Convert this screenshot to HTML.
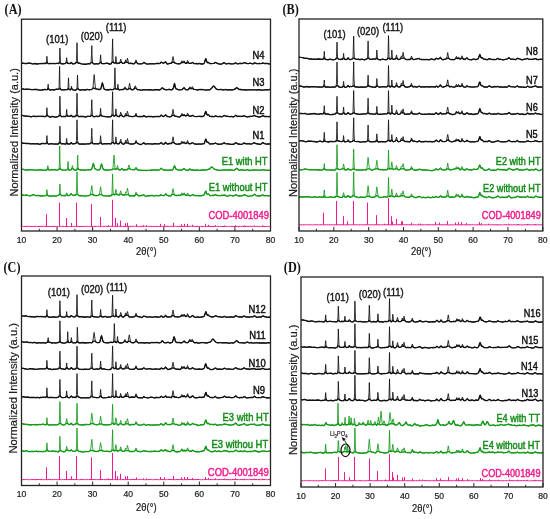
<!DOCTYPE html>
<html><head><meta charset="utf-8"><style>
html,body{margin:0;padding:0;background:#fff;}
svg{display:block;}
</style></head><body>
<svg width="550" height="519" viewBox="0 0 550 519" font-family="'Liberation Sans', Arial, sans-serif">
<rect width="550" height="519" fill="#fff"/>
<polyline fill="none" stroke="#111111" stroke-width="1.35" stroke-linejoin="round" points="21.5,63 25.5,63.6 26,63.4 27,63.5 28,63.2 29,63.3 29.5,63.1 31.5,63.5 32,63.8 33.5,63.8 35,63.5 37,64 39.5,63.6 40,63.7 41,63.5 41.5,63.6 44.5,63.3 45.5,63.5 46,63.4 46.5,62.4 47,62.5 48,63.6 48.5,63.7 50,63.4 52,63.6 53,63.4 55.5,63.6 57,63.3 58,63.4 58.5,63.6 59,63.4 59.5,62.6 60.5,62.9 61,63.6 62,63.9 63,63.6 63.5,63.9 65.5,63.4 66.5,62.1 66.7,62.1 67,62.2 67.5,63.3 68,63.4 70,63.5 70.5,63.4 71,62.8 71.5,62.6 72.5,63.8 74,63.9 75.5,63.2 76.5,62.1 77,62.4 77.5,62.3 78,63 78.5,63.2 79.5,63.2 81.5,63.9 83.5,64.2 86.5,64.2 87.5,63.8 89,63.7 90,63.9 91.5,62.3 91.8,62.3 92,62.3 92.5,62.7 93,63.5 94,64 95.5,63.9 96.5,63.7 97,63.9 98.5,63.8 99.5,63.3 100.6,62.1 101,62.2 101.5,63.3 102.5,63.7 104.5,63.6 107,63.1 109.5,64 110.5,64 111,63.8 112,62.4 113,61.9 114,62.9 115,63.2 115.5,62.6 116.5,62.9 117,63.5 119,63.1 119.5,63.2 120,62.3 121,62.2 121.5,62.2 122,62.9 122.5,63.3 124,63.4 124.5,63.1 125,62.2 125.7,62.3 126,62.1 128,62.5 129,63.4 129.5,63.6 130.5,63.2 131.5,63.5 132,63.3 133,63.9 134.5,63.6 135.5,62.1 136.5,62.1 137.5,63.5 139,63.9 140.5,63.9 142.5,63.6 143.9,62.4 145.5,63.5 147.5,64.1 149,63.9 150,63.6 150.5,63.8 152,63.6 154.5,63.8 156.5,63.4 159.5,63.5 160,63.4 160.5,63 161,62.2 161.5,62.2 162.5,62.9 163.5,63.2 165,62.3 166,62.4 167,63.8 167.5,64 170,63.3 171,63.4 171.5,63.1 172,62.1 172.5,62.3 173.5,62.1 174,62.2 174.5,62.9 177.5,63.8 178.5,63.7 179,63.9 180.5,63.6 181.5,62.6 183,62.6 183.5,62.2 184.1,62.1 184.5,62.3 185.5,63.4 186.5,63.3 187,62.7 187.6,62.7 188,62.4 188.5,62.6 189,63.3 191,63.4 192.6,62.5 193,62.6 193.5,63.5 194,63.6 195.5,63.6 196,63.4 196.5,63.7 198.5,63.7 199,63.4 200,63.7 201,63.7 201.5,64 203,64 204,63.5 204.5,62.5 205.5,59.1 205.8,58.8 206,59.1 207,62.3 207.5,62.7 208.5,62.5 209.5,63.5 210,63.6 210.5,63.4 211,63.6 214,63.4 215,62.5 216,62.7 217.5,63.5 218,63.5 219.5,64.1 221.5,64 222.5,63.6 224,62.6 224.5,62.8 225.5,63.7 226,63.8 226.5,63.9 229,63.3 230.5,63.9 232.5,63.9 234.5,63.6 235,63 235.6,62.7 237,63.8 237.5,63.9 240,63.3 242.5,63.5 244.5,62.6 245.5,63.2 246,63.1 247.5,63.6 248.5,63.6 250,63.2 251,63.3 252.5,63.8 253,63.8 253.5,63.8 254.5,62.8 257,63.7 259,63.6 259.5,63.4 260,63.6 261,63.6 262,63.4 262.7,62.8 263.5,63.3 265,63.5 267.5,63.5 269,63.9 270,64 270.5,63.8"/>
<polyline fill="none" stroke="#111111" stroke-width="0.85" stroke-linejoin="round" points="21.5,63 25.5,63.6 26,63.4 27,63.5 28,63.2 29,63.3 29.5,63.1 31.5,63.5 32,63.8 33.5,63.8 35,63.5 37,64 39.5,63.6 40,63.7 41,63.5 41.5,63.6 44.5,63.3 45.5,63.5 46,63.4 46.5,62.3 46.9,56.3 47.5,63.2 48,63.6 48.5,63.7 50.5,63.4 52,63.6 53,63.4 55.5,63.6 57,63.3 58,63.4 58.5,63.6 59,63.4 59.5,60.6 59.9,48 60.5,62.8 61,63.6 62,63.9 63,63.6 63.5,63.9 65.5,63.4 66,62.9 66.7,57.7 67,61 67.5,63.3 69.5,63.6 70.5,63.4 71.3,61.9 72,63.2 72.5,63.8 74,63.9 76,62.8 76.5,60.5 77,42.7 77.5,61 78,63 78.5,63.2 79.5,63.2 81.5,63.9 83.5,64.2 86.5,64.2 87.5,63.8 89,63.7 90,63.9 90.5,63.5 91,62.8 91.5,54.6 91.8,45.6 92,54.2 92.5,62.7 93,63.5 94,64 95.5,63.9 96.5,63.7 97,63.9 98.5,63.8 99.5,63.3 100,62.7 100.6,54.9 101,60.3 101.5,63.3 102.5,63.7 104.5,63.6 107,63.1 109.5,64 110.5,64 111,63.8 111.5,63.2 112,61.3 112.6,38.9 113,58.6 113.5,62.3 114,62.9 115,63.2 115.5,61.9 115.9,56.5 116.5,62.9 117,63.5 119,63.1 119.5,63.2 120,62.3 120.7,59 121.5,62.1 122,62.9 122.5,63.3 124,63.4 124.5,63.1 125,62.2 125.7,59.8 126.5,61.6 127,60.4 127.5,58.1 128.5,62.9 129,63.4 129.5,63.6 130.5,63.2 131.5,63.5 132,63.3 133,63.9 134.5,63.6 135,63 136,59.9 137,62.9 137.5,63.5 139,63.9 140.5,63.9 142.5,63.6 143.9,62.4 145.5,63.5 147.5,64.1 149,63.9 150,63.6 150.5,63.8 152,63.6 154.5,63.8 156.5,63.4 159.5,63.5 160,63.4 160.5,63 161.3,62 162.5,62.9 163.5,63.2 164.5,62.7 165.6,61.1 166.5,63.1 167,63.8 167.5,64 169,63.5 170.5,63.3 171,63.4 171.5,63.1 172,62 173,56.5 174,61.9 174.5,62.9 177.5,63.8 178.5,63.7 179,63.9 180.5,63.6 181,63.2 181.9,60.7 182.5,62.1 183,62.6 184.1,60.8 185.5,63.4 186.5,63.3 187.6,60.4 188,61 188.5,62.6 189,63.3 189.5,63.4 191.5,63.3 192.6,62.3 193.5,63.5 195.5,63.6 196,63.4 196.5,63.7 198.5,63.7 199,63.4 200,63.7 201,63.7 201.5,64 203,64 204,63.5 204.5,62.5 205.5,59.1 205.8,58.8 206,59.1 207,62.3 207.5,62.7 208.2,62.3 209.5,63.5 210,63.6 210.5,63.4 211,63.6 214,63.4 215,62.5 216,62.7 217.5,63.5 218,63.5 219.5,64.1 221.5,64 222.5,63.6 224,62.6 224.5,62.8 225.5,63.7 226,63.8 226.5,63.9 229,63.3 230.5,63.9 232.5,63.9 234.5,63.6 235,63 235.6,62.7 237,63.8 237.5,63.9 240,63.3 242.5,63.5 244.5,62.6 245.5,63.2 246,63.1 247.5,63.6 248.5,63.6 250,63.2 251,63.3 252.5,63.8 253,63.8 253.5,63.8 254.5,62.8 257,63.7 259,63.6 259.5,63.4 260,63.6 261,63.6 262,63.4 262.7,62.8 263.5,63.3 265,63.5 267.5,63.5 269,63.9 270,64 270.5,63.8"/>
<polyline fill="none" stroke="#111111" stroke-width="1.35" stroke-linejoin="round" points="21.5,89.1 23,88.9 24.5,89.4 26.5,89.1 27.5,89.4 28,89.2 32,89.7 35,89.4 37,89.5 38,89.9 39.5,90.1 42,90 43,89.7 44,89.7 45,89.4 46.5,89.7 47.5,89.5 48,88.4 48.5,88.4 49,89.5 50,90.1 52.5,89.7 54,90 56.5,89.2 58.5,89.3 59.5,88.5 60,88.4 60.5,89.3 61.5,89.8 62,89.7 63,89.9 64.5,89.9 65,89.7 67.5,89.6 68,88.7 68.5,88.8 69.5,89.7 70.5,89.8 71.5,88.2 72.5,89.6 74.5,90.2 75.5,90.2 76.5,89.7 77.5,88.4 78,88.7 78.5,89.4 80,90 82,89.9 83,89.6 83.5,89.8 85.5,90 87,89.4 89.5,89.8 90,89.6 91.5,89.5 92.5,88.8 93,88 96.5,89.1 97.5,89.1 99,89.5 100,89.5 100.5,89 101,88.2 102.4,82.8 104,88.8 104.5,89.4 106,89.8 107,89.7 108,90 110.5,89.4 111.5,89.7 113.5,89.5 114.5,88.6 115.5,88.7 116,89.2 117,89.4 117.5,88.6 118,88.6 119,89.8 119.5,89.9 120.5,89.6 121.5,89.7 122,89.5 123.5,89.5 124.5,88.5 125.5,88.5 127,89.6 128,89.5 128.5,88.7 129,88.5 130.5,88.4 131,89.3 131.5,89.6 132,89.8 133,89.8 134,89.1 134.5,88.1 135,87.9 136,88.3 137.5,89.7 138.5,89.6 141,90.2 142.5,90 143,89.7 144.5,89.8 145,89.6 148,89.9 149,89.7 150,90 151,89.7 151.5,89.9 153.5,90.1 154.5,89.7 155,89.6 155.5,89.8 156,89.5 157,89.8 158,89.6 159,90 160.5,89.5 162,87.9 162.4,87.8 163.5,89 165.5,89.7 166.5,89.8 169,89.3 170.5,89.7 172,89.7 173,88.9 173.5,87.6 174.5,83.5 175.5,87.8 176,88.8 179,89.9 182,89.6 183.5,88.3 184,88.2 184.5,88.4 185.5,89.5 187.5,89.8 188,89.8 188.5,89.4 189,88.6 190,88.5 190.5,88.3 191,88.6 192.5,88.3 193,88.3 193.5,89.1 194,89.4 196.5,89.6 197.5,90 200,89.4 201.5,89.7 202,89.5 202.5,89.7 203.5,89.6 204.5,89.9 206,90.1 207,89.9 209.5,89.8 210.5,89.3 211.5,88.3 213,86.3 213.6,86.1 214,86.2 216.5,89.2 218,89.6 222,89.5 223,90 225,89.7 225.5,89.5 227,89.9 228,90 229.5,89.7 230.5,89.7 231,90 232.5,89.7 233,89.8 234.5,89.2 235,89.2 236,88.1 236.7,87.6 239,89.4 239.5,89.5 240,89.3 240.5,89.6 241,89.5 242,89.8 243,89.6 245.5,90 247.5,89.8 248,89.9 249,89.6 249.5,89.8 255.5,89.8 257.5,90 258.5,89.7 260,89.7 261,90.1 262.5,90.2 266,89.7 266.5,89.9 267,89.8 268.5,89.9 269.5,89.5 270.5,89.5"/>
<polyline fill="none" stroke="#111111" stroke-width="0.85" stroke-linejoin="round" points="21.5,89.1 23,88.9 24.5,89.4 26.5,89.1 27.5,89.4 28,89.2 32,89.7 35,89.4 37,89.5 38,89.9 39.5,90.1 42,90 43,89.7 44,89.7 45,89.4 46.5,89.7 47.5,89.5 48.2,84.2 48.5,88 49,89.5 49.5,89.9 50,90.1 52.5,89.7 54,90 56.5,89.2 58.5,89.3 59,88.8 59.6,66.4 60,86.8 60.5,89.3 61.5,89.8 62,89.7 63,89.9 64.5,89.9 65,89.7 67.5,89.6 68,88.7 68.5,77.8 69,89.3 69.5,89.7 70.5,89.8 71,89 71.5,86.2 72,89.1 72.5,89.6 74.5,90.2 75.5,90.2 76.5,89.7 77,89 77.5,75.1 78,88.7 78.5,89.4 79.5,89.9 80.5,90 82,89.9 83,89.6 83.5,89.8 85.5,90 87,89.4 89.5,89.8 90,89.6 91.5,89.5 92.5,88.8 93,87.4 94.2,74.6 95,84.2 95.5,88.2 96,89 97.5,89.1 99,89.5 100,89.5 100.5,89 101,88.2 102.4,82.8 103.5,87.2 104,88.8 104.5,89.4 106,89.8 107,89.7 108,90 110.5,89.4 111.5,89.7 113.5,89.5 114,89 114.5,84 114.9,67.9 115.5,88.3 116,89.2 117,89.4 117.5,88.1 117.9,84.3 118.5,89.3 119,89.8 119.5,89.9 120.5,89.6 121.5,89.7 122,89.5 123.5,89.5 124,89.1 125,86.8 126,88.9 127,89.6 128,89.5 128.5,88.7 129.6,83.2 130.5,87.7 131,89.3 132,89.8 133,89.8 134,89.1 135,86.2 135.3,85.8 136.5,88.8 137,89.3 137.5,89.7 138.5,89.6 140.5,90.1 141.5,90.2 142.5,90 143,89.7 144.5,89.8 145,89.6 148,89.9 149,89.7 150,90 151,89.7 151.5,89.9 153.5,90.1 154.5,89.7 155,89.6 155.5,89.8 156,89.5 157,89.8 158,89.6 159,90 160.5,89.5 162,87.9 162.4,87.8 163.5,89 165.5,89.7 166.5,89.8 169,89.3 170.5,89.7 172,89.7 173,88.9 173.5,87.6 174.5,83.5 175.5,87.8 176,88.8 179,89.9 182,89.6 183,88.8 184.1,87 185,88.9 185.5,89.5 188,89.8 188.5,89.4 189.8,86.7 191,88.6 191.5,88.1 192.2,86.5 192.5,86.8 193.5,89.1 194.5,89.5 196.5,89.6 197.5,90 200,89.4 201.5,89.7 202,89.5 202.5,89.7 203.5,89.6 204.5,89.9 206,90.1 207,89.9 209.5,89.8 210.5,89.3 211.5,88.3 213,86.3 213.6,86.1 214,86.2 216.5,89.2 218,89.6 222,89.5 223,90 225,89.7 225.5,89.5 227,89.9 228,90 229.5,89.7 230.5,89.7 231,90 232.5,89.7 233,89.8 234.5,89.2 235,89.2 236,88.1 236.7,87.6 239,89.4 239.5,89.5 240,89.3 240.5,89.6 241,89.5 242,89.8 243,89.6 245.5,90 247.5,89.8 248,89.9 249,89.6 249.5,89.8 255.5,89.8 257.5,90 258.5,89.7 260,89.7 261,90.1 262.5,90.2 266,89.7 266.5,89.9 267,89.8 268.5,89.9 269.5,89.5 270.5,89.5"/>
<polyline fill="none" stroke="#111111" stroke-width="1.35" stroke-linejoin="round" points="21.5,115.4 23,115.5 24,116 24.5,115.9 25.5,116.1 26.5,116 27,116.2 29.5,116.3 30.5,116.7 31.5,116.7 34,116.1 34.5,116.4 35.5,116.5 38,116.3 43.5,116.3 44,116.6 45,116.6 46,116.4 46.5,115.3 47,115.2 47.5,115.5 48,116.2 50,117 51,116.9 52,116.5 52.5,116.5 53.5,116.6 54.5,117 56,117.1 58.5,116.4 59.5,115.4 59.9,115.3 60.5,115.3 61,116.3 61.5,116.6 64,116.4 65.5,116.6 66,116.2 66.5,115.4 67,115.3 67.5,116 70,116.4 70.5,116.2 71,115.4 72,116 72.5,116.7 73,116.7 74,116.5 74.5,116.7 75.5,116.3 76,116.1 76.5,115.2 77,115.2 77.5,115.3 78.5,116.6 79,116.7 80,116.4 80.5,116.5 81,116.3 82,116.5 83,116.3 85.5,117.1 87.5,116.3 89,116.4 90.5,116.3 91.5,115.1 92,115.3 93,116.2 94,116.8 96.5,116.2 97.5,116.5 99,116.4 99.5,116.2 100.5,115 101,114.9 101.5,115.8 102.5,116.2 107.5,116.9 108,116.7 108.5,116.8 110.5,116.8 111.5,116.1 112,115.2 113,115.2 114,116.1 114.5,116.2 115,115.9 115.5,115.2 115.9,115 116.5,115.2 117,115.9 117.5,116.3 118,116.3 119,116.7 119.5,116.5 120,115.4 120.7,115.3 121.5,114.9 122,115.9 122.5,116.3 124,116.7 124.5,116.5 125,115.6 126,115.7 128,115.5 128.5,115.7 129,116.1 132.5,116.7 135,116.1 135.5,115.3 136.5,115.5 137,116.4 138.5,116.7 139.5,116.5 140,116.5 140.5,116.7 142,116.5 142.5,116.6 143.9,115.6 145.5,116.7 147,116.7 149,116.3 151,116.7 151.5,116.5 153,116.9 153.5,116.6 154,116.8 155,116.4 156.5,116.6 158,116.3 159.5,116.6 160.5,116 161,115.2 161.5,115.3 162.5,116.1 163.5,116.5 164,116.3 165,115.4 166,115.4 167,116.3 167.5,116.5 170,116.8 171,116.6 171.5,116.2 172,115.3 173,115.2 174,115.4 174.5,116 176.5,116.3 178,116.8 179.5,116.9 180.5,116.3 181.5,115.1 182,115.1 183,115.6 184.5,115.2 185.5,116 186.5,115.7 187,115.3 188,115.1 188.5,115.4 189,116 191,116.1 191.5,116 192,115.6 192.6,115.4 194,116.3 197,116.6 198,116.4 199.5,116.3 200.5,116.5 201,116.3 202.5,116.5 203.5,116.2 204.5,115.1 205.5,111.8 205.8,111.5 206,111.8 207,114.7 207.5,115 208,114.7 208.5,114.9 209.5,116.1 210.5,116.4 211,116.3 211.5,116.6 212,116.4 213.5,116.7 214.5,116.5 215.4,115.9 217.5,116.7 220,116.3 221.5,116.8 223,116.3 224,115.4 226,116.4 227,116.2 229,116.6 231.5,116.5 233.5,116.9 234.5,116.3 235.6,115.4 236,115.4 237,116.3 238,116.5 239,116.2 239.5,116.4 241,116.3 241.5,116.5 242,116.2 243,116.3 243.5,116.2 244.2,115.6 245,116.2 246.5,116.9 248,116.8 249,116.4 249.5,116.6 250.5,116.3 251.5,116.4 253.5,115.9 254.5,115.4 255.5,116.1 259,117 261,116.7 262.7,115.6 263,115.6 264.5,116.5 265,116.3 269,116.7 270,116.5 270.5,116.6"/>
<polyline fill="none" stroke="#111111" stroke-width="0.85" stroke-linejoin="round" points="21.5,115.4 23,115.5 24,116 24.5,115.9 25.5,116.1 26.5,116 27,116.2 29.5,116.3 30.5,116.7 31.5,116.7 34,116.1 34.5,116.4 35.5,116.5 38,116.3 43.5,116.3 44,116.6 46,116.4 46.5,114.9 46.9,107.7 47.5,115.5 48,116.2 49.5,116.8 50.5,117 52.5,116.5 53.5,116.6 54.5,117 56,117.1 58.5,116.4 59,115.9 59.5,112.5 59.9,96.2 60.5,114.8 61,116.3 61.5,116.6 64,116.4 65,116.6 65.5,116.6 66,116.2 66.7,109.4 67,113.4 67.5,116 70,116.4 70.5,116.2 71,115.1 71.3,114.9 72.5,116.7 74,116.5 74.5,116.7 75.5,116.3 76,116.1 76.5,113.3 77,93.2 77.5,113.7 78,116 78.5,116.6 79,116.7 80,116.4 80.5,116.5 81,116.3 82,116.5 83,116.3 85.5,117.1 87.5,116.3 90,116.4 90.5,116.3 91,115.7 91.5,107.9 91.8,99.8 92,107.8 92.5,115.6 93,116.2 94,116.8 96.5,116.2 97.5,116.5 99.5,116.2 100,115.4 100.6,108.3 101,113.2 101.5,115.8 102.5,116.2 103,116.2 105.5,116.8 106,116.7 107.5,116.9 108,116.7 108.5,116.8 110.5,116.8 111.5,116.1 112,114.1 112.6,91.7 113,111.9 113.5,115.8 114,116.1 114.5,116.2 115,115.9 115.5,114.6 115.9,108.9 116.5,115.2 117,115.9 117.5,116.3 118,116.3 119,116.7 119.5,116.5 120,115.4 120.7,112.1 121.5,114.9 122,115.9 123,116.6 124,116.7 124.5,116.5 125,115.6 125.7,113.1 126.5,115.2 127.5,111.2 128.5,115.7 129,116.1 131,116.5 132.5,116.7 135,116.1 136,113.2 137,116.4 138.5,116.7 139.5,116.5 140,116.5 140.5,116.7 142,116.5 142.5,116.6 143.9,115.6 145.5,116.7 147,116.7 149,116.3 151,116.7 151.5,116.5 153,116.9 153.5,116.6 154,116.8 155,116.4 156.5,116.6 158,116.3 159.5,116.6 160.5,116 161,115.2 161.3,115 162.5,116.1 163.5,116.5 164,116.3 164.5,115.8 165.6,114.2 167,116.3 170,116.8 171,116.6 171.5,116.2 172,115.2 173,109.4 174,115 174.5,116 176.5,116.3 178,116.8 179.5,116.9 180.5,116.3 181,115.8 181.9,113.3 183,115.6 184.1,114 185,115.6 185.5,116 186,115.9 186.5,115.7 187.6,113 188.5,115.4 189,116 191.5,116 192.6,115.2 193.5,116.1 194.5,116.4 197,116.6 198,116.4 199.5,116.3 200.5,116.5 201,116.3 202.5,116.5 203.5,116.2 204.5,115.1 205.5,111.8 205.8,111.5 206,111.8 207,114.7 207.5,115 208.2,114.7 209.5,116.1 210.5,116.4 211,116.3 211.5,116.6 212,116.4 213.5,116.7 214.5,116.5 215.4,115.9 217.5,116.7 220,116.3 221.5,116.8 223,116.3 224,115.4 226,116.4 227,116.2 229,116.6 231.5,116.5 233.5,116.9 234.5,116.3 235.6,115.4 236,115.4 237,116.3 238,116.5 239,116.2 239.5,116.4 241,116.3 241.5,116.5 242,116.2 243,116.3 243.5,116.2 244.2,115.6 245,116.2 246.5,116.9 248,116.8 249,116.4 249.5,116.6 250.5,116.3 251.5,116.4 253.5,115.9 254.5,115.4 255.5,116.1 259,117 261,116.7 262.7,115.6 263,115.6 264.5,116.5 265,116.3 269,116.7 270,116.5 270.5,116.6"/>
<polyline fill="none" stroke="#111111" stroke-width="1.35" stroke-linejoin="round" points="21.5,143 25,143.4 25.5,143.3 26,143.5 29,143.5 30.5,143.8 33,143.6 35,143.9 37.5,143.7 38,144 38.5,143.9 39.5,144.3 42,143.5 45.5,143.7 46,143.6 46.5,142.6 47,142.6 48,143.9 48.5,144.2 51.5,143.6 54.5,144.2 55.5,143.9 58,144.1 59,143.4 59.5,142.6 60.5,142.7 61,143.6 61.5,143.8 63,143.6 65.5,144.2 66,143.9 66.5,143.1 67,143.2 67.5,143.9 68,144 68.5,143.8 70,144 71,142.9 71.5,142.9 72.5,143.9 75.5,143.5 76,143.3 76.5,142.6 77.5,142.4 79,144 79.5,143.9 80.5,144.2 81.5,143.9 82,144.1 83,144 85,144.1 86.5,143.9 89,143.9 90.5,143.5 91.5,142.4 92,142.7 93,143.7 94,143.8 95.5,143.6 98,143.9 99.5,143.5 100.6,142.5 101,142.7 101.5,143.7 102.5,144.2 103.5,143.8 105,143.7 108,143.7 109,143.6 109.5,143.8 111,143.9 111.5,143.4 112,142.5 113,142.6 114.5,143.8 115,143.7 115.5,142.7 116,142.7 116.5,143 117,143.7 118,143.7 118.5,143.9 119,143.8 119.5,143.3 120,142.4 121.5,142.4 122,143.5 123,144.1 124,144 124.5,143.7 125,142.8 125.7,142.7 126.5,143 127,142.8 128,143 129.5,143.9 131,143.9 132,144.2 134.5,143.6 135,143.4 135.5,142.7 136.5,142.5 137.5,143.3 140,144.5 140.5,144.5 142,144.1 143,143.2 143.9,142.8 145,143.9 145.5,144 147,143.9 147.5,143.7 149.5,143.9 150.5,143.8 153,144.2 154,143.7 155,143.7 157,143.8 157.5,143.9 159,143.9 160,143.5 161,142.7 161.5,142.8 162.5,143.9 163,144.2 164,144.1 164.5,143.7 165,142.9 165.6,143.1 166,142.9 167,143.9 168,144 169.5,143.4 170,143.7 170.5,143.5 171,143.7 171.5,143.5 172,142.7 173.5,142.5 174,142.5 174.5,143.3 176.5,144.2 178,144.1 179,143.9 180,144 180.5,143.8 181.5,142.8 182.5,142.8 183,143 184.5,142.6 185,143.3 186,143.6 187,142.8 187.6,142.7 188.5,143.3 189,143.9 191,143.5 191.5,143.3 192,142.8 192.6,142.8 193,142.9 193.5,143.5 194.5,144 195,143.8 196,144 196.5,144.3 197,144.1 198.5,144.1 199,143.8 199.5,144 201.5,144.1 202,143.9 203,143.9 204,143.6 204.5,142.8 205.8,139 206,139.3 207,142.2 207.5,142.5 208,142.2 208.5,142.5 209.5,143.8 210.5,144 211,143.8 211.5,143.9 213,143.6 213.5,143.8 215.4,143 217.5,144.1 218.5,144 219,144.3 220.5,144.1 221,144.2 223,143.6 223.5,143.1 224.3,142.8 225,143.5 225.5,143.6 227,143.8 227.5,143.7 228.5,144.1 229,143.9 230.5,144.3 232.5,144.3 233,144.1 234,144.2 235,143.1 235.6,142.7 236,142.7 237,143.5 238.5,144.1 239,144 240,144.3 242,144.2 243,143.8 244.2,142.9 245,143.5 246.5,143.8 247,143.7 248,143.9 249,143.7 251,144.1 252,143.8 253.5,143 254.5,142.8 256,143.7 257,143.7 258,144 260.5,144.3 261.5,143.7 262.5,142.7 263,142.6 264.5,143.6 266.5,144.2 268,143.8 270.5,144"/>
<polyline fill="none" stroke="#111111" stroke-width="0.85" stroke-linejoin="round" points="21.5,143 25,143.4 25.5,143.3 26,143.5 29,143.5 30.5,143.8 33,143.6 35,143.9 37.5,143.7 38,144 38.5,143.9 39.5,144.3 42,143.5 45.5,143.7 46,143.6 46.5,142.4 46.9,135.6 47.5,143.3 48,143.9 48.5,144.2 51.5,143.6 54.5,144.2 55.5,143.9 58,144.1 59,143.4 59.5,140.2 59.9,126.1 60.5,142.5 61,143.6 61.5,143.8 63,143.6 65.5,144.2 66,143.9 66.7,138.4 67,141.9 67.5,143.9 68,144 68.5,143.8 70,144 70.5,143.6 71.3,142.1 72,143.5 72.5,143.9 75.5,143.5 76,143.3 76.5,140.6 77,119.8 77.5,140.7 78,143.1 79,144 79.5,143.9 80.5,144.2 81.5,143.9 82,144.1 83,144 85,144.1 86.5,143.9 89,143.9 90.5,143.5 91,143 91.5,135.9 91.8,128.3 92,135.8 92.5,143.2 93,143.7 94,143.8 95.5,143.6 98.5,143.9 99.5,143.5 100,143 100.6,135.7 101,141 101.5,143.7 102.5,144.2 103.5,143.8 105,143.7 108,143.7 109,143.6 109.5,143.8 111,143.9 111.5,143.4 112,141.5 112.6,119.8 113,139.4 113.5,143 114.5,143.8 115,143.7 115.5,142.2 115.9,136.9 116.5,143 117,143.7 118,143.7 118.5,143.9 119,143.8 119.5,143.3 120,142.3 120.7,139.2 121.5,142.4 122,143.5 123,144.1 124,144 124.5,143.7 125,142.8 125.7,140.2 126.5,142.5 127.5,138.5 128.5,143.2 129.5,143.9 131,143.9 132,144.2 133.5,143.9 135,143.4 136,140.3 137,143 140,144.5 140.5,144.5 142,144.1 143,143.2 143.9,142.8 145,143.9 145.5,144 147,143.9 147.5,143.7 149.5,143.9 150.5,143.8 153,144.2 154,143.7 155,143.7 157,143.8 157.5,143.9 159,143.9 160,143.5 161.3,142.6 162.5,143.9 163,144.2 163.5,144.1 164,144.1 164.5,143.7 165.6,141.8 167,143.9 168.5,143.9 169.5,143.4 170,143.7 170.5,143.5 171,143.7 171.5,143.5 172,142.6 173,136.8 174,142.1 174.5,143.3 176.5,144.2 178,144.1 179,143.9 180,144 180.5,143.8 181,143.3 181.9,141.1 183,143 184.1,141.5 184.5,142 185,143.3 186,143.6 186.5,143.2 187.6,140.4 188.5,143.3 189,143.9 191.5,143.3 192.6,142.5 193.5,143.5 194.5,144 195,143.8 196,144 196.5,144.3 197,144.1 198.5,144.1 199,143.8 199.5,144 201.5,144.1 202,143.9 203,143.9 204,143.6 204.5,142.8 205.8,139 206,139.3 207,142.2 207.5,142.5 208,142.2 208.2,142.3 209.5,143.8 210.5,144 211,143.8 211.5,143.9 213,143.6 213.5,143.8 215.4,143 217.5,144.1 218.5,144 219,144.3 220.5,144.1 221,144.2 223,143.6 223.5,143.1 224.3,142.8 225,143.5 225.5,143.6 227,143.8 227.5,143.7 228.5,144.1 229,143.9 230.5,144.3 232.5,144.3 233,144.1 234,144.2 235,143.1 235.6,142.7 236,142.7 237,143.5 238.5,144.1 239,144 240,144.3 242,144.2 243,143.8 244.2,142.9 245,143.5 246.5,143.8 247,143.7 248,143.9 249,143.7 251,144.1 252,143.8 253.5,143 254.5,142.8 256,143.7 257,143.7 258,144 260.5,144.3 261.5,143.7 262.5,142.7 263,142.6 264.5,143.6 266.5,144.2 268,143.8 270.5,144"/>
<polyline fill="none" stroke="#149a1a" stroke-width="1.35" stroke-linejoin="round" points="21.5,169.2 23.5,169.3 24.5,169.8 26,170 28,170 30,169.6 35.5,170.2 41,169.9 43,170.1 43.5,170.3 44.5,170.1 46,170.2 47,169.8 47.5,168.9 48,168.8 48.5,169.8 49.5,170.1 50.5,169.8 52,169.7 53,169.8 54.5,169.7 55,169.9 55.5,169.8 56,170 57,170.1 58,169.9 59,169.3 59.5,168.6 60,168.4 61,169.7 63,170.1 65,170.2 67,169.8 68.1,168.9 68.5,169.1 69,170.1 70,170.2 71,169.8 72,168.6 72.5,168.4 73,168.6 73.5,169.4 75,170.3 76.5,170 77,169.5 77.5,168.5 78,168.4 78.5,169.3 79,169.7 80.5,170 83,169.9 85,170.2 85.5,170.2 86.5,169.8 88.5,169.7 89,169.8 90,169.6 91,169.8 91.5,169.2 92,168.3 93.4,163.3 94.5,167.7 95,168.7 97,169.8 98.5,170.1 99.5,169.7 100,169.1 101.5,164 103,168.7 103.5,169.6 105,170 107.5,169.9 109,170.1 111,169.6 112,169.7 113,169.1 115,169 116,169.3 117,168.8 118,168.9 119,169.8 120,170 120.5,169.9 121.5,168.9 122,168.9 122.5,169 123.5,170.1 124,170 126,169.6 127,169.8 127.5,169.5 128,168.7 128.5,168.8 129.5,168.4 130,168.6 130.5,169.4 134.5,169.9 135.5,168.8 136.5,168.7 137,169.1 137.5,169.9 138,170.1 140.5,170.1 142,170.4 145,170.3 146,170.5 148,170.3 150.5,170.3 151.5,169.9 152,170.1 153,170 153.5,170.1 155,169.8 158,170.2 160,169.6 161.3,168.1 162.5,169.5 163.5,170 166,170 167.5,170.3 170,170 171.5,170.1 172.5,169.9 173,169.5 174.5,165.8 176,169.1 176.5,169.5 177,169.4 178.5,170.1 179.5,170.2 181,169.9 182,170 183,169.5 183.5,168.7 184.5,168.9 185.5,169.8 188,170.3 188.5,170.3 189,169.6 189.8,169.2 190.5,169.4 191,170 193.5,169.9 195,170.3 196,170 197,170.2 197.5,170 198.5,170.3 200.5,170.4 201.5,170 204.5,169.9 205,170.1 205.5,169.9 206.5,169.9 209.5,169 211.5,167.1 211.8,167 212.5,167.4 214,169 215,169.6 215.5,169.5 219,170.4 225,169.9 226,170.1 227.5,170.1 228,169.9 230.5,170 231,169.8 233.5,170.4 234.5,170.2 236.7,168.3 237,168.3 238,169.5 239,170.2 240.5,170.2 241.5,169.7 242.5,170.1 243,169.9 244,170.3 245,170.3 247.5,169.7 249.5,170.5 254.5,169.8 257.5,170.2 259,170.1 260.5,170.2 261.5,170.2 263,169.6 266,170.4 268.5,170.1 269,170.3 270.5,170.4"/>
<polyline fill="none" stroke="#149a1a" stroke-width="0.85" stroke-linejoin="round" points="21.5,169.2 23.5,169.3 24.5,169.8 26,170 28,170 30,169.6 35.5,170.2 41,169.9 43,170.1 43.5,170.3 44.5,170.1 46,170.2 47,169.8 47.5,168.9 47.8,165.7 48.5,169.8 49,170.1 49.5,170.1 50.5,169.8 52,169.7 53,169.8 54.5,169.7 55,169.9 55.5,169.8 56,170 57,170.1 58,169.9 59,169.3 59.5,161.7 59.7,145.9 60,162.8 60.5,169.2 61,169.7 63,170.1 65,170.2 67,169.8 67.5,169.4 68.1,161.4 68.5,168.8 69,170.1 70,170.2 71,169.8 71.5,169.1 72.4,165.6 73,168.3 73.5,169.4 75,170.3 76.5,170 77,169.5 77.5,163.3 77.7,155.2 78,166.5 78.5,169.3 79,169.7 80.5,170 83,169.9 85,170.2 85.5,170.2 86.5,169.8 88.5,169.7 89,169.8 90,169.6 91,169.8 91.5,169.2 92,168.3 93.4,163.3 94.5,167.7 95,168.7 97,169.8 98,170 99,170 100,169.1 101.5,164 102.5,167.5 103.5,169.6 105,170 107.5,169.9 108.5,170.1 111,169.6 112,169.7 112.5,169.4 113,168 114,155.1 115,168 115.5,169.2 116.5,169.1 117.5,165.6 118.5,169.4 119,169.8 120,170 120.5,169.9 121.8,168.1 123.5,170.1 126,169.6 127,169.8 127.5,169.5 128,168.3 128.9,164.9 130,168.6 130.5,169.4 134.5,169.9 135,169.2 136,167 137,169.1 137.5,169.9 138,170.1 140.5,170.1 142,170.4 145,170.3 146,170.5 148,170.3 150.5,170.3 151.5,169.9 152,170.1 153,170 153.5,170.1 155,169.8 158,170.2 160,169.6 161.3,168.1 162.5,169.5 163.5,170 166,170 167.5,170.3 170,170 172,170.1 172.5,169.9 173,169.5 174.5,165.8 176,169.1 176.5,169.5 177,169.4 178.5,170.1 179.5,170.2 181,169.9 182,170 183,169.5 184.1,168.1 185,169.5 185.5,169.8 188,170.3 188.5,170.3 189.8,168.5 191,170 191.5,170.1 192.5,169.9 194.5,170.1 195,170.3 196,170 197,170.2 197.5,170 198.5,170.3 200.5,170.4 201.5,170 204.5,169.9 205,170.1 205.5,169.9 206.5,169.9 209.5,169 211.5,167.1 211.8,167 212.5,167.4 214,169 215,169.6 215.5,169.5 219,170.4 225,169.9 226,170.1 227.5,170.1 228,169.9 230.5,170 231,169.8 233.5,170.4 234.5,170.2 236.7,168.3 237,168.3 238,169.5 239,170.2 240.5,170.2 241.5,169.7 242.5,170.1 243,169.9 244,170.3 245,170.3 247.5,169.7 249.5,170.5 254.5,169.8 257.5,170.2 259,170.1 260.5,170.2 261.5,170.2 263,169.6 266,170.4 268.5,170.1 269,170.3 270.5,170.4"/>
<polyline fill="none" stroke="#149a1a" stroke-width="1.35" stroke-linejoin="round" points="21.5,194.7 22,194.7 24,195.3 25,195.3 26,195 28.5,195.7 30.5,195.9 33,194.7 36.5,195.8 37,195.4 38.5,195.5 40.5,196 41.5,195.8 42,196.1 43,195.8 46,195.7 46.5,194.7 47,194.6 48,195.8 49,195.6 49.5,196 51,196.1 52.5,195.9 56,196.1 58,195.3 58.5,195.4 59,195 59.5,194.2 59.9,194.4 60.5,194.4 61.5,195.7 62.5,195.5 63.5,195.6 64,195.4 64.5,195.7 65,195.8 65.5,195.7 66,194.9 67,194.9 68,195.7 69,195.6 70.5,194.7 71,194 71.5,194 72.5,195.1 74,195.5 74.5,195.2 75,195.4 75.5,195.2 76.5,194.3 77.5,194.4 79,195.7 80,195.8 81,195.5 82,195.9 83.5,195.8 86,196.2 87.5,195.6 88.5,195.7 89,195.5 90,195 90.5,194.3 91,194 91.5,194.3 93,194.7 93.5,195.3 94,195.2 94.5,195.5 95.5,195.4 96.5,195.7 98.5,195.4 99.5,194.3 102,194.8 102.5,195.3 104,195.9 105.5,195.8 107.5,196.2 108,196.1 108.5,195.7 109.5,196 110,195.7 111,195.8 112,194.7 113.5,194.5 114.5,194.8 115,194.3 115.5,194.2 117,194.3 118.5,195.3 119,195.2 120,194.2 121,194.1 121.5,194.1 122.5,195.1 123,195.2 124,195.2 125,194.7 126,194.8 127.5,194.5 128.5,194.6 129,195.3 130,196.1 132.5,195.6 133.5,196 134.5,196 135.5,194.7 136,194.4 136.5,194.4 137,194.5 138.5,195.8 140,195.8 141.5,195.3 142,195.7 143.5,194.9 144,195 145.5,196.3 149,195.7 149.5,195.8 150.5,195.4 151.5,195.7 152.5,195.4 153.5,195.9 154.5,195.9 155.5,195.8 156,195.5 158,195.6 158.5,195.8 159.5,195.5 160,195.6 161,194.9 161.5,194.9 162,195.4 163,195.7 164,195.6 164.5,195.3 165,194.6 165.6,194.6 166,194.3 166.5,194.9 168.5,195.9 170.5,196 171.5,195.2 172,194.4 174,194.3 174.5,195 175.5,195.5 177,195.3 177.5,195.5 178.5,195.2 179.5,195.5 181.9,194.7 183,194.8 184.1,194.2 184.5,194.3 185.5,195.3 186,195.5 186.5,195.5 187,195.1 187.6,195.2 188,195 190.5,195.8 193,194.5 193.5,195.3 194,195.6 195,195.4 195.5,195.6 196,195.4 197,195.7 197.5,195.6 199,195.9 199.5,195.7 200,195.9 200.5,195.6 201,195.8 201.5,195.6 202,195.7 204,194.8 204.5,194.1 205.5,191.4 205.8,191.1 207,194.2 207.5,194.4 208.2,194 208.5,194 210,195.6 212,195.5 212.5,195.2 213.5,195.6 215.4,194.7 217,195.6 217.5,195.4 218,195.6 221,195.5 221.5,195.2 222.5,195.7 223.5,195.2 224,195.3 224.3,195 225.5,195.4 226,195.9 228,196.2 230,195.2 231,195.6 232,195.6 232.5,196 233,195.8 234.5,195.7 235.6,194.6 237,195.5 237.5,195.5 238,195.9 238.5,195.9 239,196.2 239.5,196 240,196.1 240.5,195.9 242,195.9 244.5,194.7 245.5,195.3 246.5,195.5 248,196.4 252.5,195.7 254.5,194.3 256,195.5 259.5,196 261.5,195.5 262,195 262.7,194.8 263.5,195.6 264,195.8 265,195.6 265.5,195.7 266,195.4 267.5,195.9 270.5,195.6"/>
<polyline fill="none" stroke="#149a1a" stroke-width="0.85" stroke-linejoin="round" points="21.5,194.7 22,194.7 24,195.3 25,195.3 26,195 28.5,195.7 30.5,195.9 33,194.7 36.5,195.8 37,195.4 38.5,195.5 40.5,196 41.5,195.8 42,196.1 43,195.8 46,195.7 46.5,194.7 46.9,189.6 47.5,195.2 48,195.8 49,195.6 49.5,196 51,196.1 52.5,195.9 56,196.1 56.5,196 58,195.3 58.5,195.4 59,195 59.5,192.8 59.9,184 60.5,194.4 61.5,195.7 62.5,195.5 63.5,195.6 64,195.4 64.5,195.7 65.5,195.7 66,194.9 66.7,192.8 67.5,195.3 68,195.7 69.5,195.4 70.5,194.7 71.3,193.2 72,194.5 72.5,195.1 73,195.3 74,195.5 74.5,195.2 75,195.4 75.5,195.2 76,194.8 76.5,191.8 77,171.9 77.5,192.2 78,194.7 78.5,195.4 79,195.7 80,195.8 81,195.5 82,195.9 83.5,195.8 86,196.2 87.5,195.6 88.5,195.7 90,195 90.5,194 91.8,185.6 92.5,191.7 93,194.4 93.5,195.3 96.5,195.7 98.5,195.4 99,194.9 99.5,193.9 100.6,186.8 101.5,192.9 102,194.8 102.5,195.3 104,195.9 105.5,195.8 107.5,196.2 108,196.1 108.5,195.7 109.5,196 110,195.7 111,195.8 111.5,195.2 112,193.4 112.6,173.9 113,191.3 113.5,194.5 114,194.8 114.5,194.8 115,194.2 115.9,189.4 116.5,192.6 117,194.3 117.5,194.8 118.5,195.3 119,195.2 119.5,194.8 120.7,190.7 121.5,193.5 122,194.6 122.5,195.1 123,195.2 124.5,195 125,194.2 125.7,192.1 126.5,192.9 127.5,188.2 128.5,194 129,195.3 130,196.1 132.5,195.6 133.5,196 134.5,196 135,195.4 136,192.1 137,194.5 138.5,195.8 140,195.8 141.5,195.3 142,195.7 143.5,194.9 144,195 145.5,196.3 149,195.7 149.5,195.8 150.5,195.4 151.5,195.7 152.5,195.4 153.5,195.9 154.5,195.9 155.5,195.8 156,195.5 158,195.6 158.5,195.8 159.5,195.5 160,195.6 161.3,194.6 162,195.4 163,195.7 164.5,195.3 165.6,193.3 166,193.7 166.5,194.9 168.5,195.9 170.5,196 171.5,195.2 172,194.2 173,188.6 174,193.8 174.5,195 175.5,195.5 176,195.5 177,195.3 177.5,195.5 178.5,195.2 179.5,195.5 181,194.9 181.9,192.8 183,194.8 183.5,194.2 184.1,192.8 185,194.7 185.5,195.3 186,195.5 186.5,195.5 187.6,192.9 188.5,195.1 189,195.4 190.5,195.8 191.5,195.4 192.6,194.4 193,194.5 193.5,195.3 194,195.6 195,195.4 195.5,195.6 196,195.4 197,195.7 197.5,195.6 199,195.9 199.5,195.7 200,195.9 200.5,195.6 201,195.8 201.5,195.6 202,195.7 204,194.8 204.5,194.1 205.5,191.4 205.8,191.1 207,194.2 207.5,194.4 208.2,193.8 210,195.6 212,195.5 212.5,195.2 213.5,195.6 215.4,194.7 217,195.6 217.5,195.4 218,195.6 221,195.5 221.5,195.2 222.5,195.7 223.5,195.2 224,195.3 224.3,195 225.5,195.4 226,195.9 228,196.2 230,195.2 231,195.6 232,195.6 232.5,196 233,195.8 234.5,195.7 235.6,194.6 237,195.5 237.5,195.5 238,195.9 238.5,195.9 239,196.2 239.5,196 240,196.1 240.5,195.9 242,195.9 244.5,194.7 245.5,195.3 246.5,195.5 248,196.4 252.5,195.7 254.5,194.3 256,195.5 259.5,196 261.5,195.5 262,195 262.7,194.8 263.5,195.6 264,195.8 265,195.6 265.5,195.7 266,195.4 267.5,195.9 270.5,195.6"/>
<polyline fill="none" stroke="#f5188c" stroke-width="1.0" stroke-linejoin="round" points="21.5,226.4 22,226.5 22.5,226.3 23.5,226.5 28.5,226.3 29.5,226.3 30,226.5 33,226.3 33.5,226.5 36.5,226.3 37,226.5 39,226.5 40,226.3 41,226.5 42,226.3 43.5,226.3 44.5,226.5 46,226.3 46.5,226.4 46.5,214.4 46.5,226.4 49,226.5 50,226.3 50.5,226.5 54,226.3 56.5,226.5 58,226.3 58.5,226.5 59,226.3 59.5,226.4 59.5,202.8 59.5,226.4 60.5,226.3 61.5,226.5 63,226.3 64.5,226.5 66.5,226.4 66.5,218 66.5,226.4 68.5,226.5 69,226.3 69.5,226.5 71.5,226.4 71.5,223.2 71.5,226.4 72,226.3 72.5,226.5 73,226.4 74.5,226.5 75.5,226.3 76.5,226.4 76.5,202.8 76.5,226.4 81,226.5 83,226.3 84.5,226.5 86.5,226.3 87,226.5 87.5,226.3 88.5,226.5 89.5,226.3 90,226.5 91.5,226.3 91.5,226.4 91.5,204.4 91.5,226.4 93.5,226.5 96.5,226.3 97,226.5 97.5,226.3 99,226.3 99.5,226.5 100.5,226.4 100.5,217 100.5,226.4 101.5,226.3 102.5,226.5 105,226.3 105.5,226.4 108.5,226.4 108.5,225.4 108.5,226.4 109,226.3 109.5,226.5 110.5,226.3 112.5,226.4 112.5,199.9 112.5,226.4 113.5,226.3 114,226.5 114.5,226.3 115.5,226.5 115.5,218 115.5,226.4 117.5,226.4 117.5,223.4 117.5,226.4 118,226.5 118.5,226.3 119.5,226.4 120,226.3 120.5,226.4 120.5,220.7 120.5,226.4 122,226.3 122.5,226.5 125.5,226.4 125.5,223.4 125.5,226.4 127.5,226.4 127.5,222.9 127.5,226.4 129,226.3 130,226.5 131.5,226.3 132,226.5 133.5,226.3 134,226.5 134.5,226.3 135,226.5 135.5,226.3 136.5,226.4 136.5,224.4 136.5,226.4 138,226.3 138.5,226.5 139,226.3 139.5,226.5 140,226.3 141,226.5 142,226.3 143.5,226.4 143.5,225.4 143.5,226.4 144.5,226.3 145.5,226.5 146.5,226.4 146.5,225.4 146.5,226.5 147,226.3 147.5,226.5 148,226.3 148.5,226.5 150.5,226.3 152.5,226.5 153,226.3 154,226.5 155.5,226.3 157,226.5 158,226.3 158.5,226.5 159,226.3 160,226.5 160.5,226.4 160.5,223.9 160.5,226.4 161.5,226.4 162,226.3 164.5,226.4 164.5,224.4 164.5,226.4 167,226.3 168,226.5 169.5,226.3 171,226.4 171.5,226.3 173.5,226.4 173.5,222.9 173.5,226.4 174.5,226.3 175,226.5 175.5,226.3 176.5,226.5 178,226.3 178.5,226.5 179,226.3 181.5,226.4 181.5,224.4 181.5,226.4 184.5,226.4 184.5,223.9 184.5,226.4 185.5,226.3 186,226.5 187.5,226.4 187.5,223.9 187.5,226.4 188,226.5 190.5,226.3 191,226.5 191.5,226.3 192.5,226.4 192.5,224.9 192.5,226.4 194,226.3 194.5,226.5 195,226.3 197,226.5 198,226.3 199.5,226.5 200,226.3 200.5,226.4 202,226.4 203.5,226.5 204,226.3 204.5,226.5 205.5,226.4 205.5,223.9 205.5,226.4 206.5,226.3 207,226.5 208,226.3 208.5,226.4 208.5,224.9 208.5,226.4 210,226.3 211,226.5 215.5,226.4 215.5,225.4 215.5,226.4 216.5,226.5 217.5,226.3 218,226.5 219,226.3 219.5,226.5 221,226.3 221.5,226.5 224,226.5 224.5,226.4 224.5,225.6 224.5,226.4 225.5,226.5 227,226.3 227.5,226.5 228,226.4 228.5,226.5 229,226.3 229.5,226.5 230.5,226.3 231,226.5 232,226.3 234,226.5 235.5,226.4 235.5,225.4 235.5,226.4 237.5,226.5 239,226.3 240,226.5 240.5,226.4 242,226.5 242.5,226.3 244.5,226.4 244.5,225.6 244.5,226.5 247,226.3 248,226.5 249.5,226.3 252,226.5 252.5,226.3 253,226.5 253.5,226.3 254,226.5 254.5,226.4 254.5,225.6 254.5,226.4 255,226.3 255.5,226.5 256.5,226.3 257,226.5 258.5,226.4 260.5,226.5 261,226.3 261.5,226.5 262,226.3 262.5,226.4 262.5,225.6 262.5,226.4 263,226.3 264,226.5 266.5,226.3 267.5,226.5 268.5,226.4 269.5,226.5 270.5,226.3"/>
<rect x="21.5" y="19.2" width="249.0" height="211.8" fill="none" stroke="#222" stroke-width="1.3"/>
<line x1="21.50" y1="231.0" x2="21.50" y2="227.0" stroke="#2a2a2a" stroke-width="1"/>
<text x="21.50" y="242.70" font-size="8.6" text-anchor="middle" fill="#1a1a1a" stroke="#1a1a1a" stroke-width="0.2">10</text>
<line x1="39.29" y1="231.0" x2="39.29" y2="228.8" stroke="#2a2a2a" stroke-width="1"/>
<line x1="57.07" y1="231.0" x2="57.07" y2="227.0" stroke="#2a2a2a" stroke-width="1"/>
<text x="57.07" y="242.70" font-size="8.6" text-anchor="middle" fill="#1a1a1a" stroke="#1a1a1a" stroke-width="0.2">20</text>
<line x1="74.86" y1="231.0" x2="74.86" y2="228.8" stroke="#2a2a2a" stroke-width="1"/>
<line x1="92.64" y1="231.0" x2="92.64" y2="227.0" stroke="#2a2a2a" stroke-width="1"/>
<text x="92.64" y="242.70" font-size="8.6" text-anchor="middle" fill="#1a1a1a" stroke="#1a1a1a" stroke-width="0.2">30</text>
<line x1="110.43" y1="231.0" x2="110.43" y2="228.8" stroke="#2a2a2a" stroke-width="1"/>
<line x1="128.21" y1="231.0" x2="128.21" y2="227.0" stroke="#2a2a2a" stroke-width="1"/>
<text x="128.21" y="242.70" font-size="8.6" text-anchor="middle" fill="#1a1a1a" stroke="#1a1a1a" stroke-width="0.2">40</text>
<line x1="146.00" y1="231.0" x2="146.00" y2="228.8" stroke="#2a2a2a" stroke-width="1"/>
<line x1="163.79" y1="231.0" x2="163.79" y2="227.0" stroke="#2a2a2a" stroke-width="1"/>
<text x="163.79" y="242.70" font-size="8.6" text-anchor="middle" fill="#1a1a1a" stroke="#1a1a1a" stroke-width="0.2">50</text>
<line x1="181.57" y1="231.0" x2="181.57" y2="228.8" stroke="#2a2a2a" stroke-width="1"/>
<line x1="199.36" y1="231.0" x2="199.36" y2="227.0" stroke="#2a2a2a" stroke-width="1"/>
<text x="199.36" y="242.70" font-size="8.6" text-anchor="middle" fill="#1a1a1a" stroke="#1a1a1a" stroke-width="0.2">60</text>
<line x1="217.14" y1="231.0" x2="217.14" y2="228.8" stroke="#2a2a2a" stroke-width="1"/>
<line x1="234.93" y1="231.0" x2="234.93" y2="227.0" stroke="#2a2a2a" stroke-width="1"/>
<text x="234.93" y="242.70" font-size="8.6" text-anchor="middle" fill="#1a1a1a" stroke="#1a1a1a" stroke-width="0.2">70</text>
<line x1="252.71" y1="231.0" x2="252.71" y2="228.8" stroke="#2a2a2a" stroke-width="1"/>
<line x1="270.50" y1="231.0" x2="270.50" y2="227.0" stroke="#2a2a2a" stroke-width="1"/>
<text x="270.50" y="242.70" font-size="8.6" text-anchor="middle" fill="#1a1a1a" stroke="#1a1a1a" stroke-width="0.2">80</text>
<text transform="translate(146.30,254.80) scale(0.94,1)" font-size="10" text-anchor="middle" fill="#1a1a1a" stroke="#1a1a1a" stroke-width="0.2">2θ(°)</text>
<text transform="translate(18.00,132.35) rotate(-90)" font-size="11.0" text-anchor="middle" fill="#1a1a1a" stroke="#1a1a1a" stroke-width="0.2">Normalized Intensity (a.u.)</text>
<text transform="translate(21.60,14.10) scale(0.92,1.09)" text-anchor="end" font-family="'Liberation Serif', serif" font-weight="bold" font-size="13.3" fill="#111">(A)</text>
<text transform="translate(264.50,59.40) scale(0.95,1.08)" font-size="9.9" text-anchor="end" fill="#111111" stroke="#111111" stroke-width="0.42">N4</text>
<text transform="translate(264.50,85.60) scale(0.95,1.08)" font-size="9.9" text-anchor="end" fill="#111111" stroke="#111111" stroke-width="0.42">N3</text>
<text transform="translate(264.50,113.60) scale(0.95,1.08)" font-size="9.9" text-anchor="end" fill="#111111" stroke="#111111" stroke-width="0.42">N2</text>
<text transform="translate(264.50,139.20) scale(0.95,1.08)" font-size="9.9" text-anchor="end" fill="#111111" stroke="#111111" stroke-width="0.42">N1</text>
<text transform="translate(267.60,164.70) scale(0.95,1.08)" font-size="9.9" text-anchor="end" fill="#138c18" stroke="#138c18" stroke-width="0.42">E1 with HT</text>
<text transform="translate(267.60,190.90) scale(0.95,1.08)" font-size="9.9" text-anchor="end" fill="#138c18" stroke="#138c18" stroke-width="0.42">E1 without HT</text>
<text transform="translate(269.00,219.30) scale(0.95,1.08)" font-size="9.9" text-anchor="end" fill="#f5188c" stroke="#f5188c" stroke-width="0.42">COD-4001849</text>
<text transform="translate(57.20,43.40) scale(0.96,1.08)" font-size="9.9" text-anchor="middle" fill="#111" stroke="#111" stroke-width="0.35">(101)</text>
<text transform="translate(91.80,40.40) scale(0.96,1.08)" font-size="9.9" text-anchor="middle" fill="#111" stroke="#111" stroke-width="0.35">(020)</text>
<text transform="translate(116.10,31.10) scale(0.96,1.08)" font-size="9.9" text-anchor="middle" fill="#111" stroke="#111" stroke-width="0.35">(111)</text>
<polyline fill="none" stroke="#111111" stroke-width="1.35" stroke-linejoin="round" points="299,56.8 300.5,57.4 303,57.7 303.5,58 305,58.2 305.5,58.4 306,58.3 307.5,58.3 309,59 311.5,58.8 312.5,59.3 313,59.1 314,59.3 314.5,59.1 316,59.3 318,59 322,59.3 323.5,59 324,58.1 324.5,58.1 325,59.2 328,59.8 329,59.4 330.5,59.2 331.5,59.6 332.5,59.6 333,59.8 334,59.7 335.5,59.3 336,58.9 336.5,58.1 337.5,58 338.5,59.1 340.5,59.5 341.5,59.2 342.5,59.2 343.6,58.1 344,58.2 344.5,59.1 346,59.5 347,59.3 348,58.1 348.5,58.1 349,59.1 349.5,59.5 350.5,59.6 352.5,58.9 353,58.3 354,58.1 355,58.9 356,59.1 358,59.4 358.5,59.2 359.5,59.6 360.5,59.4 361,59.5 362,59.2 364.5,59.8 367,58.9 367.5,58.3 368.5,58.1 369.5,59.1 371,59.3 373.5,59 374.5,59.2 375.5,59.1 376,58.9 376.5,58.2 377,58.2 378,59.3 378.5,59.5 380.5,59.8 382.5,59.1 384.5,59.6 386.5,59.7 387.5,59.2 388,58.3 388.5,58.4 389,58.1 390,59.2 390.5,59.3 391.5,58.5 392,58.3 393,59.2 393.5,59.4 395.5,58.9 396,58 397,58.4 398,59.4 398.5,59.5 400,59.2 401,58.1 401.5,58.3 404,57.8 405,59 406,59.5 407,59.6 408.5,59.4 410,59.5 410.5,59.3 411,58.4 412,58.3 412.5,59.1 414,59.6 419.2,58.4 419.5,58.9 420.5,59.5 422,59.4 422.5,59.6 424,59.5 426,59.7 427,59.4 428.5,59.7 429.5,59.7 431,59 432,59 433,59.5 434.5,59.7 435,59.5 436,58.4 436.5,58.3 437.5,58.9 439,58.8 440,58 441,58.3 442,59.4 443,59.8 444,59.3 445,59.4 447.5,58.2 448.5,58.2 450,59.3 451.5,59.6 452.5,59.5 453,59.7 454.5,59.5 456,58.2 456.5,58.2 457.5,58.7 458.5,58.3 459,58.3 460,59.1 462,58.1 462.5,58.1 463.5,59.3 464,59.2 465,59.5 466.5,58.1 467,57.9 468,59.2 469.5,59.6 471,59.6 471.5,59.8 473,59.2 474,59.1 476,59.7 478,58.8 478.5,58 479.8,54.5 481,57.6 481.5,58.1 482,57.6 482.5,57.8 483.5,59.1 485,59.1 486,59.5 487.5,59.7 488,59.5 488.5,59 489.5,58.7 491,59.4 491.5,59.3 493,59.7 493.5,59.5 495,59.6 496,59.4 497,58.9 497.5,58.5 497.9,58.5 498.5,58.8 499,59.4 500.5,59.2 501,59.4 503,59.8 506.5,59.2 507.5,58.8 508.5,57.9 509,57.7 510.5,59.1 513,59.2 515.5,59.7 516,59.6 517.4,58.3 519.5,58.9 522,59.9 524.5,59.1 526.5,58.9 527,58.5 527.5,58.5 528.5,59.2 530.5,59.4 532.5,59.3 535.5,58.6 536,58.7 536.5,59.4 537,59.6 538,59.3 538.5,59.6 541,59.2 542.5,59.6"/>
<polyline fill="none" stroke="#111111" stroke-width="0.85" stroke-linejoin="round" points="299,56.8 300.5,57.4 303,57.7 303.5,58 305,58.2 305.5,58.4 306,58.3 307.5,58.3 309,59 311.5,58.8 312.5,59.3 313,59.1 314,59.3 314.5,59.1 316,59.3 318,59 320,59 321.5,59.4 323,59.2 323.5,59 324,55.4 324.3,51.3 324.5,55.4 325,59.2 328,59.8 329,59.4 330.5,59.2 331.5,59.6 332.5,59.6 333,59.8 335.5,59.3 336,58.9 336.5,56.8 337,42.1 337.5,57.5 338,58.7 339,59.3 340.5,59.5 341.5,59.2 342.5,59.2 343,58.6 343.6,53.4 344,57.9 344.5,59.1 346,59.5 347,59.3 348.1,57.4 349,59.1 349.5,59.5 350.5,59.6 351.5,59.3 352.5,58.9 353,58.2 353.7,36 354,51.2 354.5,58.5 355,58.9 358,59.4 358.5,59.2 359.5,59.6 360.5,59.4 361,59.5 362,59.2 364.5,59.8 367,58.9 367.5,58.3 368.1,40.9 368.5,54.4 369,58.6 369.5,59.1 371,59.3 373.5,59 375,59.2 376,58.9 376.5,55.9 376.8,50 377.5,58.8 378,59.3 378.5,59.5 380.5,59.8 382.5,59.1 384.5,59.6 386.5,59.7 387.5,59.2 388,56.8 388.5,35.6 389,56.3 389.5,58.8 390,59.2 390.5,59.3 391,59 391.5,55.6 391.8,50 392.5,58.8 393,59.2 393.5,59.4 395.5,58.9 396.5,55 397.5,59 398,59.4 398.5,59.5 400,59.2 400.5,58.6 401.4,55.8 402,57.3 402.5,56.4 403.1,52.3 404,57.6 404.5,58.5 405,59 406,59.5 407,59.6 408.5,59.4 410,59.5 410.5,59.3 411.5,56.1 412.5,59.1 414,59.6 419.2,58.4 419.5,58.9 420.5,59.5 422,59.4 422.5,59.6 424,59.5 426,59.7 427,59.4 428.5,59.7 429.5,59.7 431,59 432,59 433,59.5 434.5,59.7 435.5,59 436.2,58.1 437.5,58.9 439,58.8 439.5,58.3 440.4,56.8 441.5,59 442,59.4 443,59.8 444,59.3 445,59.4 446.5,58.7 447,56.9 447.7,52.5 448.5,57.1 449,58.6 450,59.3 451.5,59.6 452.5,59.5 453,59.7 454.5,59.5 455,59.1 455.5,58.6 456.4,56.3 457.5,58.7 458.5,56.9 459.5,58.8 460,59.1 460.5,59 461,58.6 462,55.8 463,58.8 463.5,59.3 464,59.2 465,59.5 465.5,59.2 466.9,57.7 468,59.2 469.5,59.6 471,59.6 471.5,59.8 473,59.2 474,59.1 476,59.7 478,58.8 478.5,58 479.8,54.5 481,57.6 481.5,58.1 482.2,57.4 483.5,59.1 485,59.1 486,59.5 487.5,59.7 488,59.5 488.5,59 489.5,58.7 491,59.4 491.5,59.3 493,59.7 493.5,59.5 495,59.6 496,59.4 497,58.9 497.5,58.5 497.9,58.5 498.5,58.8 499,59.4 500.5,59.2 501,59.4 503,59.8 506.5,59.2 507.5,58.8 508.5,57.9 509,57.7 510.5,59.1 513,59.2 515.5,59.7 516,59.6 517.4,58.3 519.5,58.9 522,59.9 524.5,59.1 526.5,58.9 527,58.5 527.5,58.5 528.5,59.2 530.5,59.4 532.5,59.3 535.5,58.6 536,58.7 536.5,59.4 537,59.6 538,59.3 538.5,59.6 541,59.2 542.5,59.6"/>
<polyline fill="none" stroke="#111111" stroke-width="1.35" stroke-linejoin="round" points="299,86 300.5,86 304,87.1 307,86.5 308.5,87 311.5,86.7 312.5,86.7 313,86.9 313.5,86.7 314,86.9 315.5,86.6 318,87.2 319.5,86.8 321,87.2 322,87.1 323.5,86.5 324,85.9 324.5,86 325,86.9 325.5,87.2 327,86.8 327.5,87 328,86.8 328.5,87 330.5,87.3 331,87.1 332,87.2 332.5,87 335,87.1 336,86.4 336.5,85.6 337.5,85.6 339,87 339.5,87 340.5,87.3 342,87.2 342.5,87 343.5,86.1 344,86 344.5,87 345,87.3 346,87.2 347,86.8 348,85.8 348.5,85.7 349,86.7 349.5,86.8 350.5,86.4 351,86.6 352.5,86.4 353,85.9 353.7,85.6 355,86.9 355.5,86.8 356,87 357.5,86.9 358.5,87.2 360,87.2 361,86.9 362,87.2 362.5,87 363.5,87.3 364.5,87 365.5,87.1 367,86.7 368,85.6 368.5,85.5 369,86.3 369.5,86.5 370.5,86.5 371.5,86.9 372,87 372.5,86.9 373,87.1 374.5,87.2 375,87.4 375.5,87.3 376,86.9 376.5,85.8 376.8,85.7 378.5,86.8 379,86.8 379.5,87 380.5,87.1 381,86.8 381.5,86.9 382.5,86.6 385,86.9 387,86.8 387.5,86.5 388,85.6 388.5,85.9 389,85.9 389.5,86.6 390.5,87 391,86.7 391.5,85.9 391.8,85.8 392,85.8 392.5,86.6 393.5,86.9 394.5,87 395.5,86.6 396,86 397,85.7 398,86.8 400,87 401,85.7 402.5,85.3 403.5,85.3 404,85.4 404.5,86.5 406.5,87.2 407.5,87.2 410,86.5 410.5,86.2 411,85.4 412,85.8 412.5,86.6 413,86.9 413.5,86.9 414.5,86.5 417,87.1 419.2,86.2 419.5,86.3 420.5,87 422.5,86.9 423,86.7 424,87 427,86.7 428,87 428.5,86.7 429.5,87.1 430.5,86.7 431,86.9 431.5,86.7 435,87 435.5,86.8 436,86.2 436.5,86.1 437.5,87.1 439,86.6 440,85.5 441,85.8 442,86.9 443,87.2 446,86.2 447,85.3 448.5,85.6 449.5,86.7 450.5,86.7 451.5,86.5 452.5,86.9 454,87.1 455,87 456,86.1 457.5,86.3 458,85.9 459,85.8 459.5,86.4 460,86.5 461,86.3 461.5,85.7 462,85.6 462.5,85.8 463.5,86.8 464.5,87.1 465.5,87.2 466,87 466.5,86.2 467,85.9 468,86.6 473,87.1 474.5,86.8 477.5,86.7 478.5,85.5 479.5,82.3 479.8,82 480,82.3 481,85.6 482.5,85.7 483,86.4 484,87 487.5,87 489.2,85.8 491.5,87.2 493,87 494.5,86.5 496.5,86.8 497.9,86.3 499,87 499.5,87.1 500.5,86.8 503,87.2 504.5,86.8 507,87.2 509,85.7 509.5,85.8 510.5,86.7 513.5,86.8 515,87.2 516.5,86.5 517.4,85.8 518.5,86.9 521,87 522.5,87.2 524,87 524.5,87.3 526,87.3 527.5,86.2 528,86.2 529,87 531.5,87.2 535.5,85.9 536,86.1 537,86.9 537.5,87 540,87 540.5,87.2 542.5,86.9"/>
<polyline fill="none" stroke="#111111" stroke-width="0.85" stroke-linejoin="round" points="299,86 300.5,86 304,87.1 307,86.5 308.5,87 311.5,86.7 312.5,86.7 313,86.9 313.5,86.7 314,86.9 315.5,86.6 318,87.2 319.5,86.8 321,87.2 322,87.1 323.5,86.5 324,83.5 324.3,80 324.5,83.6 325,86.9 325.5,87.2 327,86.8 327.5,87 328,86.8 328.5,87 330.5,87.3 331,87.1 332,87.2 332.5,87 335,87.1 335.5,86.9 336,86.4 336.5,83.1 337,62 337.5,84.4 338,86.2 339,87 339.5,87 340.5,87.3 342,87.2 343,86.5 343.6,81.4 344,85.7 344.5,87 345,87.3 345.5,87.3 347,86.8 348.1,85 349,86.7 349.5,86.8 350.5,86.4 351,86.6 352.5,86.4 353,85.7 353.7,61.9 354,78.5 354.5,86.3 355,86.9 355.5,86.8 356,87 357.5,86.9 358.5,87.2 360,87.2 361,86.9 362,87.2 362.5,87 363.5,87.3 364.5,87 365.5,87.1 367,86.7 367.5,86.3 368.1,75.2 368.5,83.7 369,86.3 370.5,86.5 371.5,86.9 372,87 372.5,86.9 373,87.1 374.5,87.2 375,87.4 375.5,87.3 376,86.9 376.5,83.9 376.8,78.6 377.5,86.2 378.5,86.8 379,86.8 379.5,87 380.5,87.1 381,86.8 381.5,86.9 382.5,86.6 385,86.9 387,86.8 387.5,86.5 388,84.4 388.5,65.5 389,84.3 389.5,86.6 390.5,87 391,86.7 391.5,84.1 391.8,80 392.5,86.6 393.5,86.9 394.5,87 395.5,86.6 396.5,82.6 397.5,86.3 398,86.8 400,87 400.5,86.4 401.4,83.1 402,84.7 402.5,83.9 403.1,80.5 404,85.4 404.5,86.5 406,87.2 407.5,87.2 410.5,86.2 411.5,83.3 412.5,86.6 413,86.9 413.5,86.9 414.5,86.5 417,87.1 419.2,86.2 419.5,86.3 420.5,87 422.5,86.9 423,86.7 424,87 427,86.7 428,87 428.5,86.7 429.5,87.1 430.5,86.7 431,86.9 432,86.7 434.5,87 435.5,86.8 436.2,86 437.5,87.1 439,86.6 439.5,86.1 440,84.8 440.4,84.3 441.5,86.5 442,86.9 443,87.2 445,86.6 446.5,85.8 447.7,79.8 448.5,84.4 449,86.2 449.5,86.7 450.5,86.7 451.5,86.5 452.5,86.9 454,87.1 455,87 455.5,86.6 456.4,84.3 457.5,86.3 458.5,84.4 459.5,86.4 460,86.5 461,86.3 462,83.3 463,86.4 463.5,86.8 464.5,87.1 465.5,87.2 466,87 466.9,85.7 468,86.6 469.5,86.9 472,87.1 472.5,87 473,87.1 475,86.8 477,86.8 477.5,86.7 478.5,85.5 479.5,82.3 479.8,82 480,82.3 481,85.6 481.5,85.7 482.2,85.5 483,86.4 484,87 487.5,87 489.2,85.8 491.5,87.2 493,87 494.5,86.5 496.5,86.8 497.9,86.3 499,87 499.5,87.1 500.5,86.8 503,87.2 504.5,86.8 507,87.2 509,85.7 509.5,85.8 510.5,86.7 513.5,86.8 515,87.2 516.5,86.5 517.4,85.8 518.5,86.9 521,87 522.5,87.2 524,87 524.5,87.3 526,87.3 527.5,86.2 528,86.2 529,87 531.5,87.2 535.5,85.9 536,86.1 537,86.9 537.5,87 540,87 540.5,87.2 542.5,86.9"/>
<polyline fill="none" stroke="#111111" stroke-width="1.35" stroke-linejoin="round" points="299,113.5 301,113.4 303,113.6 305,113.4 306,113.8 308.5,114.3 310,114 311,113.7 311.5,113.9 314,113.5 317,114.2 318.5,114.1 319,114.2 320.5,113.7 321,114 321.5,113.8 323,113.8 323.5,113.6 324,112.7 324.5,112.8 325,113.8 325.5,114.1 327,113.9 328,114 329.5,114.6 332,114.6 332.5,114.3 333,114.5 333.5,114.4 335.5,113.8 336,113.5 336.5,112.6 337.5,112.7 338,113.4 338.5,113.7 340.5,114.1 341,114 342,114.1 342.5,113.9 343,113.2 343.6,112.8 344,112.8 344.5,113.9 345,114 346.5,114.1 348.1,112.9 348.5,113 349.5,114.1 350.5,114.2 352,113.9 352.5,113.7 353,112.8 353.7,112.8 356,113.9 357,113.8 357.5,114.1 359,114.2 359.5,114.4 361,114.1 361.5,114.3 362.5,113.9 366,113.9 367,113.6 367.5,112.9 368,112.9 368.5,113 369.5,113.9 371,113.6 372.5,114.1 375.5,114.2 376,113.9 376.5,113.1 377,113.1 378,114.3 380.5,114.2 381.5,114.4 382,114.2 385,113.8 387,113.8 388,112.7 390,113.9 390.5,114.1 391,113.7 391.5,112.8 391.8,112.8 392,112.8 392.5,113.4 394.5,114.2 395.5,113.8 396,113.1 397,113.1 398,114.4 398.5,114.4 400,114.1 401,112.9 402.5,112.6 403.5,112.8 404,113.1 404.5,114.1 405,114.4 407.5,114 409.5,114.2 410.5,113.6 411,113.1 412,112.7 412.5,113.7 413,114 413.5,113.8 416,114.2 418,113.9 419.2,113 420.5,113.8 423,114.3 425.5,114.2 426.5,114.4 427,114.2 429,113.9 431,114.2 434,114.2 435,113.9 436,112.8 436.2,112.8 437.5,114 438.5,114.4 440,113.2 441,113.2 441.5,113.9 442,114.1 444,113.6 444.5,113.8 446,113.8 447,112.7 448,113 448.5,112.8 449.5,113.8 450.5,113.8 452.5,114.6 455,114.1 456,112.9 457,112.6 457.5,112.8 458,112.7 459,113 459.5,113.6 460,113.7 460.5,113.6 461.5,112.7 462.5,113.2 463.5,114.2 465.5,114.2 466.5,112.9 467.5,113.1 468.5,113.9 469,114 471,113.8 473.5,114.5 474.5,114.1 475,114 475.5,114.2 476,113.9 477.5,113.9 478.5,112.7 479.8,108.7 480,109 481,112.1 481.5,112.6 482.5,112.7 483,113.4 483.5,113.6 484.5,113.5 487.5,114.1 489.2,113.2 489.5,113.2 490.5,113.9 492,114.1 494.5,113.9 496,114.1 497,114 497.5,113.4 497.9,113.4 498.5,113.5 499,113.9 501,114.2 501.5,114.1 502,114.3 503.5,114.2 506,113.7 507.5,113.8 509,112.4 510.5,113.8 512,114.4 512.5,114.1 513,114.2 513.5,114 515.5,114.2 517.4,113.4 519.5,114.2 521,114.2 522,114 524.5,114.5 525.5,114.3 526,114.4 527.5,113.1 528.5,113.5 529,114 530,114 531.5,113.7 532.5,113.8 533.5,114.1 535.5,113 537,113.9 539,113.8 540.5,114.3 542.5,114.5"/>
<polyline fill="none" stroke="#111111" stroke-width="0.85" stroke-linejoin="round" points="299,113.5 301,113.4 303,113.6 305,113.4 306,113.8 308.5,114.3 310,114 311,113.7 311.5,113.9 314,113.5 317,114.2 318.5,114.1 319,114.2 320.5,113.7 321,114 321.5,113.8 323,113.8 323.5,113.6 324,109.8 324.3,105.7 324.5,109.9 325,113.8 325.5,114.1 326,113.9 328,114 330,114.6 330.5,114.5 332,114.6 332.5,114.3 333,114.5 335.5,113.8 336,113.5 336.5,111.2 337,96.3 337.5,112.2 338,113.4 338.5,113.7 340.5,114.1 341,114 342,114.1 342.5,113.9 343,113.2 343.6,107 344,112.3 344.5,113.9 346.5,114.1 347.5,113.3 348.1,112.2 349,113.7 349.5,114.1 350.5,114.2 352,113.9 352.5,113.7 353,112.7 353.7,90.5 354,106.1 354.5,113.2 356,113.9 357,113.8 357.5,114.1 359,114.2 359.5,114.4 361,114.1 361.5,114.3 362.5,113.9 365,114 367,113.6 367.5,112.9 368.1,98.2 368.5,110.1 369,113.6 369.5,113.9 371,113.6 372,114 373.5,114.1 375.5,114.2 376,113.9 376.5,111.3 376.8,106.4 377.5,113.8 378,114.3 380.5,114.2 381.5,114.4 382,114.2 385,113.8 387,113.8 387.5,113.4 388,111.2 388.5,90.6 389,111.4 389.5,113.5 390.5,114.1 391,113.7 391.5,110.2 391.8,105 392.5,113.4 394.5,114.2 395.5,113.8 396.5,109.9 397.5,113.8 398,114.4 398.5,114.4 400,114.1 400.5,113.6 401.4,110.5 402,112 402.5,111.7 403.1,108.9 404,113.1 404.5,114.1 405,114.4 407.5,114 409.5,114.2 410,114 410.5,113.6 411.5,110.7 412.5,113.7 413,114 413.5,113.8 416,114.2 418,113.9 419.2,113 420.5,113.8 423,114.3 425.5,114.2 426.5,114.4 427,114.2 429,113.9 431,114.2 433.5,114.2 435,113.9 436.2,112.5 437.5,114 438.5,114.4 439.5,113.7 440.4,112 441.5,113.9 442,114.1 444,113.6 444.5,113.8 446,113.8 446.5,113.3 447.7,107.1 448.5,111.6 449,113.3 449.5,113.8 450.5,113.8 452.5,114.6 455,114.1 455.5,113.6 456.4,111 457.5,112.8 458.5,111.5 459.5,113.6 460,113.7 460.5,113.6 461,113.2 462,110.7 463,113.7 463.5,114.2 465.5,114.2 466.9,112.7 468.5,113.9 469,114 471,113.8 473.5,114.5 474.5,114.1 475,114 475.5,114.2 476,113.9 477,114 477.5,113.9 478.5,112.7 479.8,108.7 480,109 481,112.1 481.5,112.6 482.2,112.4 483,113.4 483.5,113.6 484.5,113.5 487.5,114.1 489.2,113.2 489.5,113.2 490.5,113.9 492,114.1 494.5,113.9 496,114.1 497,114 497.5,113.4 497.9,113.4 498.5,113.5 499,113.9 501,114.2 501.5,114.1 502,114.3 503.5,114.2 506,113.7 507.5,113.8 509,112.4 510.5,113.8 512,114.4 512.5,114.1 513,114.2 513.5,114 515.5,114.2 517.4,113.4 519.5,114.2 521,114.2 522,114 524.5,114.5 525.5,114.3 526,114.4 527.5,113.1 528.5,113.5 529,114 530,114 531.5,113.7 532.5,113.8 533.5,114.1 535.5,113 537,113.9 539,113.8 540.5,114.3 542.5,114.5"/>
<polyline fill="none" stroke="#111111" stroke-width="1.35" stroke-linejoin="round" points="299,140.8 301,140.7 302,140.9 302.5,140.8 306,141.8 308,141.2 311,141.2 313.5,141.6 314,141.4 316.5,142 319,141.4 319.5,141.1 320.5,141.2 322,141.8 323,141.7 323.5,141.3 324,140.4 324.5,140.4 325,141.3 327,141.6 327.5,141.9 328,141.8 328.5,142 330,141.5 332,141.5 333,141.7 335,141.5 336,141.2 336.5,140.7 337.5,140.4 338,141 339.5,141.1 340,141.3 341.5,141.6 342.5,141.4 343.5,140.6 344,140.7 344.5,141.8 345.5,141.8 347,141.4 348.1,140.4 348.5,140.5 349,141.6 350,141.9 352.5,141.3 353,140.6 353.7,140.5 354.5,140.9 355,141.4 357,141.6 358,141.4 360.5,142.2 362.5,141.8 363,141.6 365.5,141.8 367,141.3 367.5,140.6 368.5,140.7 369.5,141.6 370,141.6 371.5,141.9 375.5,141.5 376,141.5 376.5,140.3 377,140.5 378,141.7 379,142.1 380,141.7 381,141.7 381.5,141.5 382.5,141.8 383.5,141.7 385,141.8 386.5,141.5 388,140.5 389,140.4 390,141.3 391,141 391.5,140.1 392,140.4 393,141.6 393.5,141.7 395,141.2 396,140.2 396.5,140.2 397,140.4 398,141.5 399,141.7 400,141.4 401,140.3 401.5,140.4 402,140.2 404,140.7 404.5,141.4 405.5,141.6 406.5,141.4 407.5,141.7 408,141.5 409,142 410,141.7 410.5,141.2 411,140.4 412,140 413,141.2 414.5,141.2 417,141.8 417.5,141.8 419.2,140.8 420,141.4 421,141.8 423,141.8 424.5,141.5 426,141.5 428.5,141.7 430,141.5 432.5,141.9 433.5,141.6 434.5,141.6 436,140.4 436.5,140.2 438,141.5 439,141.7 440,140.6 441,140.2 442,141.2 443,141.6 444,141.6 446,141.3 447,140.3 448,140 448.5,140 449.5,141.2 451.5,141.8 453,141.6 454,141.1 455,141.3 456,140.3 456.4,140.6 457,140.4 457.5,140.6 459,140.4 459.5,141.2 460,141.6 460.5,141.6 462,140.6 462.5,140.6 463,141 464.5,141.7 466,141.3 466.5,140.7 467,140.3 468,141.3 469,141.4 470,141.9 472.5,141.7 474.5,141.9 477,141.3 477.5,141.4 478,140.9 478.5,140.4 479.8,136.6 480,136.9 481,139.9 481.5,140.1 482.2,139.9 483.5,141.5 484.5,141.7 485,141.5 486.5,141.3 487.5,141.6 489.2,140.6 491.5,142.1 493,142.1 495.5,141.5 496,141.5 497.9,140.7 499.5,141.5 500.5,141.7 501,141.6 502,141.9 502.5,141.7 503.5,141.9 504.5,141.6 505.5,141.8 506,141.6 507,141.6 509,140.2 510.5,141.5 512.5,141.7 514,141.4 514.5,141.7 515.5,141.6 516.5,141.2 517.4,140.4 518.5,141.5 520,141.8 520.5,141.7 524,141.9 526,141.7 527.5,140.8 528,140.8 529,141.4 530.5,141.6 534,141.3 535.5,140.7 537,141.4 537.5,141.2 538,141.5 539.5,141.7 542.5,141.4"/>
<polyline fill="none" stroke="#111111" stroke-width="0.85" stroke-linejoin="round" points="299,140.8 301,140.7 302,140.9 302.5,140.8 306,141.8 308,141.2 309.5,141.1 310,141.3 311,141.2 313.5,141.6 314,141.4 316.5,142 319,141.4 319.5,141.1 320.5,141.2 322,141.8 323,141.7 323.5,141.3 324,137.1 324.3,132.3 324.5,137 325,141.3 327,141.6 327.5,141.9 328,141.8 328.5,142 330,141.5 332,141.5 333,141.7 336,141.2 336.5,138.9 337,121.8 337.5,139.7 338,141 339.5,141.1 340,141.3 341.5,141.6 342.5,141.4 343,141 343.6,135.6 344,140.3 344.5,141.8 345.5,141.8 347,141.4 347.5,140.9 348.1,139.6 349,141.6 349.5,141.9 351,141.8 352.5,141.3 353,140.5 353.7,117.8 354,133.7 354.5,140.9 355,141.4 355.5,141.5 357,141.6 358,141.4 360.5,142.2 362.5,141.8 363,141.6 365.5,141.8 367,141.3 367.5,140.6 368.1,125 368.5,137.4 369,141.3 369.5,141.6 372,141.9 376,141.5 376.5,138.5 376.8,133.8 377.5,141.2 378,141.7 379,142.1 380,141.7 381,141.7 381.5,141.5 382.5,141.8 383.5,141.7 384.5,141.9 386.5,141.5 387.5,140.9 388,139.2 388.5,119.8 389,138.8 389.5,141 390,141.3 391,141 391.5,138.3 391.8,134.6 392.5,141 393,141.6 393.5,141.7 394.5,141.5 395.5,140.9 396.5,137 397.5,141.1 398,141.5 398.5,141.7 399,141.7 400,141.4 400.5,140.8 401.4,138 402,139.6 402.5,139.3 403.1,136.6 404,140.7 404.5,141.4 405,141.5 406,141.3 407.5,141.7 408,141.5 409,142 410,141.7 410.5,141.2 411.5,137.9 412.5,140.8 413,141.2 414.5,141.2 417,141.8 417.5,141.8 419.2,140.8 420,141.4 421,141.8 423,141.8 424.5,141.5 426,141.5 428.5,141.7 430,141.5 432.5,141.9 433.5,141.6 434.5,141.6 436.2,140.1 436.5,140.2 437.5,141.3 438,141.5 439,141.7 439.5,141 440.4,139.1 442,141.2 443,141.6 444,141.6 446,141.3 446.5,140.8 447.7,134.4 448,135.4 448.5,138.9 449,140.6 449.5,141.2 451.5,141.8 453,141.6 454,141.1 455,141.3 455.5,140.7 456.4,138.8 457.5,140.6 458.5,139 459.5,141.2 460,141.6 460.5,141.6 461,141.3 462,138.3 463,141 464.5,141.7 466,141.3 466.9,140.1 468,141.3 469,141.4 470,141.9 472.5,141.7 474.5,141.9 477,141.3 477.5,141.4 478,140.9 478.5,140.4 479.8,136.6 480,136.9 481,139.9 481.5,140.1 482.2,139.7 483.5,141.5 484.5,141.7 485,141.5 486.5,141.3 487.5,141.6 489.2,140.6 491.5,142.1 493,142.1 495.5,141.5 496,141.5 497.9,140.7 499.5,141.5 500.5,141.7 501,141.6 502,141.9 502.5,141.7 503.5,141.9 504.5,141.6 505.5,141.8 506,141.6 507,141.6 509,140.2 510.5,141.5 512.5,141.7 514,141.4 514.5,141.7 515.5,141.6 516.5,141.2 517.4,140.4 518.5,141.5 520,141.8 520.5,141.7 524,141.9 526,141.7 527.5,140.8 528,140.8 529,141.4 530.5,141.6 534,141.3 535.5,140.7 537,141.4 537.5,141.2 538,141.5 539.5,141.7 542.5,141.4"/>
<polyline fill="none" stroke="#149a1a" stroke-width="1.35" stroke-linejoin="round" points="299,169.4 299.5,169.5 300,169.9 301.5,169.9 303,169.7 304.5,169 305,168.9 306,169.3 307.5,169.3 308,169.5 310,169.8 310.5,169.6 313,169.8 316,169.7 317,169.7 318,170.2 318.5,169.9 321,170.1 323.5,169.6 324,168.7 324.5,168.7 325,169.6 326,169.9 330,169.8 330.5,170.1 332,170 332.5,170.2 333.5,170 334.5,170.2 335.5,169.9 336,169.1 337,168.5 337.5,168.5 339,169.7 342,169.2 343,168.5 343.5,168.8 344.5,168.9 345,169.9 345.5,170.1 346,169.8 347,169.8 348,168.8 348.5,169.1 349,169.7 350.5,169.9 351,169.7 351.5,169.8 352.5,169.4 353,168.9 353.7,168.9 354,168.7 355,169.7 355.5,169.6 356,169.8 357,170 357.5,169.9 361,170.1 362,169.8 362.5,170 363,169.9 363.5,169.6 364.5,169.9 366,170 366.5,169.4 367,169.2 369.5,168.6 370.5,169.5 372,170.4 373.5,169.5 374.5,169.4 375.5,168.8 376.8,168.6 377.5,168.8 378,168.6 378.5,169.3 379,169.6 379.5,169.7 380,169.5 383,169.9 384,169.7 386,169.8 387,169.6 387.5,169.4 388,168.6 388.5,168.4 389,168.8 390,169 391,168.7 392.5,168.7 393.5,169.6 395,169.2 396,168.7 397.5,169.1 398,169.7 399,169.8 400,169.5 400.5,168.7 402.5,168.8 403.1,168.6 403.5,168.9 404,168.7 404.5,169.3 405.5,170 406,169.9 407,170.2 410,169.7 410.5,169 412,168.5 413,169.5 414.5,170.2 416,170.2 417,169.8 418,170 419.2,169.1 420.5,169.6 421.5,169.7 422.5,170.3 423,170 424,170 424.5,169.8 431.5,170.7 433,170.5 434,170 435,169.9 435.5,169.2 436.5,168.8 437,169.5 438,169.8 439,169.4 439.5,168.9 441,168.8 441.5,169.4 442,169.7 442.5,169.7 444,170.1 445.5,169.9 447,168.9 447.5,168.8 449,169.2 449.5,169.8 450.5,169.9 452.5,169.7 453.5,169.2 455,169 455.5,168.7 457,168.4 459,168.5 460,169.7 460.5,169.7 461,169.2 462,168.8 462.5,168.9 463.5,169.8 464.5,170 465,169.7 465.5,169.9 466,169.5 466.5,168.7 467,168.8 468,169.7 469,169.8 470.5,169.7 471.5,170 474,169.2 476,169.6 478,168.8 478.5,168 479.5,165.2 479.8,165 481,168.1 481.5,168.2 482,167.9 482.5,168.1 483,169.1 483.5,169.6 484,170 485,170.3 486.5,170.2 489.2,168.9 490.5,170.1 491.5,170.4 492.5,170.1 493,170.3 494,170 495,170.3 496,170.3 497.9,169 499,169.7 500,169.5 502.5,169.9 503,169.7 503.5,169.8 504,169.5 506.5,170.3 507.5,169.8 509,168.2 511,169.5 511.5,169.5 513,170.1 514.5,169.8 517.4,168.6 518.5,169.8 519.5,169.8 520,170.1 521,169.6 522,170.1 523.5,170.1 524,169.8 525.5,169.4 526,169.6 527,169.1 527.5,169.2 529,170.3 529.5,170.3 530,170 530.5,170 531,169.7 532,169.5 532.5,169.8 534,170 535.5,169 536.5,169.4 539,170.7 540,170.4 541.5,169.5 542.5,169.5"/>
<polyline fill="none" stroke="#149a1a" stroke-width="0.85" stroke-linejoin="round" points="299,169.4 299.5,169.5 300,169.9 301.5,169.9 303,169.7 304.5,169 305,168.9 306,169.3 307.5,169.3 308,169.5 310,169.8 310.5,169.6 313,169.8 316,169.7 317,169.7 318,170.2 318.5,169.9 321,170.1 323.5,169.6 324,166.8 324.3,163.6 324.5,166.8 325,169.6 327,169.9 330,169.8 330.5,170.1 332,170 332.5,170.2 333,170 334.5,170.2 335.5,169.9 336,169.1 336.5,165.7 337,144.7 337.5,166.8 338,169 339,169.7 342,169.2 342.5,168.7 343,167.1 343.6,164 344.5,168.9 345,169.9 345.5,170.1 346,169.8 347,169.8 348.1,168 349,169.7 349.5,169.9 350.5,169.9 351,169.7 351.5,169.8 352.5,169.4 353,168.6 353.7,149.2 354,162.5 354.5,169 355,169.7 355.5,169.6 356,169.8 357,170 357.5,169.9 361,170.1 362,169.8 362.5,170 363,169.9 363.5,169.6 364.5,169.9 366,170 366.5,169.4 367,168.1 368.1,157.3 369,166 369.5,168.3 370,169.1 370.5,169.5 372,170.4 373.5,169.5 374.5,169.4 375.5,168.8 376,166.9 376.8,160.3 377.5,165.6 378,168.2 378.5,169.3 379.5,169.7 380,169.5 383,169.9 384.5,169.7 386,169.8 387,169.6 387.5,169.4 388,167.1 388.5,150 389,166.9 389.5,168.9 390,169 390.5,168.8 391,167.8 391.8,161.9 392.5,167.1 393,169 393.5,169.6 395.5,169 396.5,165.5 397.5,169.1 398,169.7 399,169.8 400,169.5 400.5,168.7 401.4,166 402,167.1 402.5,166.5 403.1,163.6 404,168 404.5,169.3 405.5,170 406,169.9 407,170.2 410,169.7 411,167.9 411.5,166.4 412.5,168.9 413,169.5 414.5,170.2 416,170.2 417,169.8 418,170 419.2,169.1 420.5,169.6 421.5,169.7 422.5,170.3 423,170 424,170 424.5,169.8 431.5,170.7 433,170.5 434,170 435,169.9 435.5,169.2 436.2,168.7 436.5,168.8 437,169.5 438,169.8 439,169.4 440.4,167.5 441.5,169.4 442,169.7 442.5,169.7 444,170.1 445,170 446,169.6 446.5,169.2 447,167.3 447.7,163 448.5,167.8 449,169.2 449.5,169.8 450,169.8 451.5,169.7 452,169.8 453.5,169.2 455,169 455.5,168.7 456.4,166.7 457.5,168.5 458.5,167 459.5,169.2 460,169.7 460.5,169.7 461,169.2 462,166.5 463,169.3 463.5,169.8 464,169.9 464.5,170 465,169.7 465.5,169.9 466,169.5 466.5,168.7 466.9,168.5 468,169.7 469,169.8 470.5,169.7 471.5,170 474,169.2 476,169.6 478,168.8 478.5,168 479.5,165.2 479.8,165 481,168.1 481.5,168.2 482.2,167.7 483.5,169.6 484,170 485,170.3 486.5,170.2 489.2,168.9 490.5,170.1 491.5,170.4 492.5,170.1 493,170.3 494,170 495,170.3 496,170.3 497.9,169 499,169.7 500,169.5 502.5,169.9 503,169.7 503.5,169.8 504,169.5 506.5,170.3 507.5,169.8 509,168.2 511,169.5 511.5,169.5 513,170.1 514.5,169.8 517.4,168.6 518.5,169.8 519.5,169.8 520,170.1 521,169.6 522,170.1 523.5,170.1 524,169.8 525.5,169.4 526,169.6 527,169.1 527.5,169.2 529,170.3 529.5,170.3 530,170 530.5,170 531,169.7 532,169.5 532.5,169.8 534,170 535.5,169 536.5,169.4 539,170.7 540,170.4 541.5,169.5 542.5,169.5"/>
<polyline fill="none" stroke="#149a1a" stroke-width="1.35" stroke-linejoin="round" points="299,197 299.5,196.8 301.5,197 303,196.8 303.5,197 306.5,196.6 307.5,197 308.5,196.7 309.5,196.9 310,196.8 311.5,197.3 313,197.2 313.5,197 314,197.1 315.5,196.7 316,197.1 317,197.3 319.5,196.9 320.5,197.1 321,197 322,197.3 322.5,197.1 323,197.3 323.5,197.1 324,196.2 324.5,196.1 325,197 326,197.4 328.5,197.4 330.5,196.9 333.5,197.4 334,197.4 335,196.8 335.5,197 336,196.4 337,196 338.5,196.8 342,197.6 343,196.3 343.6,196.4 344,196.1 344.5,196.3 345,197.1 345.5,197.1 346,196.9 346.5,197.1 347,196.8 347.5,195.9 348.1,195.9 350,197.4 351,196.9 352,196.8 353,195.7 354,195.5 354.5,195.8 355,196.6 358,197.3 358.5,197.6 361,197 361.5,197.2 362,197.3 362.5,197.1 363.5,197.4 365,197.3 366.5,196.5 367.5,196.2 368,196.4 368.5,196.5 369,196.2 369.5,196.3 370.5,197.2 371.5,197.4 372,197.1 372.5,197.2 373,197.1 374.5,197.3 375.5,196.3 376.8,195.7 378,196.1 379,197.2 381,197.5 381.5,197.3 383,197.2 383.5,197 385,196.9 385.5,196.7 386.5,197.2 387,197.1 388,196.3 389.5,196.3 390,196.5 390.5,196.5 391,195.9 391.5,195.7 394,196.8 395,196.5 395.5,196 397,196.3 397.5,196.1 398,196.6 399,196.5 399.5,196.3 400,196.4 400.5,195.8 401.5,195.7 402,195.9 402.5,195.6 403,195.9 404,195.9 405,196.8 407,197.2 407.5,197.4 408,197.2 409,197.3 411.5,196.1 412.5,196.3 415,197.6 416,197.6 417,197.1 418,197.1 419.2,196.4 421.5,197.5 422.5,197.6 423.5,197.2 425.5,197.8 428,197.1 429.5,197.4 430,197.7 431.5,197.6 432.5,197 433.5,197.3 435,197.3 435.5,197 436,196.3 437.5,197.3 438.5,197.3 440.4,196.4 441,196.3 442,197.1 442.5,196.9 444,197.1 444.5,197 445,197.2 446,196.8 446.5,196.2 447,195.9 447.7,195.9 449,196.6 449.5,197.3 452,197 454,197.3 454.5,197.2 455,196.9 456,195.8 457,195.7 458.5,195.8 460,197.2 461.5,196.2 462.5,196 463.5,196.9 465,197.2 466,197.2 466.5,196.4 467,196.4 468,197.1 469,197 470,197.2 471.5,197.2 474,197.8 475,197.4 475.5,197.5 476,197.2 477.5,197.2 478,196.9 478.5,196.4 479.8,192.5 481,195.4 481.5,195.7 482,195.3 482.2,195.3 482.5,195.5 483,196.5 484,196.8 484.5,197.1 485.5,197.2 486.5,197.7 487,197.4 487.5,197.4 488.5,196.7 489.2,196.5 491,197.6 491.5,197.5 492,197.9 493,197.9 496.5,197.1 497.5,196.1 497.9,196 499.5,197.3 501,197.5 502,197 502.5,197.3 503.5,197.2 504.5,197.4 506,197.2 507,197.3 507.5,197.1 509,195.7 510.5,197.5 511.5,197.8 514,197.3 515,197.5 516,197.2 517.4,196.2 519,197 519.5,196.9 520.5,197.2 521,196.9 521.5,197.3 522,197.3 523,197 524.5,197.1 525,197.3 526,197.1 527.5,196.2 528,196.5 528.5,197.1 530.5,197.3 531,197 533.5,197.7 534.5,197.1 535.5,196.2 536,196.1 537,196.8 538.5,197.1 539,197.5 539.5,197.2 540.5,197.3 541.5,197.2 542,197.5 542.5,197.3"/>
<polyline fill="none" stroke="#149a1a" stroke-width="0.85" stroke-linejoin="round" points="299,197 299.5,196.8 301.5,197 303,196.8 303.5,197 306.5,196.6 307.5,197 308.5,196.7 309.5,196.9 310,196.8 311.5,197.3 313,197.2 313.5,197 314,197.1 315.5,196.7 316,197.1 317,197.3 319.5,196.9 320.5,197.1 321,197 322,197.3 322.5,197.1 323,197.3 323.5,197.1 324,193.8 324.3,189.9 324.5,193.6 325,197 326,197.4 327.5,197.5 330.5,196.9 333.5,197.4 334,197.4 335,196.8 335.5,197 336,196.4 336.5,193.1 337,172.3 337.5,194.5 338,196.5 338.5,196.8 342,197.6 342.5,197 343.6,192.6 344.5,196.3 345,197.1 345.5,197.1 346,196.9 346.5,197.1 347,196.8 348.1,195.1 349,196.6 350,197.4 351,196.9 352,196.8 353,195.1 353.7,171.9 354,187.9 354.5,195.7 355,196.6 358,197.3 358.5,197.6 361,197 361.5,197.2 362,197.3 362.5,197.1 363.5,197.4 365,197.3 366.5,196.5 367,195.4 368.1,185.7 369,193.7 369.5,196.1 370,196.9 370.5,197.2 371.5,197.4 372,197.1 372.5,197.2 373,197.1 374.5,197.3 375.5,196.2 376,193.9 376.8,186.9 378,195.6 378.5,196.7 379,197.2 381,197.5 381.5,197.3 383,197.2 383.5,197 385,196.9 385.5,196.7 386.5,197.2 387,197.1 387.5,196.8 388,194.7 388.5,177.5 389,194.4 389.5,196.3 390,196.5 390.5,196.5 391,195 391.8,189.1 392.5,194.4 393,196.2 393.5,196.7 394,196.8 395,196.5 395.5,196 396.5,192.9 397.5,196.1 398,196.6 399,196.5 399.5,196.3 400,196.4 400.5,195.8 401.4,193 402,194.4 402.5,193.3 403.1,190.9 404,195.2 404.5,196.4 405,196.8 407,197.2 407.5,197.4 408,197.2 409,197.3 410.5,196.6 411.5,193.8 412.5,196.3 415,197.6 416,197.6 417,197.1 418,197.1 419.2,196.4 420.5,197.1 422.5,197.6 423.5,197.2 425.5,197.8 428,197.1 429.5,197.4 430,197.7 431.5,197.6 432.5,197 433.5,197.3 435,197.3 435.5,197 436.2,196 437,197 437.5,197.3 438.5,197.3 439.5,196.7 440.4,195.1 441.5,196.8 442,197.1 442.5,196.9 444,197.1 444.5,197 445,197.2 446,196.8 446.5,196.2 447,194.3 447.7,190.2 448.5,195.1 449,196.6 449.5,197.3 452,197 453.5,197.3 454.5,197.2 455.5,196.4 456.4,193.8 457,195.1 457.5,195.7 458,195.3 458.5,194.4 459,195.7 460,197.2 461,196.6 462,193.8 463,196.5 464,197.1 465.5,197.3 466,197.2 466.9,196.2 468,197.1 469,197 470,197.2 471.5,197.2 474,197.8 475,197.4 475.5,197.5 476,197.2 477.5,197.2 478,196.9 478.5,196.4 479.8,192.5 481,195.4 481.5,195.7 482.2,195.1 483,196.5 484,196.8 484.5,197.1 485.5,197.2 486.5,197.7 487,197.4 487.5,197.4 488.5,196.7 489.2,196.5 491,197.6 491.5,197.5 492,197.9 493,197.9 496.5,197.1 497.5,196.1 497.9,196 499.5,197.3 501,197.5 502,197 502.5,197.3 503.5,197.2 504.5,197.4 506,197.2 507,197.3 507.5,197.1 509,195.7 510.5,197.5 511.5,197.8 514,197.3 515,197.5 516,197.2 517.4,196.2 519,197 519.5,196.9 520.5,197.2 521,196.9 521.5,197.3 522,197.3 523,197 524.5,197.1 525,197.3 526,197.1 527.5,196.2 528,196.5 528.5,197.1 530.5,197.3 531,197 533.5,197.7 534.5,197.1 535.5,196.2 536,196.1 537,196.8 538.5,197.1 539,197.5 539.5,197.2 540.5,197.3 541.5,197.2 542,197.5 542.5,197.3"/>
<polyline fill="none" stroke="#f5188c" stroke-width="1.0" stroke-linejoin="round" points="299,224.7 300,224.7 300.5,224.9 302,224.7 302.5,224.9 304,224.7 305,224.9 305.5,224.7 306.5,224.7 307,224.9 307.5,224.7 308,224.9 309.5,224.7 310,224.9 311.5,224.7 312.5,224.9 313,224.7 313.5,224.9 315,224.7 318.5,224.9 319.5,224.7 322,224.7 322.5,224.9 323,224.8 323.5,224.9 323.5,212.8 323.5,224.8 326,224.9 326.5,224.7 328,224.9 328.5,224.7 330.5,224.9 331,224.7 332,224.7 332.5,224.9 336.5,224.8 336.5,201.2 336.5,224.8 343.5,224.8 343.5,216.4 343.5,224.9 344.5,224.7 345,224.9 347.5,224.8 347.5,221.6 347.5,224.8 349,224.9 349.5,224.7 351,224.7 351.5,224.9 352.5,224.7 353.5,224.8 353.5,201.2 353.5,224.8 355.5,224.7 357,224.9 357.5,224.7 358.5,224.9 360.5,224.7 361,224.9 361.5,224.7 362,224.9 364,224.9 365,224.7 367.5,224.9 367.5,202.8 367.5,224.8 371,224.9 371.5,224.7 373.5,224.9 375,224.7 376.5,224.8 376.5,215.4 376.5,224.8 377.5,224.7 380.5,224.9 381.5,224.7 383,224.9 383.5,224.7 384.5,224.8 384.5,223.8 384.5,224.8 385,224.9 385.5,224.7 388.5,224.8 388.5,198.3 388.5,224.9 391.5,224.8 391.5,216.4 391.5,224.8 392,224.9 392.5,224.8 392.5,221.8 392.5,224.8 393,224.9 395.5,224.7 396.5,224.8 396.5,219.1 396.5,224.8 397,224.9 399,224.7 401.5,224.8 401.5,221.8 401.5,224.9 402.5,224.7 402.5,224.8 402.5,221.3 402.5,224.8 403.5,224.7 404,224.9 405.5,224.7 409,224.9 410,224.7 411.5,224.8 411.5,222.8 411.5,224.8 412.5,224.9 414,224.7 414.5,224.9 416,224.7 416.5,224.9 417,224.7 417.5,224.9 418,224.7 418.5,224.8 418.5,223.8 418.5,224.8 419.5,224.9 420.5,224.8 420.5,223.8 420.5,224.8 422,224.9 424.5,224.7 425,224.9 425.5,224.7 428,224.9 429,224.7 430,224.8 431,224.7 431.5,224.9 432,224.7 435,224.9 435.5,224.8 435.5,222.3 435.5,224.8 436.5,224.7 437,224.9 437.5,224.7 439.5,224.8 439.5,222.8 439.5,224.8 447.5,224.8 447.5,221.3 447.5,224.8 449.5,224.9 450,224.7 451,224.9 453.5,224.9 454.5,224.7 455.5,224.8 455.5,222.8 455.5,224.8 458.5,224.8 458.5,222.3 458.5,224.9 459,224.9 460,224.9 461,224.7 461.5,224.8 461.5,222.3 461.5,224.8 462,224.9 463.5,224.7 464,224.9 466.5,224.8 466.5,223.3 466.5,224.8 467,224.9 471.5,224.7 472,224.9 473.5,224.7 474.5,224.9 475,224.7 475.5,224.9 478.5,224.7 479,224.9 479.5,224.8 479.5,222.3 479.5,224.8 480,224.7 481.5,224.9 481.5,223.3 481.5,224.8 482.5,224.9 483,224.7 483.5,224.7 484.5,224.9 485,224.7 486,224.9 486.5,224.7 487.5,224.9 488.5,224.8 488.5,223.8 488.5,224.8 489.5,224.7 490,224.9 491.5,224.7 497,224.9 497.5,224.8 497.5,224 497.5,224.8 498,224.9 499.5,224.9 500,224.7 501.5,224.9 502,224.8 502.5,224.9 503.5,224.7 505,224.8 507,224.7 507.5,224.9 508,224.9 508.5,224.8 508.5,223.8 508.5,224.8 510.5,224.8 511,224.9 512.5,224.9 513,224.7 514.5,224.7 515.5,224.9 517.5,224.8 517.5,224 517.5,224.8 518,224.7 520.5,224.9 523.5,224.9 525.5,224.7 527.5,224.8 527.5,224 527.5,224.9 530,224.7 531.5,224.9 532.5,224.7 535.5,224.8 535.5,224 535.5,224.8 536,224.9 537.5,224.7 538,224.9 539,224.9 539.5,224.7 541,224.9 542,224.7 542.5,224.8"/>
<rect x="299.0" y="19.0" width="243.79999999999995" height="212.0" fill="none" stroke="#222" stroke-width="1.3"/>
<line x1="299.00" y1="231.0" x2="299.00" y2="227.0" stroke="#2a2a2a" stroke-width="1"/>
<text x="299.00" y="242.70" font-size="8.6" text-anchor="middle" fill="#1a1a1a" stroke="#1a1a1a" stroke-width="0.2">10</text>
<line x1="316.41" y1="231.0" x2="316.41" y2="228.8" stroke="#2a2a2a" stroke-width="1"/>
<line x1="333.83" y1="231.0" x2="333.83" y2="227.0" stroke="#2a2a2a" stroke-width="1"/>
<text x="333.83" y="242.70" font-size="8.6" text-anchor="middle" fill="#1a1a1a" stroke="#1a1a1a" stroke-width="0.2">20</text>
<line x1="351.24" y1="231.0" x2="351.24" y2="228.8" stroke="#2a2a2a" stroke-width="1"/>
<line x1="368.66" y1="231.0" x2="368.66" y2="227.0" stroke="#2a2a2a" stroke-width="1"/>
<text x="368.66" y="242.70" font-size="8.6" text-anchor="middle" fill="#1a1a1a" stroke="#1a1a1a" stroke-width="0.2">30</text>
<line x1="386.07" y1="231.0" x2="386.07" y2="228.8" stroke="#2a2a2a" stroke-width="1"/>
<line x1="403.49" y1="231.0" x2="403.49" y2="227.0" stroke="#2a2a2a" stroke-width="1"/>
<text x="403.49" y="242.70" font-size="8.6" text-anchor="middle" fill="#1a1a1a" stroke="#1a1a1a" stroke-width="0.2">40</text>
<line x1="420.90" y1="231.0" x2="420.90" y2="228.8" stroke="#2a2a2a" stroke-width="1"/>
<line x1="438.31" y1="231.0" x2="438.31" y2="227.0" stroke="#2a2a2a" stroke-width="1"/>
<text x="438.31" y="242.70" font-size="8.6" text-anchor="middle" fill="#1a1a1a" stroke="#1a1a1a" stroke-width="0.2">50</text>
<line x1="455.73" y1="231.0" x2="455.73" y2="228.8" stroke="#2a2a2a" stroke-width="1"/>
<line x1="473.14" y1="231.0" x2="473.14" y2="227.0" stroke="#2a2a2a" stroke-width="1"/>
<text x="473.14" y="242.70" font-size="8.6" text-anchor="middle" fill="#1a1a1a" stroke="#1a1a1a" stroke-width="0.2">60</text>
<line x1="490.56" y1="231.0" x2="490.56" y2="228.8" stroke="#2a2a2a" stroke-width="1"/>
<line x1="507.97" y1="231.0" x2="507.97" y2="227.0" stroke="#2a2a2a" stroke-width="1"/>
<text x="507.97" y="242.70" font-size="8.6" text-anchor="middle" fill="#1a1a1a" stroke="#1a1a1a" stroke-width="0.2">70</text>
<line x1="525.39" y1="231.0" x2="525.39" y2="228.8" stroke="#2a2a2a" stroke-width="1"/>
<line x1="542.80" y1="231.0" x2="542.80" y2="227.0" stroke="#2a2a2a" stroke-width="1"/>
<text x="542.80" y="242.70" font-size="8.6" text-anchor="middle" fill="#1a1a1a" stroke="#1a1a1a" stroke-width="0.2">80</text>
<text transform="translate(421.20,254.80) scale(0.94,1)" font-size="10" text-anchor="middle" fill="#1a1a1a" stroke="#1a1a1a" stroke-width="0.2">2θ(°)</text>
<text transform="translate(296.70,132.75) rotate(-90)" font-size="11.0" text-anchor="middle" fill="#1a1a1a" stroke="#1a1a1a" stroke-width="0.2">Normalized Intensity (a.u.)</text>
<text transform="translate(298.80,14.10) scale(0.92,1.09)" text-anchor="end" font-family="'Liberation Serif', serif" font-weight="bold" font-size="13.3" fill="#111">(B)</text>
<text transform="translate(537.80,55.00) scale(0.925,1.08)" font-size="9.9" text-anchor="end" fill="#111111" stroke="#111111" stroke-width="0.42">N8</text>
<text transform="translate(537.80,84.30) scale(0.925,1.08)" font-size="9.9" text-anchor="end" fill="#111111" stroke="#111111" stroke-width="0.42">N7</text>
<text transform="translate(537.80,111.20) scale(0.925,1.08)" font-size="9.9" text-anchor="end" fill="#111111" stroke="#111111" stroke-width="0.42">N6</text>
<text transform="translate(537.60,138.20) scale(0.925,1.08)" font-size="9.9" text-anchor="end" fill="#111111" stroke="#111111" stroke-width="0.42">N5</text>
<text transform="translate(540.50,164.50) scale(0.925,1.08)" font-size="9.9" text-anchor="end" fill="#138c18" stroke="#138c18" stroke-width="0.42">E2 with HT</text>
<text transform="translate(540.50,191.50) scale(0.925,1.08)" font-size="9.9" text-anchor="end" fill="#138c18" stroke="#138c18" stroke-width="0.42">E2 without HT</text>
<text transform="translate(540.80,219.00) scale(0.925,1.08)" font-size="9.9" text-anchor="end" fill="#f5188c" stroke="#f5188c" stroke-width="0.42">COD-4001849</text>
<text transform="translate(334.60,37.50) scale(0.96,1.08)" font-size="9.9" text-anchor="middle" fill="#111" stroke="#111" stroke-width="0.35">(101)</text>
<text transform="translate(368.00,34.60) scale(0.96,1.08)" font-size="9.9" text-anchor="middle" fill="#111" stroke="#111" stroke-width="0.35">(020)</text>
<text transform="translate(392.80,31.30) scale(0.96,1.08)" font-size="9.9" text-anchor="middle" fill="#111" stroke="#111" stroke-width="0.35">(111)</text>
<polyline fill="none" stroke="#111111" stroke-width="1.35" stroke-linejoin="round" points="21.5,315.6 23.5,316.1 26.5,315.9 27.5,316.4 29,316.7 29.5,316.5 30.5,316.7 33,316.7 34,316.8 34.5,317.1 35,316.8 36,316.8 37,316.3 40,316.7 41,316.5 45.5,316.9 46,316.8 46.5,315.6 47,315.7 47.5,316.4 48.5,317 51,317.3 52.5,316.8 57,317.2 58.5,316.9 59.5,315.8 59.9,316.1 60.5,316 61.5,316.9 62.5,316.9 63.5,317.2 65.5,316.9 66,316.6 66.5,315.8 67,315.8 67.5,316.7 68,316.9 69,316.8 70,317 71,315.7 71.5,315.7 72.5,316.6 74,316.9 75,316.9 75.5,316.7 76.5,315.4 77.5,315.5 78,316.3 79,316.9 80,316.7 82,316.7 83.5,317 84,316.8 85,317.2 86,316.9 86.5,317.1 87.5,316.7 90,317.4 91.8,315.8 93.5,316.7 94,316.7 97,317.2 99.5,316.8 100.5,315.9 101,315.7 101.5,316.6 102.5,317 105.5,316.4 106.5,317 108,317 111,316.8 112,316.1 113,315.7 114,316.5 115,316.6 115.5,315.8 116.5,315.7 117,316.4 118.5,317 119.5,316.7 120,315.8 120.7,315.7 121,315.5 121.5,315.7 122,316.7 122.5,317 123,316.9 123.5,317 124.5,316.4 125,315.4 127,315.2 128,315.4 129,316.7 129.5,317 130,316.8 130.5,317.1 131.5,317.1 132,316.9 132.5,317 134,316.6 134.5,316.7 135,316.4 135.5,315.6 136.5,315.5 137,316.2 137.5,316.5 139,316.8 139.5,316.7 140.5,317.2 142,317.5 143.9,316 146,316.9 146.5,316.8 148,317.2 149.5,316.9 150.5,316.9 152,317.3 155.5,316.7 156.5,317 157.5,316.8 158.5,317.1 160,317.1 161,316 161.5,316.1 162.5,317 163.5,317.3 164,317.1 165,316.1 166,316 167,317 171,316.9 171.5,316.4 172,315.5 172.5,315.7 173.5,315.6 174,315.8 174.5,316.7 176,316.9 177,316.7 178,317.1 180,316.7 181.5,315.8 181.9,316 182.5,315.7 183,316 183.5,315.5 184.5,315.3 185.5,316.5 186,316.5 187,315.8 188,315.8 189,316.9 189.5,317.1 191,316.9 192,315.8 192.6,315.5 193,315.7 194,316.9 194.5,317.2 195.5,317.4 196.5,317.1 198,317 199,317.3 200.5,317.1 201,317.2 201.5,317 203.5,316.6 204,316.3 204.5,315.4 205.8,311.7 206,312 207,314.9 207.5,315.3 208,314.9 208.5,315.1 209.5,316.2 212,317 214,316.7 215.4,315.8 217.5,316.5 221.5,317.1 222.5,317.2 224.3,316.4 225.5,317 227.5,317.2 231.5,316.9 234,317.2 235.6,315.5 237.5,316.6 238.5,316.7 239,317 241,317 241.5,316.8 242,317 243,316.8 243.5,316.2 244.2,316 246,317 247,316.8 247.5,317.1 248.5,316.9 249.5,317.2 250.5,316.9 252.5,316.8 253.5,316.5 254,315.9 254.5,315.8 255,316.1 255.5,316.6 257,317.4 259.5,316.8 261,317.2 262.5,316 263,315.9 265,316.8 265.5,316.7 267,317.3 270.5,317"/>
<polyline fill="none" stroke="#111111" stroke-width="0.85" stroke-linejoin="round" points="21.5,315.6 23.5,316.1 26.5,315.9 27.5,316.4 29,316.7 29.5,316.5 30.5,316.7 33,316.7 34,316.8 34.5,317.1 35,316.8 36,316.8 37,316.3 40,316.7 41,316.5 45.5,316.9 46,316.8 46.5,315.5 46.9,309.7 47.5,316.4 48,316.8 49,317.2 50,317.1 51,317.3 52.5,316.8 56.5,317.2 58.5,316.9 59,316.4 59.5,313.7 59.9,300.7 60.5,315.8 61,316.6 61.5,316.9 62.5,316.9 63.5,317.2 66,316.6 66.7,311.6 67,314.7 67.5,316.7 68,316.9 69,316.8 70,317 70.5,316.4 71.3,315 72,316.3 72.5,316.6 74,316.9 75,316.9 75.5,316.7 76,316.2 76.5,313.7 77,294.7 77.5,314.1 78,316.3 79,316.9 80,316.7 82,316.7 83.5,317 84,316.8 85,317.2 86,316.9 86.5,317.1 87.5,316.7 90,317.4 90.5,317.1 91,316.4 91.5,308.7 91.8,300.1 92,308.2 92.5,316.1 93.5,316.7 94,316.7 97,317.2 99.5,316.8 100,316.3 100.6,309.5 101,314.1 101.5,316.6 102.5,317 105.5,316.4 106.5,317 108,317 109.5,316.8 110.5,317 111.5,316.5 112,315.2 112.6,295.2 113,312.8 113.5,316.1 114,316.5 115,316.6 115.5,315.1 115.9,309 116.5,315.7 117,316.4 118.5,317 119.5,316.7 120,315.7 120.7,312.4 121,312.9 121.5,315.6 122,316.7 122.5,317 123,316.9 123.5,317 124.5,316.4 125,315.4 125.7,312.9 126.5,314.8 127.5,311.5 128.5,316 129,316.7 129.5,317 130,316.8 130.5,317.1 131.5,317.1 132,316.9 132.5,317 134,316.6 134.5,316.7 135,316.4 136,313.3 137,316.2 142,317.5 143.9,316 146,316.9 146.5,316.8 148,317.2 149.5,316.9 150.5,316.9 152,317.3 155.5,316.7 156.5,317 157.5,316.8 158.5,317.1 160,317.1 161.3,315.8 162.5,317 163.5,317.3 164.5,316.7 165.6,314.8 167,317 171,316.9 171.5,316.4 172,315.3 173,310 174,315.4 174.5,316.7 176,316.9 177,316.7 178,317.1 180,316.7 181,316 181.9,314.2 183,316 184.1,314.1 184.5,314.7 185,316 185.5,316.5 186,316.5 186.5,316.2 187.6,313.6 188.5,316.2 189,316.9 189.5,317.1 191,316.9 192.6,315.3 194,316.9 194.5,317.2 195.5,317.4 196.5,317.1 198,317 199,317.3 200.5,317.1 201,317.2 201.5,317 203,316.8 204,316.3 204.5,315.4 205.8,311.7 206,312 207,314.9 207.5,315.3 208.2,314.9 209.5,316.2 212,317 214,316.7 215.4,315.8 217.5,316.5 221.5,317.1 222.5,317.2 224.3,316.4 225.5,317 227.5,317.2 231.5,316.9 234,317.2 235.6,315.5 237.5,316.6 238.5,316.7 239,317 241,317 241.5,316.8 242,317 243,316.8 243.5,316.2 244.2,316 246,317 247,316.8 247.5,317.1 248.5,316.9 249.5,317.2 250.5,316.9 252.5,316.8 253.5,316.5 254,315.9 254.5,315.8 255,316.1 255.5,316.6 257,317.4 259.5,316.8 261,317.2 262.5,316 263,315.9 265,316.8 265.5,316.7 267,317.3 270.5,317"/>
<polyline fill="none" stroke="#111111" stroke-width="1.35" stroke-linejoin="round" points="21.5,341.4 24,342.3 24.5,342.1 25.5,342.2 26.5,342 29.5,342.6 30.5,342.4 33,342.8 33.5,342.5 34,342.6 34.5,342.4 37,343.2 38.5,342.7 41,342.9 43,342.6 45.5,343.1 47.5,342.2 48,341.1 48.5,341.2 49,342.4 50,342.4 52,343 53,342.8 54.5,342.8 55.5,343.1 56,342.8 57,342.8 59,342.3 59.5,341.4 60.5,341.8 61,342.5 63.5,343.2 64,343.1 65.5,342.9 67,342.4 67.5,341.4 68,341.3 68.5,342.4 69,342.6 70.5,342.3 71,341.4 71.5,341.4 72,342.3 72.5,342.7 74,342.9 75.5,342.8 76.5,342.4 77,341.4 77.5,341.5 78,342.4 79,342.9 80,342.7 81,342.9 82.5,342.5 85,343 87,342.6 88,342.9 89,342.6 90.5,342.6 91.5,342.8 92,342.7 93,341.5 94.1,341.1 95,341.2 95.5,341.4 96,342.1 96.5,342.3 97.5,342.6 99,342.6 99.5,342.4 100,341.6 101,337.2 101.5,335.7 103,341.4 103.5,342.2 105,342.7 106.5,342.8 107.5,342.7 108.5,342.9 109.5,342.5 110.5,342.4 111,342.2 112,342.5 113,342.4 114,341.4 114.3,341.4 115,341.6 115.5,342.4 116.5,342.5 117.5,341.3 118,341.3 118.5,342.3 119,342.7 120,343 120.5,342.9 121,343.1 123.5,342.3 124.5,341.3 125.5,341.4 126.5,342.3 127,342.4 127.5,342.3 128.5,341.2 130,341.4 130.5,341.5 131,342.3 131.5,342.5 133.5,342.8 136,341.5 137,341.5 137.5,342.3 138.5,342.8 142.5,342.6 144.5,343 147,342.6 149.5,343.1 152,342.4 153,342.7 157.5,342.5 159,342.9 160.5,342.6 161,342.2 162,341 162.4,340.8 164,342.6 166,342.9 167.5,342.3 168.5,342.4 170,343 172,342.4 172.5,341.9 174.1,336.8 174.5,337.7 175.5,341.6 177,342.6 179,342.4 180,342.7 182,342.7 182.5,342.6 183.5,341.6 184.1,341.7 184.5,341.4 185.5,342.4 186,342.6 187.5,342.7 188,342.6 189,341.2 190,340.9 190.5,340.9 191,341.3 191.5,341.1 193,341.2 193.5,342 194.5,342.7 196,342.7 196.5,342.5 198,343 199,343.1 201,342.6 204.5,342.7 205.5,343 207.5,342.8 208,342.5 209.5,342.4 210,341.9 210.5,341.8 211.5,340.6 212,339.7 212.9,339.1 213.5,339.4 214.5,340.8 216,342.3 218,342.8 219.5,342.6 221.5,342.7 222,342.9 223.5,342.7 226.5,342.7 229,343.3 230.5,342.8 231.5,342.8 233,343 234,342.8 236.7,340.6 238,341.9 239,342.6 242,342.8 242.5,342.6 244,343.1 245,343 246.5,342.3 247.5,342.1 248.5,342.7 250,342.8 251,342.5 252,342.9 253.5,343.1 256,342.6 257.5,342.9 259,342.8 259.5,343 263,342.9 263.5,343 264,342.9 266.5,343.1 267.5,342.7 269.5,342.7 270,343 270.5,342.8"/>
<polyline fill="none" stroke="#111111" stroke-width="0.85" stroke-linejoin="round" points="21.5,341.4 24,342.3 24.5,342.1 25.5,342.2 26.5,342 29.5,342.6 30.5,342.4 33,342.8 33.5,342.5 34,342.6 34.5,342.4 37,343.2 38.5,342.7 41,342.9 43,342.6 45.5,343.1 47.5,342.2 48.2,337.6 48.5,341 49,342.4 50,342.4 52,343 53,342.8 54.5,342.8 55.5,343.1 56,342.8 57,342.8 59,342.3 59.5,340.7 59.9,320.8 60.5,341.8 61,342.5 63.5,343.2 65.5,342.9 67,342.4 67.5,338.3 67.7,331.7 68,338.5 68.5,342.4 69,342.6 70.5,342.3 71,340.3 71.3,337.6 72,342.3 72.5,342.7 74,342.9 75.5,342.8 76.5,342.4 77,340.4 77.3,327.3 78,342.4 79,342.9 80,342.7 81,342.9 82.5,342.5 85,343 87,342.6 88,342.9 89,342.6 90.5,342.6 91.5,342.8 92,342.7 92.5,342 93,340.2 94.1,332.4 95,339.1 95.5,341.4 96,342.1 97.5,342.6 99,342.6 99.5,342.4 100,341.6 101,337.2 101.5,335.7 103,341.4 103.5,342.2 105,342.7 106.5,342.8 107.5,342.7 108.5,342.9 109.5,342.5 110.5,342.4 111,342.2 112,342.5 113,342.4 113.5,342 114,335.2 114.3,323.6 115,341.2 115.5,342.4 116.5,342.5 117,341.9 117.5,336.5 118,341.2 118.5,342.3 120,343 120.5,342.9 121,343.1 123.5,342.3 124,341.9 125,339.5 126,341.9 126.5,342.3 127,342.4 127.5,342.3 128,341.8 129.3,334.8 130.5,341.5 131,342.3 131.5,342.5 133.5,342.8 134.5,342.4 135,341.9 136,338.8 137,341.5 137.5,342.3 138.5,342.8 142.5,342.6 144.5,343 147,342.6 149.5,343.1 152,342.4 153,342.7 157.5,342.5 159.5,342.9 161,342.2 161.5,341.4 162.4,340.8 164,342.6 166,342.9 167.5,342.3 168.5,342.4 170,343 172,342.4 172.5,341.9 174.1,336.8 174.5,337.7 175.5,341.6 177,342.6 179,342.4 180,342.7 182,342.7 182.5,342.6 183,342.1 184.1,340.4 184.5,340.8 185.5,342.4 186,342.6 187,342.7 188,342.6 189,341 189.8,339.1 191,341.3 191.5,340.7 192.2,339.3 193.5,342 194.5,342.7 196,342.7 196.5,342.5 198,343 199,343.1 201,342.6 204.5,342.7 205.5,343 207.5,342.8 208,342.5 209.5,342.4 210,341.9 210.5,341.8 211.5,340.6 212,339.7 212.9,339.1 213.5,339.4 214.5,340.8 216,342.3 218,342.8 219.5,342.6 221.5,342.7 222,342.9 223.5,342.7 226.5,342.7 229,343.3 230.5,342.8 231.5,342.8 233,343 234,342.8 236.7,340.6 238,341.9 239,342.6 242,342.8 242.5,342.6 244,343.1 245,343 246.5,342.3 247.5,342.1 248.5,342.7 250,342.8 251,342.5 252,342.9 253.5,343.1 256,342.6 257.5,342.9 259,342.8 259.5,343 263,342.9 263.5,343 264,342.9 266.5,343.1 267.5,342.7 269.5,342.7 270,343 270.5,342.8"/>
<polyline fill="none" stroke="#111111" stroke-width="1.35" stroke-linejoin="round" points="21.5,368.3 23.5,368.3 24.5,368.8 25,368.7 27.5,369.3 28.5,369.1 30,368.6 30.5,368.8 31,368.7 32.5,369 33,368.8 36,369.4 39.5,368.9 45,368.8 46,368.5 46.5,367.5 47,367.6 48,368.8 49.5,369 50,368.9 51,369.3 52.5,369.5 53,369.5 53.5,369.2 55,369.3 55.5,369.1 56,369.2 58,368.9 59,368.4 59.5,367.8 60.5,368 61,368.8 63,368.9 64.5,369.4 65.5,369 66,368.7 66.5,367.7 67,367.6 67.5,368.7 69.5,369.1 70.5,368.7 71,368 71.3,367.8 71.5,367.8 72.5,369 73,369.2 75,369 76,368.6 76.5,367.9 77.5,368 79,369.2 80,369.4 82.5,369.3 83.5,369.5 84.5,369.2 88,369.3 89.5,369.2 91.8,367.9 92,367.9 93,369.1 95,369.3 96.5,368.9 99,369.1 100,368.5 100.6,367.8 101,367.9 101.5,368.9 102,369.1 102.5,368.9 103,369.1 103.5,368.8 104.5,368.9 105.5,369.3 109.5,369.6 111,369 112,367.6 113,367.6 114,368.5 114.5,368.7 115,368.6 115.5,367.9 116.5,368.4 117,369.2 117.5,369.2 119.5,368.7 120,367.7 121.5,368 122,368.6 122.5,368.9 124.5,368.9 125,368 125.7,368.1 128,367.8 129.5,369.1 132.5,369.4 133,369.2 133.5,369.3 134.5,368.8 135,368.5 135.5,367.8 136.5,367.9 137.5,369.1 139.5,369.3 140,369 141,369.1 142,368.9 142.5,369 143.9,367.8 144.5,368.5 145.5,369 146.5,369.1 149.5,368.6 153,369.4 155.5,368.8 157.5,369.2 158,369.1 159.5,369.2 160,369.1 161.3,368.1 163,368.9 163.5,368.6 164,368.7 164.5,368.4 165,367.8 165.6,367.7 166,367.7 167,368.9 168,369.5 169,369.4 170,368.9 171,368.8 171.5,368.6 172,367.9 172.5,368.1 174,367.8 174.5,368.5 176,369.2 178.5,369.2 179.5,369.5 180.5,369.3 181.5,368.2 181.9,367.9 182.5,367.8 183,368 184.1,367.6 184.5,367.7 185,368.3 186,368.6 187,367.8 187.6,367.8 188.5,368.1 189,368.8 190,368.9 191.5,368.6 192,368 192.6,367.7 193.5,368.5 194.5,368.9 197,369.4 199,369 201.5,369.3 203,369 204,368.3 204.5,367.5 205.5,364 205.8,363.9 206,364.2 207,367.6 207.5,368.2 208,368 208.5,368 209.5,369.1 211.5,369.6 212,369.6 213.5,369.2 215,368.1 216,368.2 217,369.2 218.5,369.2 219.5,369 220,369.3 220.5,369.2 221.5,369.4 223,369 224.3,368.2 226,368.9 228,369.1 228.5,368.9 232,369.4 233.5,369.1 235.6,367.7 237.5,368.8 238.5,368.8 239.5,369.2 241,369.4 243,368.7 244.2,367.8 245,368.6 246,368.9 246.5,369 247,368.8 248,369.2 248.5,369 249.5,369.3 252,368.7 253.5,368.8 254.5,368.6 256,369.4 258.5,369.2 259,369.4 261,369 262.7,368.3 264.5,369.1 265.5,369.3 268.5,369.2 270,368.9 270.5,369.1"/>
<polyline fill="none" stroke="#111111" stroke-width="0.85" stroke-linejoin="round" points="21.5,368.3 23.5,368.3 24.5,368.8 25,368.7 27.5,369.3 28.5,369.1 30,368.6 30.5,368.8 31,368.7 32.5,369 33,368.8 36,369.4 39.5,368.9 45,368.8 46,368.5 46.5,367.2 46.9,360.4 47.5,368 48,368.8 49.5,369 50,368.9 51,369.3 52.5,369.5 53,369.5 53.5,369.2 55,369.3 55.5,369.1 56,369.2 58.5,368.7 59,368.4 59.5,365.3 59.9,351.1 60.5,367.7 61,368.8 63,368.9 64.5,369.4 66,368.7 66.7,362.9 67,366.3 67.5,368.7 69.5,369.1 70,369 70.5,368.7 71.3,367 72,368.4 72.5,369 73,369.2 75,369 76,368.6 76.5,366 77,346.2 77.5,366.4 78,368.5 79,369.2 80,369.4 82.5,369.3 83.5,369.5 84.5,369.2 88,369.3 89.5,369.2 91,368.3 91.5,361.2 91.8,353.2 92,360.9 92.5,368.4 93,369.1 95,369.3 96.5,368.9 99,369.1 100,368.5 100.6,361.1 101,366.2 101.5,368.9 102,369.1 102.5,368.9 103,369.1 103.5,368.8 104.5,368.9 105.5,369.3 109.5,369.6 111,369 111.5,368.4 112,366.7 112.6,345.9 113,364.6 113.5,368 114,368.5 114.5,368.7 115,368.6 115.5,367.3 115.9,361.8 116.5,368.4 117,369.2 117.5,369.2 119.5,368.7 120,367.6 120.7,364.5 121.5,367.9 122,368.6 122.5,368.9 124.5,368.9 125,368 125.7,365.7 126.5,367.5 127.5,363.6 128.5,368.3 129.5,369.1 132.5,369.4 133,369.2 133.5,369.3 134.5,368.8 135,368.5 136,365.7 137,368.6 137.5,369.1 138,369.2 138.5,369 139.5,369.3 140,369 141,369.1 142,368.9 142.5,369 143.9,367.8 144.5,368.5 145.5,369 146.5,369.1 149.5,368.6 153,369.4 155.5,368.8 157.5,369.2 158,369.1 159,369.2 160,369.1 161.3,367.8 163,368.9 164.5,368.4 165.6,366.4 167,368.9 168,369.5 169,369.4 169.5,369.1 171.5,368.6 172,367.8 173,362.2 174,367.4 174.5,368.5 176,369.2 178.5,369.2 179.5,369.5 180.5,369.3 181,368.6 181.9,366.1 183,368 183.5,367.5 184.1,366.2 185,368.3 186,368.6 186.5,368.3 187.6,365.5 188.5,368.1 189,368.8 190,368.9 191.5,368.6 192.6,367.4 193.5,368.5 194.5,368.9 197,369.4 199,369 201.5,369.3 203,369 204,368.3 204.5,367.5 205.5,364 205.8,363.9 206,364.2 207,367.6 207.5,368.2 208.2,367.7 209.5,369.1 211.5,369.6 212,369.6 213.5,369.2 215,368.1 216,368.2 217,369.2 218.5,369.2 219.5,369 220,369.3 220.5,369.2 221.5,369.4 223,369 224.3,368.2 226,368.9 228,369.1 228.5,368.9 232,369.4 233.5,369.1 235.6,367.7 237.5,368.8 238.5,368.8 239.5,369.2 241,369.4 243,368.7 244.2,367.8 245,368.6 246,368.9 246.5,369 247,368.8 248,369.2 248.5,369 249.5,369.3 252,368.7 253.5,368.8 254.5,368.6 256,369.4 258.5,369.2 259,369.4 261,369 262.7,368.3 264.5,369.1 265.5,369.3 268.5,369.2 270,368.9 270.5,369.1"/>
<polyline fill="none" stroke="#111111" stroke-width="1.35" stroke-linejoin="round" points="21.5,397.1 23.5,396.7 25,397.2 25.5,397.1 26,397.4 27.5,397 29,397.5 30,397.5 34,397.4 35.5,397.7 37,397.3 39,397.6 39.5,397.8 40.5,397.3 41.5,397.5 42,397.3 44,397.2 45.5,397.5 46,397.3 46.5,396.5 47,396.5 47.5,396.8 48,397.6 50,397.3 56.5,397.7 58.5,397.1 59.5,396.2 60,396.1 60.5,396.1 61,397 61.5,397.4 62.5,397.6 65.5,397.3 66.5,396.2 67,396.1 67.5,397.2 68.5,397.6 69.5,397.7 71.3,396.3 71.5,396.3 72.5,397.4 73,397.5 73.5,397.2 75.5,397.5 76,397.3 76.5,396.5 77.5,396.2 78.5,397 81,397.9 82.5,397.9 83.5,397.6 84,397.9 85,397.8 86,397.9 87.5,397.6 89,397.8 90,397.6 91.5,396.2 92,396.2 93,397.2 96.5,397.7 98.5,397.5 99.5,397.1 100.5,396.1 101,396 101.5,397.1 102.5,397.7 103.5,397.9 106,397.7 108,397.3 108.5,397 110,397.3 111,397.2 112,396.3 113,396.4 114,397.3 114.5,397.4 115,397.2 115.5,396.1 116.5,396.5 117,397 118,397.2 119.5,397.3 120,396.6 121,396.7 121.5,396.6 122,397.4 123,397.3 124.5,396.7 125,396 126.5,396.4 128,396.3 129,397.3 129.5,397.5 132,397 134.5,397.4 135,397 135.5,396.1 136,396 136.5,396 137.5,397.3 139,397.9 140,397.7 142.5,397.8 143,397.5 143.9,396.5 144.5,397.2 145,397.4 147.5,397.8 148.5,397.8 151,397.2 152.5,397.3 154,397.8 155,397.9 156.5,397.3 159,397.7 160.5,397.1 161.3,396.3 161.5,396.3 162.5,397.4 164,397.3 165,396.4 165.6,396.5 166,396.3 166.5,397 167,397.3 168,397.1 169,397.2 171,397.7 172,396.5 174,396.5 174.5,397.1 175,397.3 176,396.9 177,397.4 178.5,397.7 180.5,397.2 181.5,396.1 183,396.6 183.5,396.3 184.1,396.5 184.5,396.3 185,396.7 186,396.9 187,395.9 187.5,395.9 188.5,396.4 189.5,397.5 190,397.5 191.5,396.9 192,396.2 192.6,395.9 193,396.1 194,397.4 195.5,397.8 196.5,397.6 197,397.8 199.5,397.2 201.5,397.5 204,397 204.5,396.3 205.8,392.4 206,392.7 207,395.6 207.5,396 208,395.6 209.5,397 210.5,397.5 211,397.5 212.5,397.7 213.5,397.5 214.5,397 215,396.4 215.5,396.5 216.5,397.6 217.5,397.9 218.5,397.7 219.5,397.9 220.5,397.6 221,397.7 222,397.3 223,397.3 224.3,396.2 225,396.5 225.5,397 226.5,397.4 229,397.2 230,397.3 230.5,397.6 232.5,397.6 234,397.3 235.6,395.9 237.5,397.4 239,397.6 239.5,397.8 241,397.4 242.5,397.6 244.5,396.6 245.5,397.4 246.5,397.8 247.5,397.9 251,397.4 252.5,397.5 253,397.4 254.5,396.3 256,397.5 261,397.6 261.5,397.2 263,396.7 264,397.3 264.5,397.3 266,397.6 267,398 268,397.6 270.5,398.2"/>
<polyline fill="none" stroke="#111111" stroke-width="0.85" stroke-linejoin="round" points="21.5,397.1 23.5,396.7 25,397.2 25.5,397.1 26,397.4 27.5,397 29,397.5 30,397.5 34,397.4 35.5,397.7 37,397.3 39,397.6 39.5,397.8 40.5,397.3 41.5,397.5 42,397.3 44,397.2 45,397.5 46,397.3 46.5,395.9 46.9,387.8 47.5,396.8 48,397.6 50,397.3 56.5,397.7 58.5,397.1 59,396.7 59.5,393.7 59.9,379.4 60.5,395.9 61,397 61.5,397.4 62.5,397.6 65.5,397.3 66,396.9 66.7,390.9 67,394.6 67.5,397.2 68.5,397.6 69.5,397.7 70.5,397 71.3,395.5 72.5,397.4 73,397.5 73.5,397.2 75.5,397.5 76,397.3 76.5,394.6 77,373.6 77.5,394.5 78,396.6 79.5,397.4 81,397.9 82.5,397.9 83.5,397.6 84,397.9 85,397.8 86,397.9 87.5,397.6 89,397.8 90,397.6 91,396.8 91.5,389.1 91.8,380.9 92,388.9 92.5,396.7 93,397.2 97,397.7 98.5,397.5 100,396.6 100.6,389.4 101,394.3 101.5,397.1 102.5,397.7 103.5,397.9 106,397.7 108,397.3 108.5,397 110,397.3 111,397.2 111.5,396.8 112,395.3 112.6,373.6 113,393.2 113.5,396.9 114,397.3 114.5,397.4 115,397.2 115.5,395.6 115.9,390.5 116.5,396.5 117,397 118,397.2 119.5,397.3 120,396.5 120.7,393.4 121.5,396.5 122,397.4 123,397.3 124.5,396.7 125,396 125.7,393.6 126.5,395.9 127.5,392.1 128.5,396.8 129.5,397.5 132,397 134.5,397.4 135,397 136,393.7 137,396.7 137.5,397.3 139,397.9 140,397.7 142.5,397.8 143,397.5 143.9,396.5 144.5,397.2 145,397.4 147.5,397.8 148.5,397.8 151,397.2 152.5,397.3 154,397.8 155,397.9 156.5,397.3 159,397.7 160.5,397.1 161.3,396 162.5,397.4 163.5,397.4 164,397.3 164.5,397 165.6,395.3 166,395.7 166.5,397 167,397.3 168,397.1 169,397.2 171,397.7 171.5,397.3 172,396.3 173,390.7 174,396.1 174.5,397.1 175,397.3 176,396.9 177,397.4 178.5,397.7 180.5,397.2 181,396.6 181.5,395.2 181.9,394.5 183,396.6 184.1,395.1 185,396.7 186,396.9 186.5,396.6 187.6,393.6 188.5,396.4 189.5,397.5 190,397.5 191.5,396.9 192.6,395.6 194,397.4 195.5,397.8 196.5,397.6 197,397.8 199.5,397.2 201,397.5 202.5,397.3 204,397 204.5,396.3 205.8,392.4 206,392.7 207,395.6 207.5,396 208,395.5 209.5,397 210.5,397.5 211,397.5 212.5,397.7 213.5,397.5 214.5,397 215,396.4 215.5,396.5 216.5,397.6 217.5,397.9 218.5,397.7 219.5,397.9 220.5,397.6 221,397.7 222,397.3 223,397.3 224.3,396.2 225,396.5 225.5,397 226.5,397.4 229,397.2 230,397.3 230.5,397.6 232.5,397.6 234,397.3 235.6,395.9 237.5,397.4 239,397.6 239.5,397.8 241,397.4 242.5,397.6 244.5,396.6 245.5,397.4 246.5,397.8 247.5,397.9 251,397.4 252.5,397.5 253,397.4 254.5,396.3 256,397.5 261,397.6 261.5,397.2 263,396.7 264,397.3 264.5,397.3 266,397.6 267,398 268,397.6 270.5,398.2"/>
<polyline fill="none" stroke="#149a1a" stroke-width="1.35" stroke-linejoin="round" points="21.5,423.7 22.5,423.7 24,424.3 24.5,424.1 25,424.4 26,424.3 27.5,424.5 28,424.4 28.5,424.8 30,424.7 30.5,425 31.5,424.6 33.5,424.6 35,424.8 35.5,424.5 37,424.9 39.5,424.5 40.5,424.7 43,424.2 44,424.3 45,424.7 46,424.9 46.5,424.1 47,423.9 48.5,424.9 49.5,425 51,424.8 53.5,424.9 54,424.6 55,424.8 57,424.8 58.5,424.4 59.5,423.5 60.5,423.2 61.5,424.3 63,425.1 65,424.6 66,423.3 66.7,423.4 67,423.1 67.5,423.2 68.5,424.5 70,424.4 71,423.4 71.5,423.6 72.5,424.8 73,424.8 75.5,424.1 76.5,423.4 78,424 78.5,424.6 80.5,424.8 81.5,424.6 82,424.6 82.5,425 83,424.8 84,425 85,424.4 85.5,424.6 86,424.4 88.5,424.6 89.5,424.5 90,424.4 90.5,423.7 91,423.9 91.8,423.5 92.5,423.4 93,423.5 94,424.2 96.5,424.8 98,424.6 99.5,423.9 100.6,424 101,424.2 102,424 102.5,424.6 103,424.8 105,424.6 105.5,424.9 106,424.8 107,424.9 108,424.6 109,424.8 110.5,424.6 111,424.4 112,423.3 112.5,423.6 113,423.5 114,424.4 114.5,424.2 115,423.7 116.5,423.8 118,425.1 118.5,425.1 120,423.8 121,423.7 122.5,424.6 123.5,424.9 124.5,424.6 125.5,423.8 126,424 127.5,423.7 128.5,423.8 129,424.7 129.5,425.1 132,424.3 134,424.7 135.5,423.7 136.5,423.4 137.5,424.5 139,425.2 142.5,424.9 143.9,424.1 145.5,425.1 146.5,425.2 148,424.7 149,424.6 150,425 152,425.1 152.5,425 153,425.2 153.5,425.1 154,425.2 154.5,425 155,425.1 156.5,424.6 158.5,425.1 160.5,424.3 161,423.7 161.5,423.8 162.5,424.8 163,425.1 164,424.8 165,423.7 165.5,423.4 166,423.3 167,424.3 168,424.7 171,424.5 172.5,423.7 173.5,423.9 174,423.8 175,424.5 176.5,424.4 179,425.3 180.5,425.1 181.5,424.2 181.9,424 184.1,424.1 185.5,425.1 186,425.1 187,424.1 188,423.7 188.5,423.8 189,424.6 189.5,424.5 190.5,424.9 192.6,423.5 193,423.6 193.5,424.1 194.5,424.4 196,424.5 198.5,425.5 200,425.1 201,424.6 203,424.9 204,424.4 205.8,419.9 206,420.2 207,423.3 207.5,423.6 208,423.2 208.5,423.4 209.5,424.3 210,424.5 210.5,424.3 212.5,424.4 213.5,424.8 215,424.1 216,424.6 217,425.4 218,425.1 218.5,424.8 219.5,424.6 220,424.8 221.5,424.9 223,424.6 224,424 226.5,424.4 227,424.6 228,424.7 229,425.1 229.5,424.9 230,425.2 232,424.9 232.5,424.7 233,424.9 234.5,424.1 235.6,422.9 237.5,424.8 238.5,425.3 240.5,425 241,424.7 242.5,424.5 244.2,423.6 245,424 246,425.1 246.5,425.2 247.5,425.2 251,424.2 252,424.4 252.5,424.3 253.5,424.3 254.5,423.9 255.5,424.9 257.5,425.4 258,425.2 258.5,425.3 259,425 259.5,425.1 260,424.9 261.5,424.8 262.7,423.9 263.5,424.5 265,425 266,424.8 266.5,425.1 267,425.2 268,425 268.5,425.4 269.5,425.2 270.5,425.3"/>
<polyline fill="none" stroke="#149a1a" stroke-width="0.85" stroke-linejoin="round" points="21.5,423.7 22.5,423.7 24,424.3 24.5,424.1 25,424.4 26,424.3 27.5,424.5 28,424.4 28.5,424.8 30,424.7 30.5,425 31.5,424.6 33.5,424.6 35,424.8 35.5,424.5 37,424.9 39.5,424.5 40.5,424.7 43,424.2 44,424.3 45,424.7 46,424.9 46.5,423.9 46.9,417.7 47.5,424.2 48,424.7 48.5,424.9 50.5,424.9 51,424.8 53,424.9 53.5,424.9 54,424.6 55,424.8 57,424.8 58.5,424.4 59,424 59.5,419.6 59.9,401.7 60.5,422 61,423.9 63,425.1 64,424.8 64.5,424.9 65,424.6 65.5,424 66,422.4 66.7,418.6 67.5,422.9 68.5,424.5 70,424.4 70.5,424.1 71,423 71.3,422.8 72.5,424.8 74,424.6 76,423.8 76.5,421.3 77,403.3 77.5,421.8 78,424 78.5,424.6 79.5,424.8 80.5,424.8 81.5,424.6 82,424.6 82.5,425 83,424.8 84,425 85,424.4 85.5,424.6 86,424.4 88.5,424.6 90,424.4 90.5,423.3 91,420.5 91.8,413.2 93,423 93.5,423.8 94,424.2 97,424.8 98,424.6 99,424.1 99.5,423.5 100.6,416.2 101.5,422.3 102,424 102.5,424.6 103.5,424.8 105,424.6 105.5,424.9 106,424.8 107,424.9 108,424.6 109,424.8 111,424.4 111.5,423.7 112,422.2 112.6,404.3 113,420.5 113.5,423.9 114,424.4 114.5,424.2 115,423.4 115.9,417.8 117,424.2 118,425.1 118.5,425.1 119.5,424.4 120,423.2 120.7,420.4 121.5,423.4 122,424.3 123,424.8 124.5,424.6 125,423.6 125.7,421.2 126.5,422.5 127.5,418.7 128.5,423.5 129,424.7 129.5,425.1 132,424.3 134,424.7 134.5,424.5 135,424.1 136,421.4 137,424 137.5,424.5 139,425.2 142.5,424.9 143.9,424.1 145.5,425.1 146.5,425.2 148,424.7 149,424.6 150,425 152,425.1 152.5,425 153,425.2 153.5,425.1 154,425.2 154.5,425 155,425.1 156.5,424.6 158.5,425.1 160,424.6 160.5,424.3 161,423.6 161.3,423.5 162.5,424.8 163,425.1 164,424.8 164.5,424.4 165.6,422.1 167,424.3 168.5,424.7 169.5,424.5 171,424.5 171.5,424.2 172,423.7 173,418 174,423.3 174.5,424.1 175,424.5 176.5,424.4 179,425.3 180.5,425.1 181,424.6 181.9,422.1 182.5,423.4 183,424 184.1,422.7 185,424.7 185.5,425.1 186,425.1 186.5,424.7 187.6,421.6 188.5,423.8 189,424.6 189.5,424.5 190.5,424.9 191.5,424.4 192.6,423.3 193.5,424.1 194.5,424.4 196,424.5 198.5,425.5 200,425.1 201,424.6 203,424.9 204,424.4 205.8,419.9 206,420.2 207,423.3 207.5,423.6 208.2,423.1 209,423.9 210,424.5 210.5,424.3 212.5,424.4 213.5,424.8 215,424.1 216,424.6 217,425.4 218,425.1 218.5,424.8 219.5,424.6 220,424.8 221.5,424.9 223,424.6 224,424 226.5,424.4 227,424.6 228,424.7 229,425.1 229.5,424.9 230,425.2 232,424.9 232.5,424.7 233,424.9 234.5,424.1 235.6,422.9 237.5,424.8 238.5,425.3 240.5,425 241,424.7 242.5,424.5 244.2,423.6 245,424 246,425.1 246.5,425.2 247.5,425.2 251,424.2 252,424.4 252.5,424.3 253.5,424.3 254.5,423.9 255.5,424.9 257.5,425.4 258,425.2 258.5,425.3 259,425 259.5,425.1 260,424.9 261.5,424.8 262.7,423.9 263.5,424.5 265,425 266,424.8 266.5,425.1 267,425.2 268,425 268.5,425.4 269.5,425.2 270.5,425.3"/>
<polyline fill="none" stroke="#149a1a" stroke-width="1.35" stroke-linejoin="round" points="21.5,450.8 23,451 24,451.4 25,451.1 26,450.6 26.5,450.7 28.5,451.6 31,451.4 31.5,451.5 32.5,451.3 33.5,451.6 35,451.3 36.5,451.2 37.5,451.6 38.5,451.3 39,451.6 40,451.4 42.5,451.6 44,451.4 44.5,451.5 46,451.2 46.5,450.1 47,449.8 48,451 49,451.3 51,451.3 51.5,451.1 52.5,450.9 55,451.5 55.5,451.3 56.5,451.4 58,451.9 58.5,451.8 59,451.4 59.5,450.6 60.5,450.3 61,450.9 63.5,451.9 65,451.6 65.5,451.1 66,450.2 66.7,450.2 67.5,449.8 68.5,450.7 70,450.9 70.5,450.7 71,450.1 71.5,450.2 72.5,451.1 74,451.3 75.5,451.1 76.5,450.2 77,450 77.5,450.2 78,450.9 79,451.5 80.5,451.4 81,451.8 81.5,451.7 83,452.1 86,451.4 87,451.6 89,451.5 90,450.7 91.5,450.4 91.8,450.6 92.5,450.7 93,450.5 94,451.3 94.5,451.2 95,451.4 96,451.5 98,451.3 99.5,450.4 101,450.5 102,450.3 102.5,450.8 103.5,451.2 105.5,451.4 106,451.3 106.5,451.4 107,451.2 108.5,451.5 109,451.4 110.5,451.6 111.5,450.9 112,450.2 112.5,450.1 113.5,450.3 114,450.9 114.5,450.9 115,450.4 115.5,450.2 115.9,450.5 117,450.6 117.5,451.2 118,451.2 119,450.7 120,450 121.5,450.5 122.5,451.3 123.5,451.4 124.5,451.1 125,450.5 125.5,450.7 126.5,450.4 127,450.6 127.5,450.3 128.5,450.5 129,451.2 130,451.7 130.5,451.5 132,451.4 133,451.7 134.5,451.1 135.5,450.2 136.5,450.3 137.5,451.4 138,451.3 139,451.6 139.5,451.5 140.5,451.7 141,451.4 142,451.6 143.9,450.7 145,451.2 146.5,451.2 148,451.6 149.5,451.5 150,451.7 150.5,451.5 151,451.7 151.5,451.4 153,451.5 153.5,451.2 154,451.3 155.5,451.1 156,451.4 158,451.5 158.5,451.2 159.5,451.4 160,451.1 161,450 161.5,449.9 162,450.2 162.5,450.8 164,450.8 164.5,450.5 165,449.9 165.5,450.3 166,450.3 167,451 167.5,451.2 168,451 168.5,451.3 169.5,451.6 170.5,451.6 171.5,450.8 172,450.1 173,450.5 173.5,450.4 174,450.6 175,451.4 175.5,451.5 176,451.9 176.5,451.8 177,452 178.5,451.5 179,451.8 180,451.3 181.5,450.2 182.5,450.6 183,451 184.5,450.6 185.5,451 186,450.7 186.5,450.7 187,450.1 187.6,450.1 188.5,450.4 189,450.9 190.5,451.3 191,451.3 192.5,450.4 193,450.3 194,451.4 195,451.4 196,451.8 197,451.5 199,451.8 200,451.7 200.5,451.4 201,451.6 201.5,451.3 202.5,451 203,451.1 203.5,450.7 204,450.7 204.5,449.9 205.8,446.3 206,446.5 207,449.6 207.5,449.9 208,449.8 208.5,449.9 209,450.6 210,451.3 212,451.8 212.5,451.8 215.4,450.7 216.5,451.6 217,451.6 217.5,451.3 219,451 219.5,451 220.5,451.6 221.5,451.6 222.5,451.4 224,450.5 226,451.2 227,450.9 229,451.8 230.5,451.4 233,451.6 234.5,451.2 235.5,450.2 236,450.1 237.5,451.2 239,451.7 240,451.1 240.5,451 241.5,451.2 242.5,451.7 244.5,450.8 246,451.5 248,451.7 249,451.4 250,451.6 250.5,451.3 251.5,451.5 253,451.4 254.5,450.5 258.5,452 261,451.4 261.5,451.5 262,451.1 262.7,450.9 263.5,451.1 265,451.1 267,451.6 268.5,451.1 269.5,451.1 270.5,451.4"/>
<polyline fill="none" stroke="#149a1a" stroke-width="0.85" stroke-linejoin="round" points="21.5,450.8 23,451 24,451.4 25,451.1 26,450.6 26.5,450.7 28.5,451.6 31,451.4 31.5,451.5 32.5,451.3 33.5,451.6 35,451.3 36.5,451.2 37.5,451.6 38.5,451.3 39,451.6 40,451.4 42.5,451.6 44,451.4 44.5,451.5 46,451.2 46.5,449.7 46.9,442.9 47.5,450.3 48,451 49,451.3 51,451.3 51.5,451.1 52.5,450.9 55,451.5 55.5,451.3 56.5,451.4 58,451.9 58.5,451.8 59,451.4 59.5,448.4 59.9,436.3 60.5,449.9 61,450.9 63.5,451.9 65,451.6 65.5,451.1 66,449.7 66.7,446.5 67.5,449.8 68.5,450.7 70,450.9 70.5,450.7 71.3,449.4 72,450.8 72.5,451.1 74,451.3 75.5,451.1 76,450.7 76.5,447.8 77,428 77.5,448 78,450.9 79,451.5 80.5,451.4 81,451.8 81.5,451.7 83,452.1 86,451.4 87,451.6 89,451.5 90,450.7 90.5,449.9 91,446.6 91.8,439.3 92.5,446.7 93,449.8 93.5,450.8 94,451.3 97,451.4 98,451.3 99,450.7 99.5,449.9 100.6,442.6 101.5,448.6 102,450.3 102.5,450.8 103,451.1 104.5,451.3 106,451.3 106.5,451.4 107,451.2 108.5,451.5 109,451.4 110.5,451.6 111,451.3 111.5,450.9 112,448.9 112.6,429.7 113,446.9 113.5,450.3 114,450.9 114.5,450.9 115,450.1 115.9,444.7 117,450.6 117.5,451.2 118,451.2 119.5,450.3 120,449.4 120.7,446.9 121.5,449.9 122,451.1 122.5,451.3 123.5,451.4 124.5,451.1 125.7,448 126.5,448.9 127,447.6 127.5,445.3 128.5,450.2 129,451.2 130,451.7 130.5,451.5 132,451.4 133,451.7 134.5,451.1 135,450.6 136,448 137,450.8 137.5,451.4 138,451.3 139,451.6 139.5,451.5 140.5,451.7 141,451.4 142,451.6 143.9,450.7 145,451.2 146.5,451.2 148,451.6 149.5,451.5 150,451.7 150.5,451.5 151,451.7 151.5,451.4 153,451.5 153.5,451.2 154,451.3 155.5,451.1 156,451.4 158,451.5 158.5,451.2 159.5,451.4 160,451.1 161.3,449.6 162.5,450.8 164,450.8 164.5,450.5 165,449.6 165.6,449 166.5,450.6 167,451 167.5,451.2 168,451 169,451.5 170.5,451.6 171.5,450.8 172,449.9 173,444.7 174,450.1 174.5,451.1 176,451.9 176.5,451.8 177,452 178.5,451.5 179,451.8 180,451.3 181,450.6 181.9,448.6 183,451 183.5,450.5 184.1,449.3 185,450.9 185.5,451 186,450.7 186.5,450.7 187.6,447.8 188.5,450.4 189,450.9 191,451.3 192,450.8 192.6,450.2 193,450.3 194,451.4 195,451.4 195.5,451.7 196,451.8 197,451.5 199,451.8 200,451.7 200.5,451.4 201,451.6 201.5,451.3 202.5,451 203,451.1 203.5,450.7 204,450.7 204.5,449.9 205.8,446.3 206,446.5 207,449.6 207.5,449.9 208.2,449.7 209,450.6 210,451.3 212,451.8 212.5,451.8 215.4,450.7 216.5,451.6 217,451.6 217.5,451.3 219,451 219.5,451 220.5,451.6 221.5,451.6 222.5,451.4 224,450.5 226,451.2 227,450.9 229,451.8 230.5,451.4 233,451.6 234.5,451.2 235.5,450.2 236,450.1 237.5,451.2 239,451.7 240,451.1 240.5,451 241.5,451.2 242.5,451.7 244.5,450.8 246,451.5 248,451.7 249,451.4 250,451.6 250.5,451.3 251.5,451.5 253,451.4 254.5,450.5 258.5,452 261,451.4 261.5,451.5 262,451.1 262.7,450.9 263.5,451.1 265,451.1 267,451.6 268.5,451.1 269.5,451.1 270.5,451.4"/>
<polyline fill="none" stroke="#f5188c" stroke-width="1.0" stroke-linejoin="round" points="21.5,479.6 22.5,479.7 24,479.5 25,479.7 25.5,479.5 26,479.7 26.5,479.5 28.5,479.7 29,479.5 29.5,479.7 30.5,479.5 32,479.7 33,479.5 35,479.7 37,479.5 39,479.6 39.5,479.5 40,479.7 42,479.5 42.5,479.7 44.5,479.7 45.5,479.5 46.5,479.7 46.5,467.6 46.5,479.6 48,479.7 49,479.5 51.5,479.7 52,479.5 53.5,479.7 55.5,479.5 56,479.7 57,479.5 57.5,479.7 59,479.5 59.5,479.6 59.5,456 59.5,479.6 61.5,479.7 62.5,479.5 63.5,479.6 66.5,479.6 66.5,471.2 66.5,479.6 71.5,479.6 71.5,476.4 71.5,479.6 76.5,479.6 76.5,456 76.5,479.6 77.5,479.5 78.5,479.7 79,479.5 79.5,479.7 82,479.5 83,479.7 83.5,479.5 84,479.7 85,479.7 85.5,479.5 86.5,479.7 88,479.5 88.5,479.6 91,479.5 91.5,479.7 91.5,457.6 91.5,479.6 94.5,479.5 95,479.7 96.5,479.5 97.5,479.7 98,479.6 100.5,479.6 100.5,470.2 100.5,479.6 103.5,479.5 105.5,479.7 107,479.5 108,479.7 108.5,479.6 108.5,478.6 108.5,479.6 112.5,479.6 112.5,453.1 112.5,479.6 113.5,479.7 114.5,479.5 115.5,479.6 115.5,471.2 115.5,479.6 117.5,479.6 117.5,476.6 117.5,479.7 118,479.5 118.5,479.7 119.5,479.5 120.5,479.6 120.5,473.9 120.5,479.6 121,479.5 121.5,479.7 122,479.5 124.5,479.7 125,479.5 125.5,479.6 125.5,476.6 125.5,479.6 127.5,479.6 127.5,476.1 127.5,479.6 128,479.7 128.5,479.5 129,479.7 130,479.5 130.5,479.7 131,479.5 136.5,479.6 136.5,477.6 136.5,479.6 136.5,479.5 137,479.5 137.5,479.7 138,479.7 138.5,479.5 140,479.7 140.5,479.5 141,479.7 141.5,479.5 142,479.7 142.5,479.5 143.5,479.7 143.5,478.6 143.5,479.6 144.5,479.7 145,479.6 145.5,479.7 146.5,479.6 146.5,478.6 146.5,479.6 147.5,479.7 148,479.5 150,479.7 151.5,479.5 152.5,479.7 153,479.5 153.5,479.7 155.5,479.5 157,479.7 158,479.5 158.5,479.7 159.5,479.6 160.5,479.7 160.5,477.1 160.5,479.6 164.5,479.6 164.5,477.6 164.5,479.6 165.5,479.7 166.5,479.5 167.5,479.6 169,479.5 170,479.6 171,479.5 172,479.7 173.5,479.6 173.5,476.1 173.5,479.7 174,479.6 175.5,479.7 176,479.5 178,479.7 179,479.5 180,479.7 180.5,479.5 181.5,479.6 181.5,477.6 181.5,479.6 183.5,479.7 184.5,479.6 184.5,477.1 184.5,479.6 186,479.7 187.5,479.6 187.5,477.1 187.5,479.6 189.5,479.5 192.5,479.6 192.5,478.1 192.5,479.6 193,479.7 199.5,479.5 200.5,479.6 201,479.5 201.5,479.7 203.5,479.7 204.5,479.5 205.5,479.6 205.5,477.1 205.5,479.6 207.5,479.5 208,479.7 208.5,479.6 208.5,478.1 208.5,479.6 209,479.5 209.5,479.7 210,479.5 212.5,479.7 213.5,479.5 215.5,479.6 215.5,478.6 215.5,479.6 216,479.7 216.5,479.5 217.5,479.7 219,479.5 220.5,479.6 221,479.5 222,479.7 222.5,479.5 224.5,479.6 224.5,478.8 224.5,479.6 231.5,479.7 232,479.5 233,479.7 235,479.5 235.5,479.6 235.5,478.6 235.5,479.6 238,479.6 238.5,479.5 239.5,479.7 241,479.5 242,479.7 244.5,479.6 244.5,478.8 244.5,479.6 244.5,479.5 245.5,479.7 247.5,479.5 248.5,479.7 249.5,479.5 252,479.7 253,479.5 254,479.7 254.5,479.6 254.5,478.8 254.5,479.6 257,479.5 257.5,479.7 259,479.5 260,479.7 261.5,479.7 262.5,479.6 262.5,478.8 262.5,479.6 265,479.5 265.5,479.7 266.5,479.5 267.5,479.7 268,479.5 270.5,479.7"/>
<rect x="21.5" y="276.0" width="249.0" height="209.5" fill="none" stroke="#222" stroke-width="1.3"/>
<line x1="21.50" y1="485.5" x2="21.50" y2="481.5" stroke="#2a2a2a" stroke-width="1"/>
<text x="21.50" y="497.20" font-size="8.6" text-anchor="middle" fill="#1a1a1a" stroke="#1a1a1a" stroke-width="0.2">10</text>
<line x1="39.29" y1="485.5" x2="39.29" y2="483.3" stroke="#2a2a2a" stroke-width="1"/>
<line x1="57.07" y1="485.5" x2="57.07" y2="481.5" stroke="#2a2a2a" stroke-width="1"/>
<text x="57.07" y="497.20" font-size="8.6" text-anchor="middle" fill="#1a1a1a" stroke="#1a1a1a" stroke-width="0.2">20</text>
<line x1="74.86" y1="485.5" x2="74.86" y2="483.3" stroke="#2a2a2a" stroke-width="1"/>
<line x1="92.64" y1="485.5" x2="92.64" y2="481.5" stroke="#2a2a2a" stroke-width="1"/>
<text x="92.64" y="497.20" font-size="8.6" text-anchor="middle" fill="#1a1a1a" stroke="#1a1a1a" stroke-width="0.2">30</text>
<line x1="110.43" y1="485.5" x2="110.43" y2="483.3" stroke="#2a2a2a" stroke-width="1"/>
<line x1="128.21" y1="485.5" x2="128.21" y2="481.5" stroke="#2a2a2a" stroke-width="1"/>
<text x="128.21" y="497.20" font-size="8.6" text-anchor="middle" fill="#1a1a1a" stroke="#1a1a1a" stroke-width="0.2">40</text>
<line x1="146.00" y1="485.5" x2="146.00" y2="483.3" stroke="#2a2a2a" stroke-width="1"/>
<line x1="163.79" y1="485.5" x2="163.79" y2="481.5" stroke="#2a2a2a" stroke-width="1"/>
<text x="163.79" y="497.20" font-size="8.6" text-anchor="middle" fill="#1a1a1a" stroke="#1a1a1a" stroke-width="0.2">50</text>
<line x1="181.57" y1="485.5" x2="181.57" y2="483.3" stroke="#2a2a2a" stroke-width="1"/>
<line x1="199.36" y1="485.5" x2="199.36" y2="481.5" stroke="#2a2a2a" stroke-width="1"/>
<text x="199.36" y="497.20" font-size="8.6" text-anchor="middle" fill="#1a1a1a" stroke="#1a1a1a" stroke-width="0.2">60</text>
<line x1="217.14" y1="485.5" x2="217.14" y2="483.3" stroke="#2a2a2a" stroke-width="1"/>
<line x1="234.93" y1="485.5" x2="234.93" y2="481.5" stroke="#2a2a2a" stroke-width="1"/>
<text x="234.93" y="497.20" font-size="8.6" text-anchor="middle" fill="#1a1a1a" stroke="#1a1a1a" stroke-width="0.2">70</text>
<line x1="252.71" y1="485.5" x2="252.71" y2="483.3" stroke="#2a2a2a" stroke-width="1"/>
<line x1="270.50" y1="485.5" x2="270.50" y2="481.5" stroke="#2a2a2a" stroke-width="1"/>
<text x="270.50" y="497.20" font-size="8.6" text-anchor="middle" fill="#1a1a1a" stroke="#1a1a1a" stroke-width="0.2">80</text>
<text transform="translate(146.30,510.80) scale(0.94,1)" font-size="10" text-anchor="middle" fill="#1a1a1a" stroke="#1a1a1a" stroke-width="0.2">2θ(°)</text>
<text transform="translate(17.10,388.30) rotate(-90)" font-size="11.2" text-anchor="middle" fill="#1a1a1a" stroke="#1a1a1a" stroke-width="0.2">Normalized Intensity (a.u.)</text>
<text transform="translate(20.50,272.00) scale(0.92,1.09)" text-anchor="end" font-family="'Liberation Serif', serif" font-weight="bold" font-size="13.3" fill="#111">(C)</text>
<text transform="translate(265.80,313.30) scale(0.955,1.08)" font-size="9.9" text-anchor="end" fill="#111111" stroke="#111111" stroke-width="0.42">N12</text>
<text transform="translate(265.80,338.60) scale(0.955,1.08)" font-size="9.9" text-anchor="end" fill="#111111" stroke="#111111" stroke-width="0.42">N11</text>
<text transform="translate(265.80,366.50) scale(0.955,1.08)" font-size="9.9" text-anchor="end" fill="#111111" stroke="#111111" stroke-width="0.42">N10</text>
<text transform="translate(265.00,394.40) scale(0.955,1.08)" font-size="9.9" text-anchor="end" fill="#111111" stroke="#111111" stroke-width="0.42">N9</text>
<text transform="translate(268.70,421.00) scale(0.955,1.08)" font-size="9.9" text-anchor="end" fill="#138c18" stroke="#138c18" stroke-width="0.42">E3 with HT</text>
<text transform="translate(268.20,447.70) scale(0.955,1.08)" font-size="9.9" text-anchor="end" fill="#138c18" stroke="#138c18" stroke-width="0.42">E3 withou HT</text>
<text transform="translate(268.70,475.80) scale(0.955,1.08)" font-size="9.9" text-anchor="end" fill="#f5188c" stroke="#f5188c" stroke-width="0.42">COD-4001849</text>
<text transform="translate(58.80,296.20) scale(0.96,1.08)" font-size="9.9" text-anchor="middle" fill="#111" stroke="#111" stroke-width="0.35">(101)</text>
<text transform="translate(92.10,292.90) scale(0.96,1.08)" font-size="9.9" text-anchor="middle" fill="#111" stroke="#111" stroke-width="0.35">(020)</text>
<text transform="translate(116.70,290.60) scale(0.96,1.08)" font-size="9.9" text-anchor="middle" fill="#111" stroke="#111" stroke-width="0.35">(111)</text>
<polyline fill="none" stroke="#111111" stroke-width="1.35" stroke-linejoin="round" points="301,320 303,319.9 304.5,320.4 305.5,320.4 306.5,320.8 307,320.8 308,321.3 309,321.5 311.5,320.9 314.5,321.7 316.5,321.8 318.5,321.3 321,321.6 322,321.5 323,322 324.5,321.7 325,321.3 325.5,320.3 326,320.4 326.5,321.6 328,321.7 329,321.4 330.5,321.3 331,321.5 333.5,321.6 335.5,321.9 336.5,321.9 337.5,321.2 338,320.5 338.3,320.4 339,320.8 339.5,321.4 340,321.6 341,321.6 341.5,321.3 344,321.5 344.5,320.6 344.9,320.5 346,321.4 348,321.4 348.5,321.3 349,320.3 349.5,320.2 350.5,321.4 351,321.7 352,321.9 353,321.9 354,321.2 354.5,320.6 355.5,320.3 356,321.1 356.5,321.4 358,321.6 360.5,321.5 362.5,321.9 365,321.7 365.5,321.9 367.5,321.7 368.5,321.3 369,320.7 369.5,320.7 370.5,321.7 372,321.8 373.5,321.5 376,321.9 377,321.7 377.5,320.7 378,320.7 378.5,321 379,321.8 380.5,321.6 382.5,322 383.5,322 384.5,321.5 385.5,321.6 386,321.4 387,321.7 388.5,321.2 389,320.5 390,320.6 391,321.7 391.5,321.7 392,321.4 392.5,320.6 392.8,320.5 393,320.5 394,321.4 395.5,321.7 396,321.6 397,320.7 398,320.5 398.5,321.3 399,321.6 400,321.6 401,321.3 402,320.6 404,320 404.5,320.2 406,321.7 407,321.9 407.5,321.7 408,322 410,321.9 411.5,320.8 412,320.3 413,320.6 413.5,321.6 415.5,322.1 418,321.5 418.5,321.6 419.9,320.5 420.5,321 422.5,321.8 424,321.7 425.5,321.3 426.5,321.4 428,321.9 429,322 430,322 430.5,321.8 431.5,321.9 432,321.7 433,322 434,321.7 435,321.9 435.5,321.6 436.5,320.5 436.9,320.4 437.5,320.7 438.5,321.7 439,321.9 440,321.5 440.5,320.9 441,320.6 441.5,320.7 442.5,321.9 443.5,322.2 446.5,321.5 447,321.2 447.5,320.6 448,320.8 448.3,320.6 449,320.7 450,321.6 450.5,321.6 451,321.9 453.5,321.3 455.5,321.6 456,320.9 456.5,320.6 457.5,320.5 458.5,320.7 459,320.4 459.5,320.5 460.5,321.5 461,321.5 462,320.7 463,320.8 464,321.6 465,321.7 466,321.5 467,320.4 467.5,320.4 468.5,321.5 469.5,321.6 470,321.4 472,322 474,322 477,321.3 478,321.3 478.5,321 479,320.1 480.1,317 480.5,317.6 481,319.4 481.5,320.4 482.5,320.1 483.5,321.2 484.5,321.6 485.5,321.8 486,321.6 486.5,321.9 487,321.6 488.5,321.4 489,320.8 489.4,320.7 490,321.1 493,321.9 494,321.7 495,321.8 495.5,321.6 496.5,321.8 497.5,321 498.1,320.9 499,321.4 500.5,321.7 501,321.6 502.5,322.2 505,321.4 505.5,321.3 506,321.6 506.5,321.6 508,321.3 508.5,320.6 509.1,320.2 509.5,320.3 510,321.1 511,321.6 511.5,321.7 513,321.4 513.5,321.6 515.5,321.6 517,320.9 517.4,320.9 519.5,321.7 520,321.7 521.5,322 522.5,321.9 524,321.5 525.5,321.5 526,321.7 527.4,321 528,321.5 529,322 530,321.8 531,322 531.5,321.9 533,322 534.5,321.6 535.4,320.9 536,321.1 536.5,321.6 537,321.6 538.5,322.2 540.5,322.2 541,321.9 541.5,322.1 543,321.6"/>
<polyline fill="none" stroke="#111111" stroke-width="0.85" stroke-linejoin="round" points="301,320 303,319.9 304.5,320.4 305.5,320.4 306.5,320.8 307,320.8 308,321.3 309,321.5 311.5,320.9 315,321.8 316.5,321.8 318.5,321.3 321,321.6 322,321.5 323,322 324.5,321.7 325,321.3 325.7,314.9 326,318.9 326.5,321.6 328,321.7 329,321.4 330.5,321.3 331,321.5 333.5,321.6 335.5,321.9 336.5,321.9 337.5,321.2 338,317 338.3,306.2 339,320.8 339.5,321.4 340,321.6 341,321.6 341.5,321.3 344,321.5 344.5,320.3 344.9,316.2 345.5,321.1 346,321.4 348.5,321.3 349.4,319.5 350.5,321.4 351,321.7 353,321.9 354,321.2 354.5,318.2 354.9,301.1 355.5,319.8 356,321.1 356.5,321.4 358,321.6 360.5,321.5 362.5,321.9 365,321.7 365.5,321.9 366.5,321.8 367.5,321.7 368.5,321.3 369,314.9 369.3,305.3 370,321.3 370.5,321.7 372,321.8 373.5,321.5 376,321.9 377,321.7 377.5,319.9 377.9,313.8 378.5,321 379,321.8 380.5,321.6 382,322 383.5,322 384.5,321.5 385.5,321.6 386,321.4 387,321.7 388.5,321.2 389,319 389.5,298.5 390,319 390.5,321.3 391,321.7 391.5,321.7 392,321.4 392.5,318.1 392.8,314.2 393.5,321.1 394,321.4 395.5,321.7 396,321.6 396.5,321 397.5,317.4 398.5,321.3 399,321.6 400,321.6 401,321.3 401.5,320.9 402.3,318.1 403,319.9 403.5,318.8 404,316.2 405,320.8 406,321.7 406.5,321.8 407.5,321.7 408.5,322 410,321.9 411.5,320.8 412.3,318.1 413,320.6 413.5,321.6 415.5,322.1 418,321.5 418.5,321.6 419.9,320.5 420.5,321 422.5,321.8 424,321.7 425.5,321.3 426.5,321.4 428,321.9 429,322 430,322 430.5,321.8 431.5,321.9 432,321.7 433,322 434,321.7 435,321.9 435.5,321.6 436.9,320.2 438.5,321.7 439,321.9 440,321.5 441,319.4 442,321.4 442.5,321.9 443.5,322.2 447,321.2 447.5,319.4 448.3,314.9 449,319.3 449.5,321 450,321.6 450.5,321.6 451,321.9 453.5,321.3 455.5,321.6 456,320.9 456.9,318.6 458,320.7 458.5,320.2 459,319.1 460,321.2 460.5,321.5 461,321.5 461.5,321.2 462.4,318.5 463.5,321.2 464,321.6 465,321.7 466,321.5 467.3,320.2 468.5,321.5 469.5,321.6 470,321.4 472,322 475,321.9 477,321.3 478,321.3 478.5,321 479,320.1 480.1,317 480.5,317.6 481,319.4 481.5,320.4 482.5,319.8 483.5,321.2 484.5,321.6 485.5,321.8 486,321.6 486.5,321.9 487,321.6 488.5,321.4 489,320.8 489.4,320.7 490,321.1 493,321.9 494,321.7 495,321.8 495.5,321.6 496.5,321.8 497.5,321 498.1,320.9 499,321.4 500.5,321.7 501,321.6 502.5,322.2 505,321.4 505.5,321.3 506,321.6 506.5,321.6 508,321.3 508.5,320.6 509.1,320.2 509.5,320.3 510,321.1 511,321.6 511.5,321.7 513,321.4 513.5,321.6 515.5,321.6 517,320.9 517.4,320.9 519.5,321.7 520,321.7 521.5,322 522.5,321.9 524,321.5 525.5,321.5 526,321.7 527.4,321 528,321.5 529,322 530,321.8 531,322 531.5,321.9 533,322 534.5,321.6 535.4,320.9 536,321.1 536.5,321.6 537,321.6 538.5,322.2 540.5,322.2 541,321.9 541.5,322.1 543,321.6"/>
<polyline fill="none" stroke="#111111" stroke-width="1.35" stroke-linejoin="round" points="301,346.7 303,347.2 304.5,347 307,347.3 308,347 310.5,346.9 312,347.3 313,347.4 314,347.2 316.5,347.7 319,347.5 321.5,347.1 322.5,347.1 324.5,347.5 325,347.3 325.5,346.4 326,346.4 326.5,347.2 328,347.6 330,347.9 330.5,347.6 331.5,347.6 333.5,347.8 335,347.8 335.5,348 337,347.3 338,345.8 339,346.1 339.5,346.8 340,347.1 342,347.4 344,347.1 344.5,346.1 345,346.2 345.5,346.9 346.5,347.5 348.5,347.1 349,346 349.5,346 350.5,347.1 351.5,347 353,347.3 353.5,347.2 354.5,346.2 355,346.2 355.5,346.3 356.5,347.6 360.5,347.5 361,347.8 362.5,347.5 363,347.6 363.5,347.5 364,347.6 364.5,347.4 365,347.5 366.5,347.3 368,347.5 368.5,347.1 369,346.2 369.5,346.3 370,347 371,347.7 372,348 373.5,347.9 375,347.4 377,347.1 377.5,346.2 377.9,346.1 378.5,346.5 379,347.3 380,347.7 381,347.8 384,347.6 384.5,347.7 385,347.5 386.5,347.4 387,347.1 388,347.3 388.5,346.9 389,346.1 389.5,346.3 390,346.2 391.5,347.3 392,347.1 392.5,346.4 393,346.6 393.5,347.4 394,347.7 394.5,347.7 395,347.9 396,347.4 397,346.1 397.5,345.9 398,346 398.5,346.8 399.5,347.3 401,347.1 402,346.2 402.5,346.4 404,346.2 404.5,346.3 405.5,347.4 406.5,347.6 408,347.3 410,347.7 411,347.5 412,346.4 412.5,346.3 413,346.5 413.5,347.4 415,347.8 418.5,347.1 419.9,346.5 421,347.6 421.5,347.9 422.5,348 425,347.3 429,348.2 430.5,347.6 432,347.5 433,347.8 434,347.4 435.5,347.6 436,347.2 436.5,346.4 437,346.5 438.5,347.5 439,347.7 440.5,346.6 441.5,346.4 442.5,347.4 443.5,347.3 444,347.5 444.5,347.2 446.5,346.9 447.5,346.1 449,346.2 449.5,346.4 450,347.1 452,347.9 454.5,347.2 455,347.4 456.5,346.3 457.5,346 458,346.2 458.5,346 459.5,346 460.5,347.3 461,347.2 462,346.5 463,346.4 464,347.4 465,347.5 466,347.2 467,346.1 467.5,346.2 468.5,347.2 469,347.3 469.5,347.2 472,347.9 473.5,347.7 474.5,347.2 477,347.8 478,347.3 478.5,346.8 479,345.8 479.5,343.8 480.1,342.6 481.5,346.2 482,346.4 482.5,346.2 483.5,347.3 485,347.6 488,347.7 489.4,346.6 491,347.4 493,347.6 496,347.4 496.5,347.5 498.1,346.8 499,347.3 500,347.5 504,347.4 507.5,347.1 509.1,345.9 511.5,347.6 513,347.9 516,347.7 517.4,346.6 518.5,346.8 520,347.6 521.5,347.8 522.5,347.5 524,347.7 525.5,347.5 526.5,347 527,346.6 527.5,346.5 528.5,347.4 531,347.7 532,348.1 534,347.8 535.4,346.6 539,347.7 541.5,347.5 542,347.7 543,347.3"/>
<polyline fill="none" stroke="#111111" stroke-width="0.85" stroke-linejoin="round" points="301,346.7 303,347.2 304.5,347 307,347.3 308,347 310.5,346.9 312,347.3 313,347.4 314,347.2 316.5,347.7 319,347.5 321.5,347.1 322.5,347.1 324.5,347.5 325,347.3 325.7,340.7 326,344.7 326.5,347.2 330,347.9 330.5,347.6 331.5,347.6 333.5,347.8 335,347.8 335.5,348 337,347.3 337.5,346.7 338,341.5 338.3,328.9 339,346.1 339.5,346.8 341,347.3 342,347.4 344,347.1 344.5,345.7 344.9,341.5 345.5,346.9 346.5,347.5 348.5,347.1 349.4,345.3 350.5,347.1 351.5,347 352.5,347.3 353.5,347.2 354,346.7 354.5,343.3 354.9,323.8 355.5,345.6 356,347.1 356.5,347.6 360.5,347.5 361,347.8 362.5,347.5 363,347.6 363.5,347.5 364,347.6 364.5,347.4 365,347.5 366.5,347.3 368,347.5 368.5,347.1 369,341.4 369.3,333.4 370,347 371,347.7 372,348 373.5,347.9 375,347.4 377,347.1 377.5,345.4 377.9,339.2 378.5,346.5 379,347.3 380,347.7 381,347.8 384,347.6 384.5,347.7 385,347.5 386.5,347.4 387,347.1 388,347.3 388.5,346.9 389,344.8 389.5,326.7 390,344.9 390.5,346.7 391.5,347.3 392,347.1 392.5,344.2 392.8,340.8 393.5,347.4 394,347.7 394.5,347.7 395,347.9 396,347.4 396.5,346.8 397.5,342.6 398.5,346.8 399.5,347.3 400,347.4 401,347.1 401.5,346.6 402.3,344 403,345.9 403.5,344.8 404,342.3 405,346.9 405.5,347.4 406.5,347.6 407.5,347.3 410,347.7 411,347.5 411.5,346.9 412.3,344.1 413,346.5 413.5,347.4 415,347.8 418.5,347.1 419.9,346.5 421,347.6 421.5,347.9 422.5,348 425,347.3 429,348.2 430.5,347.6 432,347.5 433,347.8 434,347.4 435.5,347.6 436.9,346.2 438,347.2 439,347.7 440,347 441,345.3 442,347.1 442.5,347.4 443.5,347.3 444,347.5 444.5,347.2 446,347.1 447,346.7 447.5,345 448.3,340.4 449,344.7 449.5,346.4 450,347.1 452,347.9 454.5,347.2 455,347.4 455.5,347.2 456,346.8 456.9,344.4 458,346.2 459,344.6 460,346.7 460.5,347.3 461,347.2 461.5,346.8 462.4,344.2 463.5,347 464.5,347.5 466,347.2 467,346.1 467.3,346 468.5,347.2 469,347.3 469.5,347.2 472,347.9 473.5,347.7 474.5,347.2 475,347.2 477,347.8 478,347.3 478.5,346.8 479,345.8 479.5,343.8 480.1,342.6 481.5,346.2 482,346.4 482.5,346 483.5,347.3 485,347.6 488,347.7 489.4,346.6 491,347.4 493,347.6 496,347.4 496.5,347.5 498.1,346.8 499,347.3 500,347.5 504,347.4 507.5,347.1 509.1,345.9 511.5,347.6 513,347.9 516,347.7 517.4,346.6 518.5,346.8 520,347.6 521.5,347.8 522.5,347.5 524,347.7 525.5,347.5 526.5,347 527,346.6 527.5,346.5 528.5,347.4 531,347.7 532,348.1 534,347.8 535.4,346.6 539,347.7 541.5,347.5 542,347.7 543,347.3"/>
<polyline fill="none" stroke="#111111" stroke-width="1.35" stroke-linejoin="round" points="301,372.9 302,373 303,373.5 306,373.4 308,373.9 309,373.9 310.5,373.4 312,373.4 313,373.8 315.5,374 319,373.4 322.5,373.9 324,373.7 324.5,373.5 325.5,372.1 325.7,372.1 326.5,373.1 327.5,373.7 331,373.2 331.5,373.3 332.5,373.8 333.5,373.9 335,373.3 337,373.6 338,372.3 339,372.5 340,373.2 343,373.6 344,373.2 344.5,372.2 345,372.2 346,373.3 347.5,373.3 348.5,373.1 349,372.3 349.5,372.2 350.5,373.1 351,373.2 352.5,373.3 353,373.4 354,373 354.5,372.4 355.5,372.5 356,373.3 357,373.8 359.5,373.7 361.5,373.9 363.5,373.6 364.5,373.8 366,373.5 368,373.7 368.5,373.5 369,372.7 369.5,372.5 370.5,373.3 372,373.9 372.5,373.9 374,373.9 377,373.3 377.5,372.6 378,372.5 378.5,372.7 379.5,373.6 380.5,373.7 381.5,374 382.5,373.6 383,373.7 384,373.4 385,373.6 386.5,373.4 388.5,372.8 389,372.1 390,372.5 390.5,373.4 391.5,373.6 392,373.4 392.5,372.3 393,372.1 393.5,372.9 394,373.2 394.5,373.1 396,373.8 397,372.9 398,372.6 399,373.3 401,373.6 401.5,372.8 402.3,372.1 403.5,372.1 404.5,372.4 405.5,373.6 406.5,373.9 407.5,373.5 408,373.6 408.5,373.4 409,373.4 410,373.8 412.5,372.3 413,372.7 413.5,373.7 415,374 417,373.7 418.5,374 419,373.7 419.9,372.6 422,373.5 424,373.5 425,373.8 425.5,373.6 426,373.8 427,373.7 428,374 428.5,373.7 430,373.8 431,374 431.5,373.7 433.5,373.3 435,373.4 436,373 436.5,372.3 437.5,372.6 438,373.3 439,373.9 440,373.4 440.5,372.6 441.5,372.3 442.5,373.2 444.5,373.9 446,373.5 447.5,372.4 448,372.6 449,372.4 450,373.2 451.5,373.7 453,373.5 455.5,373.5 456.5,372.6 457,372.5 458,373 459.5,372.7 460,373.4 460.5,373.6 461,373.5 462,372.8 463,372.7 464,373.5 465,373.7 466,373.3 466.5,372.9 467,372.1 467.5,372 468.5,373.2 469.5,373.5 473,373.6 474.5,373.9 476.5,373.8 477,373.5 477.5,373.5 478.5,372.8 480.1,368.7 481.5,372.2 482.5,371.9 483.5,373.3 484,373.5 485.5,373.5 486,373.2 487.5,373.4 488.5,373 489,372.5 489.4,372.4 491.5,373.6 492,373.6 492.5,373.8 494.5,373.4 497,373.5 498.1,372.8 499.5,373.5 502.5,373.6 504,374.1 507,373.7 508,373.4 509.1,372.4 510,373.3 510.5,373.5 511,373.7 512.5,373.7 513,373.9 514,373.5 516,373.6 516.5,373.4 517.4,372.5 519.5,373.4 521.5,373.6 523,373.4 523.5,373.7 525,374 527.4,372.7 529,373.6 530.5,373.7 531,373.9 533,373.9 535.4,372.7 537,373.9 538.5,373.8 539.5,373.6 540.5,373.9 543,373.8"/>
<polyline fill="none" stroke="#111111" stroke-width="0.85" stroke-linejoin="round" points="301,372.9 302,373 303,373.5 306,373.4 308,373.9 309,373.9 310.5,373.4 312,373.4 313,373.8 314.5,374 316.5,373.9 319,373.4 322.5,373.9 324,373.7 325,373 325.7,364.4 326,369.8 326.5,373.1 327,373.5 327.5,373.7 328.5,373.4 329,373.6 329.5,373.4 331,373.2 331.5,373.3 332.5,373.8 333.5,373.9 334.5,373.4 335.5,373.3 337,373.6 337.5,373 338,368.2 338.3,355.9 339,372.5 339.5,373 340.5,373.3 343,373.6 344,373.2 344.5,371.7 344.9,367 345.5,372.8 346,373.3 347.5,373.3 348.5,373.1 349.4,371.5 350,372.6 350.5,373.1 353,373.4 353.5,373.3 354,373 354.5,369.5 354.9,350.4 355.5,371.8 356,373.3 357,373.8 359.5,373.7 361.5,373.9 363.5,373.6 364.5,373.8 367,373.5 368,373.7 368.5,373.5 369,367.1 369.3,357.7 370,372.8 370.5,373.3 372,373.9 372.5,373.9 374,373.9 377,373.3 377.5,371.9 377.9,366 378.5,372.7 379.5,373.6 380.5,373.7 381.5,374 382.5,373.6 383,373.7 384,373.4 385,373.6 386.5,373.4 388.5,372.8 389,370.8 389.5,352.5 390,371.2 390.5,373.4 391.5,373.6 392,373.4 392.5,370.1 392.8,366.3 393.5,372.9 394,373.2 394.5,373.1 396,373.8 396.5,373.3 397.5,369.4 398.5,373 399,373.3 401,373.6 401.5,372.8 402.3,369.7 403,371.7 403.5,370.6 404,368.3 405,373.2 405.5,373.6 406.5,373.9 407.5,373.5 408,373.6 408.5,373.4 409,373.4 410,373.8 411,373.3 411.5,373 412.3,370.1 413,372.7 413.5,373.7 415,374 417,373.7 418.5,374 419,373.7 419.9,372.6 422,373.5 424,373.5 425,373.8 425.5,373.6 426,373.8 427,373.7 428,374 428.5,373.7 430,373.8 431,374 431.5,373.7 433.5,373.3 435,373.4 436,373 436.9,372.1 437.5,372.6 438,373.3 439,373.9 440,373.4 441,371.2 442,372.8 442.5,373.2 444.5,373.9 446,373.5 447,372.7 447.5,371.2 448.3,366.7 449,371 449.5,372.9 450,373.2 451.5,373.7 453,373.5 455.5,373.5 456,372.9 456.9,370.7 457.5,372.2 458,373 459,371.3 460,373.4 460.5,373.6 461,373.5 461.5,373.1 462.4,370.5 463.5,373.2 464.5,373.6 465,373.7 466,373.3 466.5,372.9 467.3,371.8 468.5,373.2 469.5,373.5 473,373.6 474.5,373.9 476.5,373.8 477,373.5 477.5,373.5 478.5,372.8 480.1,368.7 481.5,372.2 482,372.1 482.5,371.7 483.5,373.3 484,373.5 485.5,373.5 486,373.2 487.5,373.4 488.5,373 489,372.5 489.4,372.4 491.5,373.6 492,373.6 492.5,373.8 494.5,373.4 497,373.5 498.1,372.8 499.5,373.5 502.5,373.6 504,374.1 507,373.7 508,373.4 509.1,372.4 510,373.3 510.5,373.5 511,373.7 512.5,373.7 513,373.9 514,373.5 516,373.6 516.5,373.4 517.4,372.5 519.5,373.4 521.5,373.6 523,373.4 523.5,373.7 525,374 527.4,372.7 529,373.6 530.5,373.7 531,373.9 533,373.9 535.4,372.7 537,373.9 538.5,373.8 539.5,373.6 540.5,373.9 543,373.8"/>
<polyline fill="none" stroke="#111111" stroke-width="1.35" stroke-linejoin="round" points="301,399.6 302.5,399.9 304.5,399.4 307.5,400.3 309,400.2 310.5,400.2 311,400.4 312.5,400.1 315,400.3 318,400 321,400.6 322,400.6 322.5,400.3 324.5,400.4 325,400.1 325.5,399.1 325.7,399.1 326,399.1 326.5,400.2 327.5,400.7 331.5,400.3 333,400.8 333.5,400.6 334,400.7 335,400.2 337,400.1 338,399.1 339,399 339.5,399.9 340,400.2 341,400.6 342.5,400.7 344,400.5 344.5,399.4 345,399.4 346,400.5 346.5,400.4 347,400.6 348,400.2 349,398.9 349.5,398.8 350.5,400.1 352,400.6 353,400.7 353.5,400.4 354.5,399.2 355,399 355.5,399.1 356,399.9 357,400.5 359.5,400 360.5,400.4 363,400.3 363.5,400.6 365.5,401 368,399.9 369.3,399 369.5,399 370.5,400.1 372,400.7 374,400.2 376,400.4 376.5,400.2 377,400 377.5,398.9 378,398.9 378.5,399.3 379,400.3 380.5,400.8 382,400.8 383,400.4 383.5,400.5 384.5,400.3 385.5,400.7 387.5,400.5 388.5,400 389,399.3 389.5,399.3 390,399.1 391,399.9 391.5,399.8 392,399.6 392.5,399 393,399 393.5,399.8 394.5,400.2 396,400.1 397,399.2 398,399.3 399,400.3 400.5,400.3 401,400.1 401.5,399.4 402,399.1 403,399.1 404.5,399.4 405.5,400.1 407.5,400.1 408,400.4 410,400.3 411,400 412,399.2 413,399.5 413.5,400.6 414.5,400.4 416,400.5 417,400.8 419,400.2 419.5,399.5 419.9,399.3 420.5,399.9 421,400.1 422.5,400.3 423,400.2 424.5,400.7 425.5,400.7 426,400.4 427.5,400.3 428,400.1 429,400.2 430.5,400.8 431.5,400.9 432,400.7 435,400.5 436,400.1 436.5,399.2 437,399.3 438,400.4 439,400.8 439.5,400.7 440.5,399.4 441.5,399.1 442.5,400.4 444,400.7 446,400.3 447.5,399.1 449,399.5 450,400.3 451.5,400.5 453,400.2 453.5,400.4 455.5,400.3 456.5,399.1 458,399.6 459.5,399.1 460,399.9 460.5,400.1 461.5,399.8 462,399.3 463,399.3 463.5,400.1 464,400.5 465,400.6 466,400.1 467,398.9 467.5,398.8 468.5,400.1 469,400.3 470,400.5 472,400 472.5,400.1 473.5,400.5 474.5,400.6 476,400 478,400.3 478.5,399.8 480.1,395.2 480.5,395.9 481.5,398.9 482.5,398.6 484,399.9 486,400.6 487.5,400.5 488.5,399.7 489.4,399.4 490,399.6 491,400.6 491.5,400.6 494,400.1 495.5,400.6 496.5,400.4 498.1,399.4 498.5,399.8 499.5,400.3 502.5,400.8 505,400.3 506,400.5 507.5,400.4 508.5,399.6 509.5,399.3 510,400 511,400.5 514,400.2 515.5,400.6 516,400.2 516.5,400.2 517.4,399.4 518,399.6 518.5,400.1 522,400.8 522.5,400.6 523,400.8 524.5,400.3 525,400.5 526,400.3 527.4,399.4 529.5,400.3 530,400.1 531.5,400.4 532,400.2 533,400.2 535.4,399.2 537,400.5 538,400.8 538.5,400.8 540.5,400.2 541.5,400.5 543,400.7"/>
<polyline fill="none" stroke="#111111" stroke-width="0.85" stroke-linejoin="round" points="301,399.6 302.5,399.9 304.5,399.4 307.5,400.3 309,400.2 310.5,400.2 311,400.4 312.5,400.1 315,400.3 318,400 321,400.6 322,400.6 322.5,400.3 324.5,400.4 325,400.1 325.7,392.6 326,397.1 326.5,400.2 328,400.7 331.5,400.3 333,400.8 333.5,400.6 334,400.7 335,400.2 337,400.1 337.5,399.8 338,394.5 338.3,381.4 339,399 339.5,399.9 341.5,400.7 344,400.5 344.5,398.8 344.9,394 345.5,400 346,400.5 346.5,400.4 347,400.6 348,400.2 349,398.9 349.4,398.1 350,399.5 350.5,400.1 352,400.6 353,400.7 353.5,400.4 354,399.8 354.5,396 354.9,375.3 355.5,398.2 356,399.9 357,400.5 359.5,400 360.5,400.4 363,400.3 363.5,400.6 365.5,401 368,399.9 368.5,399.4 369,392.8 369.3,382.6 370,399.6 370.5,400.1 372,400.7 374,400.2 376,400.4 377,400 377.5,398.2 377.9,392.4 378.5,399.3 379,400.3 380.5,400.8 382,400.8 383,400.4 383.5,400.5 384.5,400.3 385.5,400.7 387.5,400.5 388.5,400 389,398 389.5,378.9 390,397.7 390.5,399.6 391,399.9 392,399.6 392.5,396.3 392.8,392.2 393.5,399.8 394.5,400.2 396,400.1 396.5,399.7 397.5,396 398.5,399.9 399,400.3 399.5,400.4 401,400.1 401.5,399.4 402.3,396.7 403,398.5 403.5,397.3 404,394.5 405,399.7 405.5,400.1 407.5,400.1 408,400.4 409,400.4 410,400.3 411,400 411.5,399.6 412.3,397 413,399.5 413.5,400.6 414.5,400.4 416,400.5 417,400.8 419,400.2 419.5,399.5 419.9,399.3 420.5,399.9 421,400.1 422.5,400.3 423,400.2 424.5,400.7 425.5,400.7 426,400.4 427.5,400.3 428,400.1 429,400.2 430.5,400.8 431.5,400.9 432,400.7 435,400.5 436,400.1 436.5,399.2 436.9,399 438,400.4 439,400.8 439.5,400.7 441,398 442.5,400.4 444.5,400.6 446,400.3 447,399.5 447.5,398 448.3,393.6 449,398 449.5,399.8 450,400.3 450.5,400.4 455.5,400.3 456,399.6 456.9,397.5 457.5,398.9 458,399.6 459,397.8 460,399.9 461,400.1 461.5,399.8 462.4,397 463.5,400.1 464.5,400.7 465.5,400.5 466,400.1 467.3,398.6 468.5,400.1 469,400.3 470,400.5 472,400 472.5,400.1 473.5,400.5 474.5,400.6 476,400 478,400.3 478.5,399.8 479,398.6 480.1,395.2 480.5,395.9 481.5,398.9 482.5,398.4 484,399.9 486,400.6 487.5,400.5 488.5,399.7 489.4,399.4 490,399.6 491,400.6 491.5,400.6 494,400.1 495.5,400.6 496.5,400.4 498.1,399.4 498.5,399.8 499.5,400.3 502.5,400.8 505,400.3 506,400.5 507.5,400.4 508.5,399.6 509.5,399.3 510,400 511,400.5 514,400.2 515.5,400.6 516,400.2 516.5,400.2 517.4,399.4 518,399.6 518.5,400.1 522,400.8 522.5,400.6 523,400.8 524.5,400.3 525,400.5 526,400.3 527.4,399.4 529.5,400.3 530,400.1 531.5,400.4 532,400.2 533,400.2 535.4,399.2 537,400.5 538,400.8 538.5,400.8 540.5,400.2 541.5,400.5 543,400.7"/>
<polyline fill="none" stroke="#149a1a" stroke-width="1.35" stroke-linejoin="round" points="301,424.2 302.5,424.8 304,424.4 304.5,424.6 306.5,424.9 307,424.4 307.5,424.4 309.5,425.4 311.5,424.9 312.5,425.3 313,425 314,424.9 315,424.4 315.5,424.8 316.5,425.3 317,425.2 317.5,425.6 318.5,425.2 320,425.3 320.5,425.5 321,425.6 321.5,425.2 322,425.4 322.5,425.2 323.5,425.6 324,425.5 325,424.7 325.5,423.3 326,422.9 327,424.4 327.5,424.7 329,424.8 331,425.3 332,424.8 332.5,425.1 333,425 334,425.6 335,425.1 336,425.1 337,424.5 337.5,423.8 338,424 338.5,423.7 339,424.8 339.5,425.3 340,425.4 340.5,425.3 341,425.4 341.5,424.4 342,424.3 342.5,424.3 344,425 345,424.1 345.5,424.2 346,425 348,424.6 348.5,423.9 349,424.2 349.5,424.1 350,424.7 351.5,423.2 352,424.1 353,424.9 353.5,424.7 354,424.1 354.5,424.2 355,424.5 356,425.7 356.5,425.7 358,425.1 359,423.8 359.4,424.2 361.5,424.5 362,424.3 362.5,423.7 363,423.6 363.2,423.6 363.5,424.1 364,424 365,425 365.5,425.1 366,424.9 366.5,425 367,424.7 367.5,424 368.1,424 369.5,424.6 370.7,424.3 371,423.9 371.5,424.2 372,424.9 372.5,424.7 373.5,424.9 374,424.2 374.5,423.9 375,424.4 375.5,424.4 376,424.6 376.5,425.3 377,425 377.5,424 378,424.3 378.4,423.9 379,423.9 380,424.8 381,424.8 381.5,424.4 383,424.3 384,424.8 385,424.4 385.5,425 386.5,425.1 387,424.9 387.5,425.2 388,424.9 388.5,424.2 389.5,424.2 390.5,423.5 391,423.8 392.5,423.7 393.5,424 394,423.6 394.5,424.7 395.5,425 396,424.8 397.5,424.6 399,422.7 399.5,422.6 400.5,424.7 401,425.2 402.5,425.7 403,425.5 404,424.6 404.5,424.5 406.1,421.9 407,424 408,425.1 408.5,425.2 410,424.9 411.5,425.8 412.5,425.7 413,425.4 414,424.2 414.7,423.5 416,425.1 417.5,424.9 418.5,425.1 419,425.6 420,426 420.5,425.9 421,426.1 421.5,425.6 422.5,425.5 423,425.7 424,425.6 426,424.7 426.5,424.9 427,424.8 428.5,425.5 429,425.3 430,425.8 431,425.3 431.5,425.5 432.5,425 433,425.1 433.5,425.4 435,425.1 435.5,425.1 436,424.7 437,422.9 437.9,419.7 438.5,421.4 439,423.6 439.5,424.4 440.5,425.1 441.5,425.2 443,424.7 443.5,425.1 444,425 444.5,425.5 446.5,424.9 447,424.3 447.5,424.2 448,423.7 449,421.6 450,423.7 450.5,424.2 452,424.1 453,421.3 453.5,420.6 455,424.4 455.5,425.2 456,425.2 456.5,425 457,425.3 458,424.9 459,425.7 460,425.6 460.5,425.8 462,424.9 462.5,424.3 463.5,422.1 463.8,421.8 465,424.2 465.5,424.9 466.5,425.2 468.5,424.9 469,424.5 470,424.9 471,424.8 471.5,425.4 472.5,425.1 473.5,425.6 474,425 475,425.2 476,424.7 476.5,425 477.5,424.7 479,424.9 479.5,425.3 480.5,425.4 481,425.3 482,422.7 482.8,421.2 483.5,422.2 484.5,424.8 485.5,424.7 486.5,423 487,421.6 487.5,421.7 489,424.6 489.5,425.2 490,425.5 491.5,425.4 492,425.1 493,425.2 494,425 494.5,425.5 495.5,425.7 498,425.1 498.5,425.5 499,425.5 500,424.8 501,424.4 502.5,424.7 503,425.1 504,425.4 505.5,424.8 507.5,424.5 508,424.2 508.5,424.2 509.5,424.8 511,424.6 512,425.3 513.5,425.4 514.5,425.1 515.5,425.6 517,425.8 517.5,425.4 519,425.5 519.5,425 520,425.4 522,425.5 523,425 524,424.9 525,425.4 526,425.3 526.5,425.7 527.5,425.6 528,425.9 528.5,426 530,425.5 530.5,425.2 531,425.4 532,425 532.5,425 533.5,424.8 535,425.6 535.5,426 536.5,425.8 537.5,425.3 538,425.4 539,425 540,425.7 540.5,425.3 541.5,425.8 542,425.8 542.5,425.4 543,425.3"/>
<polyline fill="none" stroke="#149a1a" stroke-width="0.85" stroke-linejoin="round" points="301,424.2 302.5,424.8 304,424.4 304.5,424.6 306.5,424.9 307,424.4 307.5,424.4 309.5,425.4 311.5,424.9 312.5,425.3 313,425 314,424.9 315,424.4 315.5,424.8 316.5,425.3 317,425.2 317.5,425.6 318.5,425.2 320,425.3 320.5,425.5 321,425.6 321.5,425.2 322,425.4 322.5,425.2 323.5,425.6 324,425.5 325,424.7 325.9,422.2 327,424.4 327.5,424.7 329,424.8 331,425.3 332,424.8 332.5,425.1 333,425 334,425.6 335,425.1 336,425.1 337,424.5 337.5,422.9 338,403.3 338.5,423 339,424.8 339.5,425.3 340,425.4 340.5,425.3 341,425.4 341.5,424.4 342.1,422.5 343,424.6 344,425 344.5,424.5 345.1,417.3 345.5,423.4 346,425 348,424.6 348.5,423.9 349.1,416 349.5,423.1 350,424.7 350.5,424.3 351.1,417.7 351.5,422.1 352,424.1 353,424.9 353.5,424.7 354,423.5 354.4,418.4 355,424.5 356,425.7 356.5,425.7 358,425.1 358.5,424.5 359,422.8 359.4,422.4 360.5,424.4 361.5,424.5 362,424.3 363.2,421.8 364,423.9 365,425 365.5,425.1 366,424.9 366.5,425 367,424.7 368.1,420.1 369,424.4 369.5,424.6 370,423.7 370.7,420.4 371.5,424.2 372,424.9 372.5,424.7 373.5,424.9 374,424.2 375,421.5 376,424.6 376.5,425.3 377,425 377.5,423.7 378.4,417.3 379.5,423.6 380,422.9 381,411.2 382,422.2 382.5,424.1 383,423.8 384,420.7 385,424.4 385.5,425 386.5,425.1 387,424.9 387.5,425.2 388,424.9 388.5,424.1 389,422 390,412.5 391,421.1 391.5,423.3 392,423 393,418.9 394,423.6 394.5,424.7 395.5,425 396,424.8 397.5,424.6 399,422.7 399.5,422.6 400.5,424.7 401,425.2 402.5,425.7 403,425.5 404,424.6 404.5,424.5 406.1,421.9 407,424 408,425.1 408.5,425.2 410,424.9 411.5,425.8 412.5,425.7 413,425.4 414,424.2 414.7,423.5 416,425.1 417.5,424.9 418.5,425.1 419,425.6 420,426 420.5,425.9 421,426.1 421.5,425.6 422.5,425.5 423,425.7 424,425.6 426,424.7 426.5,424.9 427,424.8 428.5,425.5 429,425.3 430,425.8 431,425.3 431.5,425.5 432.5,425 434,425.4 435,425.1 435.5,425.1 436,424.7 437,422.9 437.9,419.7 438.5,421.4 439,423.6 439.5,424.4 440.5,425.1 441.5,425.2 443,424.7 443.5,425.1 444,425 444.5,425.5 446.5,424.9 447,424.3 447.5,424.2 448,423.7 449,421.6 450,423.7 450.5,424.2 452,424.1 453,421.3 453.5,420.6 455,424.4 455.5,425.2 456,425.2 456.5,425 457,425.3 458,424.9 459,425.7 460,425.6 460.5,425.8 462,424.9 462.5,424.3 463.5,422.1 463.8,421.8 465,424.2 465.5,424.9 466.5,425.2 468.5,424.9 469,424.5 470,424.9 471,424.8 471.5,425.4 472.5,425.1 473.5,425.6 474,425 475,425.2 476,424.7 476.5,425 477.5,424.7 479,424.9 479.5,425.3 480.5,425.4 481,425.3 482,422.7 482.8,421.2 483.5,422.2 484.5,424.8 485.5,424.7 486.5,423 487,421.6 487.5,421.7 489,424.6 489.5,425.2 490,425.5 491.5,425.4 492,425.1 493,425.2 494,425 494.5,425.5 495.5,425.7 498,425.1 498.5,425.5 499,425.5 500,424.8 501,424.4 502.5,424.7 503,425.1 504,425.4 505.5,424.8 507.5,424.5 508,424.2 508.5,424.2 509.5,424.8 511,424.6 512,425.3 513.5,425.4 514.5,425.1 515.5,425.6 517,425.8 517.5,425.4 519,425.5 519.5,425 520,425.4 522,425.5 523,425 524,424.9 525,425.4 526,425.3 526.5,425.7 527.5,425.6 528,425.9 528.5,426 530,425.5 530.5,425.2 531,425.4 532,425 532.5,425 533.5,424.8 535,425.6 535.5,426 536.5,425.8 537.5,425.3 538,425.4 539,425 540,425.7 540.5,425.3 541.5,425.8 542,425.8 542.5,425.4 543,425.3"/>
<polyline fill="none" stroke="#149a1a" stroke-width="1.35" stroke-linejoin="round" points="301,451.6 303,452.8 304.5,452.9 305,452.6 306,452.5 306.5,452.3 309,452.6 309.5,452.3 310,452.6 311,452.2 312,452.6 314.5,453 315,452.8 316,453.1 317,452.6 317.5,452.8 320,452.3 320.5,452.4 322,453 323.5,453 324.5,452.8 325,452.5 325.5,451.8 326,451.8 326.5,452.8 329.5,452.6 330,452.8 331.5,452.7 332,453 332.5,452.7 334.5,452.2 336.5,452.6 338.3,451.3 339,451.3 339.5,451.9 341,452.3 341.5,452.1 342,452.3 343,452.3 344,451.6 345,451.7 345.5,451.6 347,452 347.5,451.6 348,451.6 348.5,451.9 349,451.5 349.5,451.4 350,451.5 350.5,452.3 351.5,452.4 352.5,453 353,453 354.5,451.8 355.5,451.5 356.5,452.4 357.5,452.8 359.5,453 360,452.8 360.5,453.1 362,453.2 363.5,453.2 364,452.8 366.5,452.9 368,451.8 369.3,451.4 371,451.6 372,452.3 373,452.2 374,452.7 375.5,452.9 376,452.6 376.5,451.8 377.5,451.3 377.9,451.2 378.5,451.3 380,452.3 381.5,452.3 385,453 385.5,452.8 386.5,452.8 388,452.6 389,451.2 390.5,451.2 391,451.6 392,451 393.5,451.1 395,452 396,451.9 396.5,451.1 397,451.3 398,451.2 398.5,451.3 399,451.9 400.5,452.5 402,451.8 403.5,452 404.5,451.8 405,451.4 405.5,452.1 406,452.4 407.5,452.6 408.5,452.4 410.5,452.9 411,452.5 411.5,451.5 413,450.9 413.5,451.9 414,452.1 414.5,451.9 415.5,452.4 416.5,452.3 418.5,452.9 419.9,451.9 421.5,452.7 423.5,453.1 426,452.6 427,452.5 428,453 430,452.7 431,452.4 431.5,452.6 433.5,453.1 435,452.3 435.5,452.3 436.5,451.6 437,451.6 438,452.8 439.5,452.7 440.5,451.7 441,451.9 441.5,451.7 442.5,452.9 443,453 445.5,452.4 446.5,452.8 447,452.1 448.3,451.6 449,451.6 449.5,451.7 450.5,452.7 451.5,452.8 452,453.1 453,452.6 454,452.7 455.5,452.5 456.5,451.7 458,452.1 459,451.6 459.5,451.7 460,452.3 460.5,452.3 461,452.2 462.4,451.2 463,451.4 464,452.7 466,452.2 467,450.9 467.5,451 468.5,452.1 469.5,452.7 471,453.1 472.5,453.1 473,452.8 473.5,452.7 475.5,452.7 476.5,452.3 477,452.3 478,451.8 479,450.6 479.5,449 480.1,447.8 481,450.8 481.5,451.8 482.5,451.5 483,451.6 483.5,452.5 484.5,452.4 485.5,452.7 486,452.4 487,452.6 487.5,452.3 489.4,451.8 490,452.3 491,452.5 492.5,452 494.5,452.8 495.5,452.5 496,452.7 498.1,451.9 499.5,452.4 500.5,452.5 501,452.2 502.5,452.3 503.5,452.9 507,452.3 508,452 508.5,451.2 509.1,451.1 510,452.2 511,452.9 511.5,452.9 512,452.7 512.5,452.9 513.5,452.9 514,452.6 515.5,452.8 516.5,452.5 517.4,452 518.5,452.7 519.5,452.9 521.5,452.7 522,452.5 522.5,452.7 524,452.4 525.5,453 526.5,452.7 527.4,452 528,452.1 529,452.9 530,452.8 530.5,453 531,452.8 532.5,453 533,452.7 533.5,452.8 534.5,452.4 535,451.9 536,452.1 537,452.7 539,452.7 540.5,452.9 541,453.1 542,452.6 542.5,452.6 543,452.4"/>
<polyline fill="none" stroke="#149a1a" stroke-width="0.85" stroke-linejoin="round" points="301,451.6 302.5,452.6 304,452.9 306,452.5 306.5,452.3 309,452.6 309.5,452.3 310,452.6 311,452.2 312,452.6 314.5,453 315,452.8 316,453.1 317,452.6 317.5,452.8 320,452.3 320.5,452.4 322,453 323,453.1 324.5,452.8 325,452.5 325.7,444.3 326,449.4 326.5,452.8 329.5,452.6 330,452.8 331.5,452.7 332,453 332.5,452.7 334.5,452.2 336.5,452.6 337,452.4 337.5,451.8 338,446.1 338.3,431.6 339,450.9 339.5,451.9 341,452.3 341.5,452.1 342,452.3 343,452.3 344,451.6 344.9,447.1 345.5,449.4 345.9,445.5 346.5,451.9 347,452 347.7,444.6 348,450.2 348.5,451.9 349.4,450.5 350.5,452.3 351.5,452.4 352.5,453 353,453 354,452.2 354.5,448.2 354.9,427.9 355.5,450.1 356,452 357.5,452.8 358.5,452.9 359.5,453 360,452.8 360.5,453.1 362,453.2 363.5,453.2 364,452.8 366.5,452.9 367.5,452.2 368,451.2 368.5,448 369.3,439.3 370,447.2 370.5,450.7 371,451.6 372,452.3 373,452.2 374,452.7 375.5,452.9 376,452.6 376.5,451.8 377,450.3 377.9,443.7 379,451.1 379.5,451.9 380,452.3 381.5,452.3 385,453 385.5,452.8 386.5,452.8 388,452.6 388.5,452 389,449.3 389.5,430.4 390,449.1 390.5,451.2 391,451.6 391.5,451.4 392,450 392.8,444.3 393.5,449.7 394,451.5 395,452 396,451.9 396.5,451.1 397.5,447.8 398.5,451.3 399,451.9 400.5,452.5 401,452.3 401.5,451.8 402.3,449.2 403,450.6 403.5,449.8 404,447.8 405,451.4 405.5,452.1 406,452.4 407.5,452.6 408.5,452.4 410.5,452.9 411,452.5 411.5,451.5 412.3,449 413.5,451.9 414,452.1 414.5,451.9 415.5,452.4 416.5,452.3 418.5,452.9 419.9,451.9 421.5,452.7 423.5,453.1 426,452.6 427,452.5 428,453 430,452.7 431,452.4 431.5,452.6 433.5,453.1 435,452.3 435.5,452.3 436.9,451.3 438,452.8 439.5,452.7 441,450.6 442.5,452.9 443,453 445.5,452.4 446.5,452.8 447,452.1 447.5,450.7 448.3,445.9 449,450.1 449.5,451.7 450.5,452.7 451.5,452.8 452,453.1 453,452.6 454,452.7 455.5,452.5 456,452.2 456.9,449.9 457.5,451.4 458,452.1 459,450.1 460,452.3 461,452.2 461.5,451.7 462.4,448.9 463.5,452 464,452.7 466,452.2 467,450.9 467.3,450.8 468.5,452.1 469.5,452.7 470.5,453 472.5,453.1 473,452.8 473.5,452.7 475.5,452.7 476.5,452.3 477,452.3 478,451.8 478.5,451.3 479,450.6 479.5,449 480.1,447.8 481,450.8 481.5,451.8 482.5,451.3 483,451.6 483.5,452.5 484.5,452.4 485.5,452.7 486,452.4 487,452.6 487.5,452.3 489.4,451.8 490,452.3 491,452.5 492.5,452 494.5,452.8 495.5,452.5 496,452.7 498.1,451.9 499.5,452.4 500.5,452.5 501,452.2 502.5,452.3 503.5,452.9 507,452.3 508,452 508.5,451.2 509.1,451.1 510,452.2 511,452.9 511.5,452.9 512,452.7 512.5,452.9 513.5,452.9 514,452.6 515.5,452.8 516.5,452.5 517.4,452 518.5,452.7 519.5,452.9 521.5,452.7 522,452.5 522.5,452.7 524,452.4 525.5,453 526.5,452.7 527.4,452 528,452.1 529,452.9 530,452.8 530.5,453 531,452.8 532.5,453 533,452.7 533.5,452.8 534.5,452.4 535,451.9 536,452.1 537,452.7 539,452.7 540.5,452.9 541,453.1 542,452.6 542.5,452.6 543,452.4"/>
<polyline fill="none" stroke="#f5188c" stroke-width="1.0" stroke-linejoin="round" points="301,480.8 302,480.6 303.5,480.8 304.5,480.6 306.5,480.8 307.5,480.6 310,480.8 310.5,480.6 311.5,480.6 312.5,480.8 313,480.6 314.5,480.8 315.5,480.6 316,480.8 317,480.6 317.5,480.8 320,480.8 320.5,480.6 321,480.7 323,480.6 324,480.8 324.5,480.6 325.5,480.7 325.5,468.7 325.5,480.7 326.5,480.6 327,480.8 327.5,480.6 328.5,480.6 329,480.8 329.5,480.6 332,480.8 333,480.6 338.5,480.7 338.5,457.1 338.5,480.7 339.5,480.6 340.5,480.8 341.5,480.6 343,480.8 344.5,480.6 344.5,480.7 344.5,472.3 344.5,480.7 348.5,480.8 349.5,480.7 349.5,477.5 349.5,480.7 353,480.6 354.5,480.7 354.5,457.1 354.5,480.7 356.5,480.8 357.5,480.6 358,480.8 358.5,480.6 362.5,480.8 363,480.6 363.5,480.8 365,480.6 365.5,480.8 367.5,480.6 369.5,480.7 369.5,458.7 369.5,480.7 370,480.6 371,480.6 372,480.8 372.5,480.6 373.5,480.8 374,480.6 375,480.8 376,480.7 377.5,480.7 377.5,471.3 377.5,480.7 379.5,480.8 382,480.6 382.5,480.8 383,480.8 383.5,480.6 384,480.6 385.5,480.7 385.5,479.7 385.5,480.7 387,480.8 387.5,480.6 389.5,480.7 389.5,454.2 389.5,480.7 390,480.8 391,480.6 392.5,480.7 392.5,472.3 392.5,480.7 393.5,480.8 393.5,477.7 393.5,480.7 394.5,480.6 396,480.8 397.5,480.7 397.5,475 397.5,480.7 400,480.8 400.5,480.6 401,480.8 402.5,480.7 402.5,477.7 402.5,480.7 404.5,480.7 404.5,477.2 404.5,480.7 405.5,480.8 406,480.6 406.5,480.8 407,480.6 409.5,480.8 412.5,480.7 412.5,478.7 412.5,480.7 414,480.6 414.5,480.8 415.5,480.6 417,480.8 417.5,480.6 418,480.8 418.5,480.6 419,480.8 419.5,480.7 419.5,479.7 419.5,480.7 420.5,480.6 421.5,480.8 422.5,480.7 422.5,479.7 422.5,480.7 423.5,480.6 424,480.8 425,480.6 427,480.6 427.5,480.8 428,480.6 430,480.8 431,480.8 431.5,480.6 432.5,480.8 433,480.6 435.5,480.8 436,480.6 436.5,480.7 436.5,478.2 436.5,480.7 440.5,480.7 440.5,478.7 440.5,480.7 445.5,480.6 448,480.8 448.5,480.7 448.5,477.2 448.5,480.7 450,480.6 450.5,480.8 452,480.8 453.5,480.6 454.5,480.8 455,480.6 456.5,480.7 456.5,478.7 456.5,480.7 458,480.8 458.5,480.7 458.5,478.2 458.5,480.7 461,480.6 462.5,480.7 462.5,478.2 462.5,480.7 463,480.8 464,480.6 465.5,480.8 466.5,480.6 467.5,480.7 467.5,479.2 467.5,480.7 469.5,480.6 470,480.8 471,480.8 471.5,480.7 472,480.8 473.5,480.6 474.5,480.8 475.5,480.6 477,480.6 478,480.8 478.5,480.7 479,480.8 480.5,480.7 480.5,478.2 480.5,480.8 482,480.6 482.5,480.7 482.5,479.2 482.5,480.7 484,480.6 485,480.8 489.5,480.7 489.5,479.7 489.5,480.7 490,480.8 492,480.6 493.5,480.8 494,480.6 496,480.8 496.5,480.6 498.5,480.7 498.5,479.9 498.5,480.7 498.5,480.6 499.5,480.8 501,480.6 501.5,480.8 504.5,480.7 505,480.8 505.5,480.6 506,480.8 507.5,480.6 508,480.8 508.5,480.6 509.5,480.7 509.5,479.7 509.5,480.7 509.5,480.6 510,480.8 511,480.6 515,480.8 515.5,480.6 517.5,480.7 517.5,479.9 517.5,480.7 518,480.6 519,480.8 522.5,480.6 525.5,480.7 527,480.6 527.5,480.7 527.5,479.9 527.5,480.7 528,480.6 528.5,480.8 529,480.6 529.5,480.8 530,480.6 530.5,480.8 531.5,480.6 533,480.8 534,480.6 535.5,480.7 535.5,479.9 535.5,480.7 537.5,480.6 541.5,480.8 542,480.6 543,480.6"/>
<rect x="301.0" y="277.0" width="242.0" height="210.0" fill="none" stroke="#222" stroke-width="1.3"/>
<line x1="301.00" y1="487.0" x2="301.00" y2="483.0" stroke="#2a2a2a" stroke-width="1"/>
<text x="301.00" y="498.70" font-size="8.6" text-anchor="middle" fill="#1a1a1a" stroke="#1a1a1a" stroke-width="0.2">10</text>
<line x1="318.29" y1="487.0" x2="318.29" y2="484.8" stroke="#2a2a2a" stroke-width="1"/>
<line x1="335.57" y1="487.0" x2="335.57" y2="483.0" stroke="#2a2a2a" stroke-width="1"/>
<text x="335.57" y="498.70" font-size="8.6" text-anchor="middle" fill="#1a1a1a" stroke="#1a1a1a" stroke-width="0.2">20</text>
<line x1="352.86" y1="487.0" x2="352.86" y2="484.8" stroke="#2a2a2a" stroke-width="1"/>
<line x1="370.14" y1="487.0" x2="370.14" y2="483.0" stroke="#2a2a2a" stroke-width="1"/>
<text x="370.14" y="498.70" font-size="8.6" text-anchor="middle" fill="#1a1a1a" stroke="#1a1a1a" stroke-width="0.2">30</text>
<line x1="387.43" y1="487.0" x2="387.43" y2="484.8" stroke="#2a2a2a" stroke-width="1"/>
<line x1="404.71" y1="487.0" x2="404.71" y2="483.0" stroke="#2a2a2a" stroke-width="1"/>
<text x="404.71" y="498.70" font-size="8.6" text-anchor="middle" fill="#1a1a1a" stroke="#1a1a1a" stroke-width="0.2">40</text>
<line x1="422.00" y1="487.0" x2="422.00" y2="484.8" stroke="#2a2a2a" stroke-width="1"/>
<line x1="439.29" y1="487.0" x2="439.29" y2="483.0" stroke="#2a2a2a" stroke-width="1"/>
<text x="439.29" y="498.70" font-size="8.6" text-anchor="middle" fill="#1a1a1a" stroke="#1a1a1a" stroke-width="0.2">50</text>
<line x1="456.57" y1="487.0" x2="456.57" y2="484.8" stroke="#2a2a2a" stroke-width="1"/>
<line x1="473.86" y1="487.0" x2="473.86" y2="483.0" stroke="#2a2a2a" stroke-width="1"/>
<text x="473.86" y="498.70" font-size="8.6" text-anchor="middle" fill="#1a1a1a" stroke="#1a1a1a" stroke-width="0.2">60</text>
<line x1="491.14" y1="487.0" x2="491.14" y2="484.8" stroke="#2a2a2a" stroke-width="1"/>
<line x1="508.43" y1="487.0" x2="508.43" y2="483.0" stroke="#2a2a2a" stroke-width="1"/>
<text x="508.43" y="498.70" font-size="8.6" text-anchor="middle" fill="#1a1a1a" stroke="#1a1a1a" stroke-width="0.2">70</text>
<line x1="525.71" y1="487.0" x2="525.71" y2="484.8" stroke="#2a2a2a" stroke-width="1"/>
<line x1="543.00" y1="487.0" x2="543.00" y2="483.0" stroke="#2a2a2a" stroke-width="1"/>
<text x="543.00" y="498.70" font-size="8.6" text-anchor="middle" fill="#1a1a1a" stroke="#1a1a1a" stroke-width="0.2">80</text>
<text transform="translate(422.30,511.50) scale(0.94,1)" font-size="10" text-anchor="middle" fill="#1a1a1a" stroke="#1a1a1a" stroke-width="0.2">2θ(°)</text>
<text transform="translate(297.00,389.75) rotate(-90)" font-size="11.2" text-anchor="middle" fill="#1a1a1a" stroke="#1a1a1a" stroke-width="0.2">Normalized Intensity (a.u.)</text>
<text transform="translate(300.80,272.00) scale(0.92,1.09)" text-anchor="end" font-family="'Liberation Serif', serif" font-weight="bold" font-size="13.3" fill="#111">(D)</text>
<text transform="translate(540.50,317.40) scale(0.925,1.08)" font-size="9.9" text-anchor="end" fill="#111111" stroke="#111111" stroke-width="0.42">N16</text>
<text transform="translate(538.30,343.80) scale(0.925,1.08)" font-size="9.9" text-anchor="end" fill="#111111" stroke="#111111" stroke-width="0.42">N15</text>
<text transform="translate(537.80,370.00) scale(0.925,1.08)" font-size="9.9" text-anchor="end" fill="#111111" stroke="#111111" stroke-width="0.42">N14</text>
<text transform="translate(538.30,396.80) scale(0.925,1.08)" font-size="9.9" text-anchor="end" fill="#111111" stroke="#111111" stroke-width="0.42">N13</text>
<text transform="translate(540.00,421.80) scale(0.925,1.08)" font-size="9.9" text-anchor="end" fill="#138c18" stroke="#138c18" stroke-width="0.42">E4 with TT</text>
<text transform="translate(540.00,448.70) scale(0.925,1.08)" font-size="9.9" text-anchor="end" fill="#138c18" stroke="#138c18" stroke-width="0.42">E4 without HT</text>
<text transform="translate(540.50,477.00) scale(0.925,1.08)" font-size="9.9" text-anchor="end" fill="#f5188c" stroke="#f5188c" stroke-width="0.42">COD-4001849</text>
<text transform="translate(337.70,301.00) scale(0.96,1.08)" font-size="9.9" text-anchor="middle" fill="#111" stroke="#111" stroke-width="0.35">(101)</text>
<text transform="translate(369.90,297.70) scale(0.96,1.08)" font-size="9.9" text-anchor="middle" fill="#111" stroke="#111" stroke-width="0.35">(020)</text>
<text transform="translate(393.40,295.50) scale(0.96,1.08)" font-size="9.9" text-anchor="middle" fill="#111" stroke="#111" stroke-width="0.35">(111)</text>
<rect x="329" y="428.2" width="19" height="12.2" fill="#fff"/>
<ellipse cx="345.5" cy="450.3" rx="4.5" ry="6.3" fill="none" stroke="#111" stroke-width="1.2"/>
<text transform="translate(329.9,435.8) scale(0.97,1.25)" font-size="6.1" fill="#222" stroke="#222" stroke-width="0.15">Li<tspan font-size="4.3" dy="1.6">3</tspan><tspan dy="-1.6">PO</tspan><tspan font-size="4.3" dy="1.6">4</tspan></text>
<line x1="344.4" y1="440.0" x2="346.7" y2="444.0" stroke="#111" stroke-width="0.8"/>
<path d="M341.7,436.9 L343.1,441.1 L345.9,439.1 Z" fill="#111"/>
</svg>
</body></html>
